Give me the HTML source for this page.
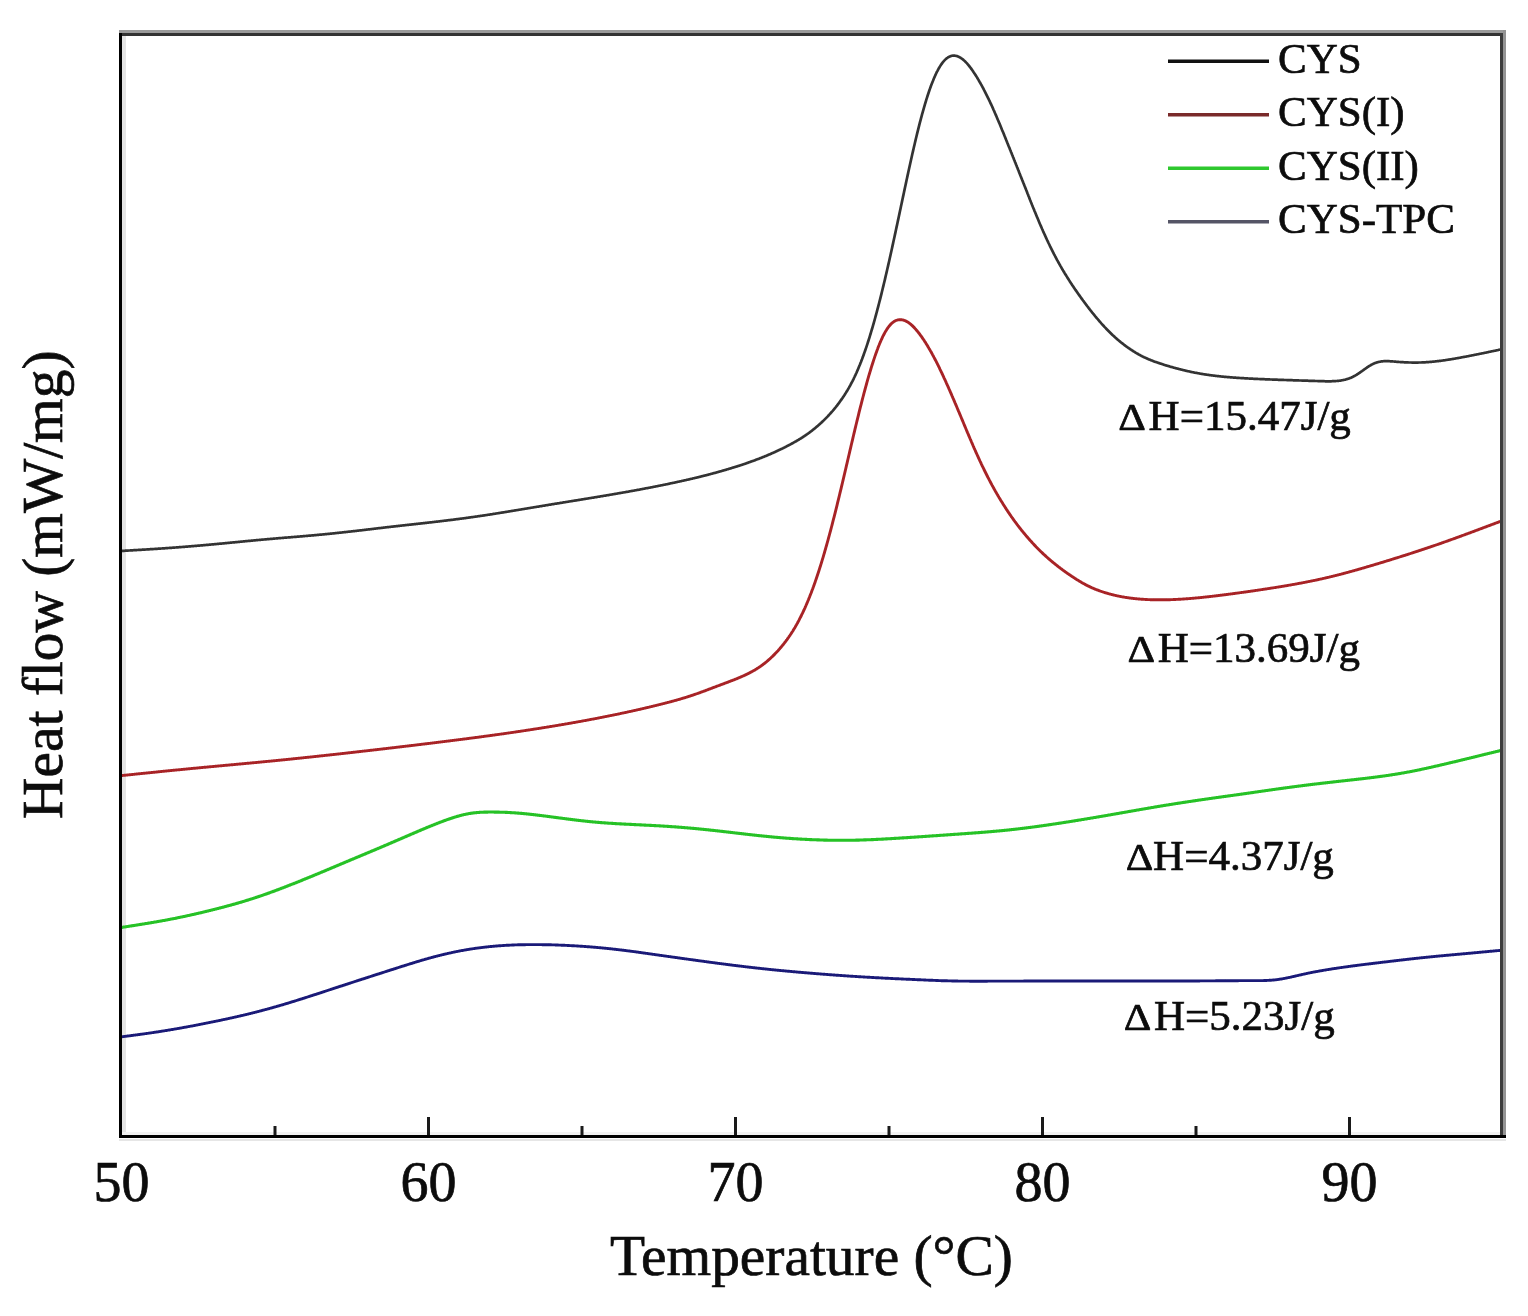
<!DOCTYPE html>
<html><head><meta charset="utf-8"><title>DSC curves</title>
<style>
html,body{margin:0;padding:0;background:#fff;}
body{width:1528px;height:1316px;overflow:hidden;}
svg{display:block;}
text{font-family:"Liberation Serif","Times New Roman",serif;fill:#0c0c0c;stroke:#0c0c0c;stroke-width:0.7px;}
</style></head><body>
<svg width="1528" height="1316" viewBox="0 0 1528 1316">
<rect width="1528" height="1316" fill="#fff"/>
<rect x="122" y="36" width="4" height="1099" fill="#e4e4e4"/>
<rect x="122" y="1132" width="1378" height="3" fill="#f2f2f2"/>
<!-- curves -->
<g fill="none" stroke-linejoin="round" stroke-linecap="butt">
<path d="M121.5 551.0L122.0 550.9 122.5 550.9 123.0 550.9 123.5 550.8 124.0 550.8 124.5 550.8 125.0 550.7 125.5 550.7 126.0 550.7 126.5 550.7 127.0 550.6 127.5 550.6 128.0 550.6 128.5 550.5 129.0 550.5 129.5 550.5 130.0 550.5 130.5 550.4 131.0 550.4 131.5 550.4 132.0 550.3 132.5 550.3 133.0 550.3 133.5 550.2 134.0 550.2 134.5 550.2 135.0 550.2 135.5 550.1 136.0 550.1 136.5 550.1 137.0 550.0 137.5 550.0 138.0 550.0 138.5 549.9 139.0 549.9 139.5 549.9 140.0 549.9 140.5 549.8 141.0 549.8 141.5 549.8 142.0 549.7 142.5 549.7 143.0 549.7 143.5 549.6 144.0 549.6 144.5 549.6 145.0 549.6 145.5 549.5 146.0 549.5 146.5 549.5 147.0 549.4 147.5 549.4 148.0 549.4 148.5 549.3 149.0 549.3 149.5 549.3 150.0 549.2 150.5 549.2 151.0 549.2 151.5 549.1 152.0 549.1 152.5 549.1 153.0 549.1 153.5 549.0 154.0 549.0 154.5 549.0 155.0 548.9 155.5 548.9 156.0 548.9 156.5 548.8 157.0 548.8 157.5 548.8 158.0 548.7 158.5 548.7 159.0 548.7 159.5 548.6 160.0 548.6 160.5 548.6 161.0 548.5 161.5 548.5 162.0 548.5 162.5 548.4 163.0 548.4 163.5 548.4 164.0 548.3 164.5 548.3 165.0 548.3 165.5 548.2 166.0 548.2 166.5 548.2 167.0 548.1 167.5 548.1 168.0 548.0 168.5 548.0 169.0 548.0 169.5 547.9 170.0 547.9 170.5 547.9 171.0 547.8 171.5 547.8 172.0 547.8 172.5 547.7 173.0 547.7 173.5 547.7 174.0 547.6 174.5 547.6 175.0 547.5 175.5 547.5 176.0 547.5 176.5 547.4 177.0 547.4 177.5 547.4 178.0 547.3 178.5 547.3 179.0 547.2 179.5 547.2 180.0 547.2 180.5 547.1 181.0 547.1 181.5 547.0 182.0 547.0 182.5 547.0 183.0 546.9 183.5 546.9 184.0 546.9 184.5 546.8 185.0 546.8 185.5 546.7 186.0 546.7 186.5 546.7 187.0 546.6 187.5 546.6 188.0 546.5 188.5 546.5 189.0 546.4 189.5 546.4 190.0 546.4 190.5 546.3 191.0 546.3 191.5 546.2 192.0 546.2 192.5 546.2 193.0 546.1 193.5 546.1 194.0 546.0 194.5 546.0 195.0 545.9 195.5 545.9 196.0 545.9 196.5 545.8 197.0 545.8 197.5 545.7 198.0 545.7 198.5 545.7 199.0 545.6 199.5 545.6 200.0 545.5 200.5 545.5 201.0 545.4 201.5 545.4 202.0 545.3 202.5 545.3 203.0 545.3 203.5 545.2 204.0 545.2 204.5 545.1 205.0 545.1 205.5 545.0 206.0 545.0 206.5 544.9 207.0 544.9 207.5 544.9 208.0 544.8 208.5 544.8 209.0 544.7 209.5 544.7 210.0 544.6 210.5 544.6 211.0 544.5 211.5 544.5 212.0 544.4 212.5 544.4 213.0 544.4 213.5 544.3 214.0 544.3 214.5 544.2 215.0 544.2 215.5 544.1 216.0 544.1 216.5 544.0 217.0 544.0 217.5 543.9 218.0 543.9 218.5 543.8 219.0 543.8 219.5 543.7 220.0 543.7 220.5 543.6 221.0 543.6 221.5 543.6 222.0 543.5 222.5 543.5 223.0 543.4 223.5 543.4 224.0 543.3 224.5 543.3 225.0 543.2 225.5 543.2 226.0 543.1 226.5 543.1 227.0 543.0 227.5 543.0 228.0 542.9 228.5 542.9 229.0 542.8 229.5 542.8 230.0 542.7 230.5 542.7 231.0 542.6 231.5 542.6 232.0 542.5 232.5 542.5 233.0 542.4 233.5 542.4 234.0 542.3 234.5 542.3 235.0 542.3 235.5 542.2 236.0 542.2 236.5 542.1 237.0 542.1 237.5 542.0 238.0 542.0 238.5 541.9 239.0 541.9 239.5 541.8 240.0 541.8 240.5 541.7 241.0 541.7 241.5 541.6 242.0 541.6 242.5 541.5 243.0 541.5 243.5 541.4 244.0 541.4 244.5 541.3 245.0 541.3 245.5 541.2 246.0 541.2 246.5 541.1 247.0 541.1 247.5 541.0 248.0 541.0 248.5 540.9 249.0 540.9 249.5 540.8 250.0 540.8 250.5 540.8 251.0 540.7 251.5 540.7 252.0 540.6 252.5 540.6 253.0 540.5 253.5 540.5 254.0 540.4 254.5 540.4 255.0 540.3 255.5 540.3 256.0 540.2 256.5 540.2 257.0 540.1 257.5 540.1 258.0 540.0 258.5 540.0 259.0 540.0 259.5 539.9 260.0 539.9 260.5 539.8 261.0 539.8 261.5 539.7 262.0 539.7 262.5 539.6 263.0 539.6 263.5 539.5 264.0 539.5 264.5 539.5 265.0 539.4 265.5 539.4 266.0 539.3 266.5 539.3 267.0 539.2 267.5 539.2 268.0 539.1 268.5 539.1 269.0 539.1 269.5 539.0 270.0 539.0 270.5 538.9 271.0 538.9 271.5 538.8 272.0 538.8 272.5 538.8 273.0 538.7 273.5 538.7 274.0 538.6 274.5 538.6 275.0 538.5 275.5 538.5 276.0 538.5 276.5 538.4 277.0 538.4 277.5 538.3 278.0 538.3 278.5 538.2 279.0 538.2 279.5 538.2 280.0 538.1 280.5 538.1 281.0 538.0 281.5 538.0 282.0 538.0 282.5 537.9 283.0 537.9 283.5 537.8 284.0 537.8 284.5 537.7 285.0 537.7 285.5 537.7 286.0 537.6 286.5 537.6 287.0 537.5 287.5 537.5 288.0 537.5 288.5 537.4 289.0 537.4 289.5 537.3 290.0 537.3 290.5 537.3 291.0 537.2 291.5 537.2 292.0 537.1 292.5 537.1 293.0 537.0 293.5 537.0 294.0 537.0 294.5 536.9 295.0 536.9 295.5 536.8 296.0 536.8 296.5 536.8 297.0 536.7 297.5 536.7 298.0 536.6 298.5 536.6 299.0 536.6 299.5 536.5 300.0 536.5 300.5 536.4 301.0 536.4 301.5 536.3 302.0 536.3 302.5 536.3 303.0 536.2 303.5 536.2 304.0 536.1 304.5 536.1 305.0 536.0 305.5 536.0 306.0 536.0 306.5 535.9 307.0 535.9 307.5 535.8 308.0 535.8 308.5 535.7 309.0 535.7 309.5 535.7 310.0 535.6 310.5 535.6 311.0 535.5 311.5 535.5 312.0 535.4 312.5 535.4 313.0 535.3 313.5 535.3 314.0 535.3 314.5 535.2 315.0 535.2 315.5 535.1 316.0 535.1 316.5 535.0 317.0 535.0 317.5 534.9 318.0 534.9 318.5 534.8 319.0 534.8 319.5 534.7 320.0 534.7 320.5 534.7 321.0 534.6 321.5 534.6 322.0 534.5 322.5 534.5 323.0 534.4 323.5 534.4 324.0 534.3 324.5 534.3 325.0 534.2 325.5 534.2 326.0 534.1 326.5 534.1 327.0 534.0 327.5 534.0 328.0 533.9 328.5 533.9 329.0 533.8 329.5 533.8 330.0 533.7 330.5 533.7 331.0 533.6 331.5 533.6 332.0 533.5 332.5 533.5 333.0 533.4 333.5 533.4 334.0 533.3 334.5 533.3 335.0 533.2 335.5 533.2 336.0 533.1 336.5 533.0 337.0 533.0 337.5 532.9 338.0 532.9 338.5 532.8 339.0 532.8 339.5 532.7 340.0 532.7 340.5 532.6 341.0 532.6 341.5 532.5 342.0 532.5 342.5 532.4 343.0 532.4 343.5 532.3 344.0 532.2 344.5 532.2 345.0 532.1 345.5 532.1 346.0 532.0 346.5 532.0 347.0 531.9 347.5 531.9 348.0 531.8 348.5 531.7 349.0 531.7 349.5 531.6 350.0 531.6 350.5 531.5 351.0 531.5 351.5 531.4 352.0 531.4 352.5 531.3 353.0 531.2 353.5 531.2 354.0 531.1 354.5 531.1 355.0 531.0 355.5 531.0 356.0 530.9 356.5 530.8 357.0 530.8 357.5 530.7 358.0 530.7 358.5 530.6 359.0 530.5 359.5 530.5 360.0 530.4 360.5 530.4 361.0 530.3 361.5 530.3 362.0 530.2 362.5 530.1 363.0 530.1 363.5 530.0 364.0 530.0 364.5 529.9 365.0 529.8 365.5 529.8 366.0 529.7 366.5 529.7 367.0 529.6 367.5 529.5 368.0 529.5 368.5 529.4 369.0 529.4 369.5 529.3 370.0 529.3 370.5 529.2 371.0 529.1 371.5 529.1 372.0 529.0 372.5 529.0 373.0 528.9 373.5 528.8 374.0 528.8 374.5 528.7 375.0 528.7 375.5 528.6 376.0 528.5 376.5 528.5 377.0 528.4 377.5 528.4 378.0 528.3 378.5 528.2 379.0 528.2 379.5 528.1 380.0 528.1 380.5 528.0 381.0 528.0 381.5 527.9 382.0 527.8 382.5 527.8 383.0 527.7 383.5 527.7 384.0 527.6 384.5 527.5 385.0 527.5 385.5 527.4 386.0 527.4 386.5 527.3 387.0 527.2 387.5 527.2 388.0 527.1 388.5 527.1 389.0 527.0 389.5 527.0 390.0 526.9 390.5 526.8 391.0 526.8 391.5 526.7 392.0 526.7 392.5 526.6 393.0 526.6 393.5 526.5 394.0 526.4 394.5 526.4 395.0 526.3 395.5 526.3 396.0 526.2 396.5 526.2 397.0 526.1 397.5 526.1 398.0 526.0 398.5 525.9 399.0 525.9 399.5 525.8 400.0 525.8 400.5 525.7 401.0 525.7 401.5 525.6 402.0 525.5 402.5 525.5 403.0 525.4 403.5 525.4 404.0 525.3 404.5 525.3 405.0 525.2 405.5 525.2 406.0 525.1 406.5 525.0 407.0 525.0 407.5 524.9 408.0 524.9 408.5 524.8 409.0 524.8 409.5 524.7 410.0 524.7 410.5 524.6 411.0 524.6 411.5 524.5 412.0 524.4 412.5 524.4 413.0 524.3 413.5 524.3 414.0 524.2 414.5 524.2 415.0 524.1 415.5 524.1 416.0 524.0 416.5 523.9 417.0 523.9 417.5 523.8 418.0 523.8 418.5 523.7 419.0 523.7 419.5 523.6 420.0 523.6 420.5 523.5 421.0 523.4 421.5 523.4 422.0 523.3 422.5 523.3 423.0 523.2 423.5 523.2 424.0 523.1 424.5 523.1 425.0 523.0 425.5 522.9 426.0 522.9 426.5 522.8 427.0 522.8 427.5 522.7 428.0 522.7 428.5 522.6 429.0 522.5 429.5 522.5 430.0 522.4 430.5 522.4 431.0 522.3 431.5 522.3 432.0 522.2 432.5 522.1 433.0 522.1 433.5 522.0 434.0 522.0 434.5 521.9 435.0 521.9 435.5 521.8 436.0 521.7 436.5 521.7 437.0 521.6 437.5 521.6 438.0 521.5 438.5 521.5 439.0 521.4 439.5 521.3 440.0 521.3 440.5 521.2 441.0 521.2 441.5 521.1 442.0 521.0 442.5 521.0 443.0 520.9 443.5 520.9 444.0 520.8 444.5 520.7 445.0 520.7 445.5 520.6 446.0 520.6 446.5 520.5 447.0 520.4 447.5 520.4 448.0 520.3 448.5 520.2 449.0 520.2 449.5 520.1 450.0 520.1 450.5 520.0 451.0 519.9 451.5 519.9 452.0 519.8 452.5 519.8 453.0 519.7 453.5 519.6 454.0 519.6 454.5 519.5 455.0 519.4 455.5 519.4 456.0 519.3 456.5 519.2 457.0 519.2 457.5 519.1 458.0 519.1 458.5 519.0 459.0 518.9 459.5 518.9 460.0 518.8 460.5 518.7 461.0 518.7 461.5 518.6 462.0 518.5 462.5 518.5 463.0 518.4 463.5 518.3 464.0 518.3 464.5 518.2 465.0 518.1 465.5 518.1 466.0 518.0 466.5 517.9 467.0 517.9 467.5 517.8 468.0 517.7 468.5 517.7 469.0 517.6 469.5 517.5 470.0 517.4 470.5 517.4 471.0 517.3 471.5 517.2 472.0 517.2 472.5 517.1 473.0 517.0 473.5 517.0 474.0 516.9 474.5 516.8 475.0 516.7 475.5 516.7 476.0 516.6 476.5 516.5 477.0 516.5 477.5 516.4 478.0 516.3 478.5 516.2 479.0 516.2 479.5 516.1 480.0 516.0 480.5 515.9 481.0 515.9 481.5 515.8 482.0 515.7 482.5 515.6 483.0 515.6 483.5 515.5 484.0 515.4 484.5 515.3 485.0 515.3 485.5 515.2 486.0 515.1 486.5 515.0 487.0 515.0 487.5 514.9 488.0 514.8 488.5 514.7 489.0 514.6 489.5 514.6 490.0 514.5 490.5 514.4 491.0 514.3 491.5 514.3 492.0 514.2 492.5 514.1 493.0 514.0 493.5 513.9 494.0 513.9 494.5 513.8 495.0 513.7 495.5 513.6 496.0 513.5 496.5 513.5 497.0 513.4 497.5 513.3 498.0 513.2 498.5 513.1 499.0 513.1 499.5 513.0 500.0 512.9 500.5 512.8 501.0 512.7 501.5 512.7 502.0 512.6 502.5 512.5 503.0 512.4 503.5 512.3 504.0 512.3 504.5 512.2 505.0 512.1 505.5 512.0 506.0 511.9 506.5 511.9 507.0 511.8 507.5 511.7 508.0 511.6 508.5 511.5 509.0 511.4 509.5 511.4 510.0 511.3 510.5 511.2 511.0 511.1 511.5 511.0 512.0 510.9 512.5 510.9 513.0 510.8 513.5 510.7 514.0 510.6 514.5 510.5 515.0 510.4 515.5 510.4 516.0 510.3 516.5 510.2 517.0 510.1 517.5 510.0 518.0 510.0 518.5 509.9 519.0 509.8 519.5 509.7 520.0 509.6 520.5 509.5 521.0 509.5 521.5 509.4 522.0 509.3 522.5 509.2 523.0 509.1 523.5 509.0 524.0 509.0 524.5 508.9 525.0 508.8 525.5 508.7 526.0 508.6 526.5 508.5 527.0 508.5 527.5 508.4 528.0 508.3 528.5 508.2 529.0 508.1 529.5 508.0 530.0 508.0 530.5 507.9 531.0 507.8 531.5 507.7 532.0 507.6 532.5 507.5 533.0 507.5 533.5 507.4 534.0 507.3 534.5 507.2 535.0 507.1 535.5 507.0 536.0 507.0 536.5 506.9 537.0 506.8 537.5 506.7 538.0 506.6 538.5 506.6 539.0 506.5 539.5 506.4 540.0 506.3 540.5 506.2 541.0 506.1 541.5 506.1 542.0 506.0 542.5 505.9 543.0 505.8 543.5 505.7 544.0 505.6 544.5 505.6 545.0 505.5 545.5 505.4 546.0 505.3 546.5 505.2 547.0 505.1 547.5 505.1 548.0 505.0 548.5 504.9 549.0 504.8 549.5 504.7 550.0 504.7 550.5 504.6 551.0 504.5 551.5 504.4 552.0 504.3 552.5 504.2 553.0 504.2 553.5 504.1 554.0 504.0 554.5 503.9 555.0 503.8 555.5 503.7 556.0 503.7 556.5 503.6 557.0 503.5 557.5 503.4 558.0 503.3 558.5 503.3 559.0 503.2 559.5 503.1 560.0 503.0 560.5 502.9 561.0 502.8 561.5 502.8 562.0 502.7 562.5 502.6 563.0 502.5 563.5 502.4 564.0 502.4 564.5 502.3 565.0 502.2 565.5 502.1 566.0 502.0 566.5 502.0 567.0 501.9 567.5 501.8 568.0 501.7 568.5 501.6 569.0 501.5 569.5 501.5 570.0 501.4 570.5 501.3 571.0 501.2 571.5 501.1 572.0 501.1 572.5 501.0 573.0 500.9 573.5 500.8 574.0 500.7 574.5 500.7 575.0 500.6 575.5 500.5 576.0 500.4 576.5 500.3 577.0 500.3 577.5 500.2 578.0 500.1 578.5 500.0 579.0 499.9 579.5 499.8 580.0 499.8 580.5 499.7 581.0 499.6 581.5 499.5 582.0 499.4 582.5 499.4 583.0 499.3 583.5 499.2 584.0 499.1 584.5 499.0 585.0 498.9 585.5 498.9 586.0 498.8 586.5 498.7 587.0 498.6 587.5 498.5 588.0 498.5 588.5 498.4 589.0 498.3 589.5 498.2 590.0 498.1 590.5 498.0 591.0 498.0 591.5 497.9 592.0 497.8 592.5 497.7 593.0 497.6 593.5 497.6 594.0 497.5 594.5 497.4 595.0 497.3 595.5 497.2 596.0 497.1 596.5 497.1 597.0 497.0 597.5 496.9 598.0 496.8 598.5 496.7 599.0 496.6 599.5 496.6 600.0 496.5 600.5 496.4 601.0 496.3 601.5 496.2 602.0 496.1 602.5 496.1 603.0 496.0 603.5 495.9 604.0 495.8 604.5 495.7 605.0 495.6 605.5 495.6 606.0 495.5 606.5 495.4 607.0 495.3 607.5 495.2 608.0 495.1 608.5 495.1 609.0 495.0 609.5 494.9 610.0 494.8 610.5 494.7 611.0 494.6 611.5 494.5 612.0 494.5 612.5 494.4 613.0 494.3 613.5 494.2 614.0 494.1 614.5 494.0 615.0 493.9 615.5 493.9 616.0 493.8 616.5 493.7 617.0 493.6 617.5 493.5 618.0 493.4 618.5 493.3 619.0 493.2 619.5 493.2 620.0 493.1 620.5 493.0 621.0 492.9 621.5 492.8 622.0 492.7 622.5 492.6 623.0 492.5 623.5 492.5 624.0 492.4 624.5 492.3 625.0 492.2 625.5 492.1 626.0 492.0 626.5 491.9 627.0 491.8 627.5 491.8 628.0 491.7 628.5 491.6 629.0 491.5 629.5 491.4 630.0 491.3 630.5 491.2 631.0 491.1 631.5 491.0 632.0 490.9 632.5 490.9 633.0 490.8 633.5 490.7 634.0 490.6 634.5 490.5 635.0 490.4 635.5 490.3 636.0 490.2 636.5 490.1 637.0 490.0 637.5 489.9 638.0 489.8 638.5 489.8 639.0 489.7 639.5 489.6 640.0 489.5 640.5 489.4 641.0 489.3 641.5 489.2 642.0 489.1 642.5 489.0 643.0 488.9 643.5 488.8 644.0 488.7 644.5 488.6 645.0 488.5 645.5 488.4 646.0 488.3 646.5 488.2 647.0 488.1 647.5 488.1 648.0 488.0 648.5 487.9 649.0 487.8 649.5 487.7 650.0 487.6 650.5 487.5 651.0 487.4 651.5 487.3 652.0 487.2 652.5 487.1 653.0 487.0 653.5 486.9 654.0 486.8 654.5 486.7 655.0 486.6 655.5 486.5 656.0 486.4 656.5 486.3 657.0 486.2 657.5 486.1 658.0 486.0 658.5 485.9 659.0 485.8 659.5 485.7 660.0 485.6 660.5 485.5 661.0 485.4 661.5 485.3 662.0 485.2 662.5 485.1 663.0 485.0 663.5 484.9 664.0 484.8 664.5 484.7 665.0 484.6 665.5 484.5 666.0 484.4 666.5 484.3 667.0 484.2 667.5 484.1 668.0 484.0 668.5 483.9 669.0 483.7 669.5 483.6 670.0 483.5 670.5 483.4 671.0 483.3 671.5 483.2 672.0 483.1 672.5 483.0 673.0 482.9 673.5 482.8 674.0 482.7 674.5 482.6 675.0 482.5 675.5 482.4 676.0 482.3 676.5 482.2 677.0 482.0 677.5 481.9 678.0 481.8 678.5 481.7 679.0 481.6 679.5 481.5 680.0 481.4 680.5 481.3 681.0 481.2 681.5 481.1 682.0 480.9 682.5 480.8 683.0 480.7 683.5 480.6 684.0 480.5 684.5 480.4 685.0 480.3 685.5 480.2 686.0 480.1 686.5 479.9 687.0 479.8 687.5 479.7 688.0 479.6 688.5 479.5 689.0 479.4 689.5 479.2 690.0 479.1 690.5 479.0 691.0 478.9 691.5 478.8 692.0 478.7 692.5 478.6 693.0 478.4 693.5 478.3 694.0 478.2 694.5 478.1 695.0 478.0 695.5 477.8 696.0 477.7 696.5 477.6 697.0 477.5 697.5 477.4 698.0 477.2 698.5 477.1 699.0 477.0 699.5 476.9 700.0 476.7 700.5 476.6 701.0 476.5 701.5 476.4 702.0 476.3 702.5 476.1 703.0 476.0 703.5 475.9 704.0 475.8 704.5 475.6 705.0 475.5 705.5 475.4 706.0 475.2 706.5 475.1 707.0 475.0 707.5 474.9 708.0 474.7 708.5 474.6 709.0 474.5 709.5 474.3 710.0 474.2 710.5 474.1 711.0 473.9 711.5 473.8 712.0 473.7 712.5 473.5 713.0 473.4 713.5 473.3 714.0 473.1 714.5 473.0 715.0 472.9 715.5 472.7 716.0 472.6 716.5 472.5 717.0 472.3 717.5 472.2 718.0 472.0 718.5 471.9 719.0 471.8 719.5 471.6 720.0 471.5 720.5 471.3 721.0 471.2 721.5 471.1 722.0 470.9 722.5 470.8 723.0 470.6 723.5 470.5 724.0 470.3 724.5 470.2 725.0 470.0 725.5 469.9 726.0 469.7 726.5 469.6 727.0 469.4 727.5 469.3 728.0 469.2 728.5 469.0 729.0 468.8 729.5 468.7 730.0 468.5 730.5 468.4 731.0 468.2 731.5 468.1 732.0 467.9 732.5 467.8 733.0 467.6 733.5 467.5 734.0 467.3 734.5 467.2 735.0 467.0 735.5 466.8 736.0 466.7 736.5 466.5 737.0 466.4 737.5 466.2 738.0 466.0 738.5 465.9 739.0 465.7 739.5 465.6 740.0 465.4 740.5 465.2 741.0 465.1 741.5 464.9 742.0 464.7 742.5 464.6 743.0 464.4 743.5 464.2 744.0 464.1 744.5 463.9 745.0 463.7 745.5 463.6 746.0 463.4 746.5 463.2 747.0 463.0 747.5 462.9 748.0 462.7 748.5 462.5 749.0 462.3 749.5 462.2 750.0 462.0 750.5 461.8 751.0 461.6 751.5 461.5 752.0 461.3 752.5 461.1 753.0 460.9 753.5 460.7 754.0 460.6 754.5 460.4 755.0 460.2 755.5 460.0 756.0 459.8 756.5 459.6 757.0 459.4 757.5 459.3 758.0 459.1 758.5 458.9 759.0 458.7 759.5 458.5 760.0 458.3 760.5 458.1 761.0 457.9 761.5 457.7 762.0 457.5 762.5 457.3 763.0 457.1 763.5 456.9 764.0 456.7 764.5 456.5 765.0 456.3 765.5 456.1 766.0 455.9 766.5 455.7 767.0 455.5 767.5 455.3 768.0 455.0 768.5 454.8 769.0 454.6 769.5 454.4 770.0 454.2 770.5 454.0 771.0 453.8 771.5 453.5 772.0 453.3 772.5 453.1 773.0 452.9 773.5 452.6 774.0 452.4 774.5 452.2 775.0 452.0 775.5 451.7 776.0 451.5 776.5 451.3 777.0 451.0 777.5 450.8 778.0 450.6 778.5 450.3 779.0 450.1 779.5 449.9 780.0 449.6 780.5 449.4 781.0 449.1 781.5 448.9 782.0 448.7 782.5 448.4 783.0 448.2 783.5 447.9 784.0 447.7 784.5 447.4 785.0 447.2 785.5 446.9 786.0 446.7 786.5 446.4 787.0 446.1 787.5 445.9 788.0 445.6 788.5 445.4 789.0 445.1 789.5 444.9 790.0 444.6 790.5 444.3 791.0 444.1 791.5 443.8 792.0 443.5 792.5 443.2 793.0 443.0 793.5 442.7 794.0 442.4 794.5 442.1 795.0 441.8 795.5 441.6 796.0 441.3 796.5 441.0 797.0 440.7 797.5 440.4 798.0 440.1 798.5 439.8 799.0 439.5 799.5 439.2 800.0 438.9 800.5 438.6 801.0 438.3 801.5 438.0 802.0 437.6 802.5 437.3 803.0 437.0 803.5 436.7 804.0 436.3 804.5 436.0 805.0 435.7 805.5 435.3 806.0 435.0 806.5 434.6 807.0 434.3 807.5 433.9 808.0 433.6 808.5 433.2 809.0 432.9 809.5 432.5 810.0 432.1 810.5 431.7 811.0 431.4 811.5 431.0 812.0 430.6 812.5 430.2 813.0 429.8 813.5 429.4 814.0 429.0 814.5 428.6 815.0 428.2 815.5 427.8 816.0 427.4 816.5 426.9 817.0 426.5 817.5 426.1 818.0 425.6 818.5 425.2 819.0 424.8 819.5 424.3 820.0 423.9 820.5 423.4 821.0 423.0 821.5 422.5 822.0 422.0 822.5 421.5 823.0 421.1 823.5 420.6 824.0 420.1 824.5 419.6 825.0 419.1 825.5 418.6 826.0 418.1 826.5 417.6 827.0 417.1 827.5 416.6 828.0 416.0 828.5 415.5 829.0 415.0 829.5 414.4 830.0 413.9 830.5 413.3 831.0 412.8 831.5 412.2 832.0 411.6 832.5 411.1 833.0 410.5 833.5 409.9 834.0 409.3 834.5 408.7 835.0 408.1 835.5 407.5 836.0 406.8 836.5 406.2 837.0 405.6 837.5 404.9 838.0 404.2 838.5 403.6 839.0 402.9 839.5 402.2 840.0 401.5 840.5 400.8 841.0 400.1 841.5 399.4 842.0 398.7 842.5 398.0 843.0 397.2 843.5 396.5 844.0 395.7 844.5 395.0 845.0 394.2 845.5 393.4 846.0 392.6 846.5 391.8 847.0 391.0 847.5 390.2 848.0 389.3 848.5 388.4 849.0 387.6 849.5 386.7 850.0 385.8 850.5 384.9 851.0 383.9 851.5 383.0 852.0 382.0 852.5 381.1 853.0 380.1 853.5 379.1 854.0 378.0 854.5 377.0 855.0 375.9 855.5 374.9 856.0 373.8 856.5 372.7 857.0 371.5 857.5 370.4 858.0 369.2 858.5 368.0 859.0 366.8 859.5 365.6 860.0 364.4 860.5 363.1 861.0 361.9 861.5 360.6 862.0 359.3 862.5 357.9 863.0 356.6 863.5 355.2 864.0 353.8 864.5 352.4 865.0 351.0 865.5 349.5 866.0 348.1 866.5 346.6 867.0 345.1 867.5 343.6 868.0 342.0 868.5 340.5 869.0 338.9 869.5 337.3 870.0 335.7 870.5 334.0 871.0 332.4 871.5 330.7 872.0 329.0 872.5 327.3 873.0 325.6 873.5 323.8 874.0 322.1 874.5 320.3 875.0 318.5 875.5 316.7 876.0 314.8 876.5 313.0 877.0 311.1 877.5 309.2 878.0 307.3 878.5 305.4 879.0 303.5 879.5 301.5 880.0 299.6 880.5 297.6 881.0 295.6 881.5 293.6 882.0 291.5 882.5 289.5 883.0 287.4 883.5 285.4 884.0 283.3 884.5 281.2 885.0 279.1 885.5 276.9 886.0 274.8 886.5 272.6 887.0 270.5 887.5 268.3 888.0 266.1 888.5 263.9 889.0 261.7 889.5 259.5 890.0 257.2 890.5 255.0 891.0 252.7 891.5 250.5 892.0 248.2 892.5 245.9 893.0 243.6 893.5 241.3 894.0 239.0 894.5 236.7 895.0 234.4 895.5 232.1 896.0 229.8 896.5 227.4 897.0 225.1 897.5 222.8 898.0 220.4 898.5 218.1 899.0 215.7 899.5 213.4 900.0 211.0 900.5 208.7 901.0 206.3 901.5 204.0 902.0 201.6 902.5 199.3 903.0 196.9 903.5 194.6 904.0 192.2 904.5 189.9 905.0 187.5 905.5 185.2 906.0 182.9 906.5 180.5 907.0 178.2 907.5 175.9 908.0 173.6 908.5 171.3 909.0 169.0 909.5 166.7 910.0 164.5 910.5 162.2 911.0 160.0 911.5 157.8 912.0 155.5 912.5 153.3 913.0 151.1 913.5 149.0 914.0 146.8 914.5 144.7 915.0 142.5 915.5 140.4 916.0 138.3 916.5 136.2 917.0 134.2 917.5 132.1 918.0 130.1 918.5 128.1 919.0 126.1 919.5 124.2 920.0 122.2 920.5 120.3 921.0 118.4 921.5 116.6 922.0 114.7 922.5 112.9 923.0 111.1 923.5 109.3 924.0 107.6 924.5 105.8 925.0 104.1 925.5 102.5 926.0 100.8 926.5 99.2 927.0 97.6 927.5 96.0 928.0 94.5 928.5 93.0 929.0 91.5 929.5 90.0 930.0 88.6 930.5 87.2 931.0 85.8 931.5 84.5 932.0 83.2 932.5 81.9 933.0 80.7 933.5 79.4 934.0 78.2 934.5 77.1 935.0 76.0 935.5 74.9 936.0 73.8 936.5 72.7 937.0 71.7 937.5 70.8 938.0 69.8 938.5 68.9 939.0 68.0 939.5 67.2 940.0 66.4 940.5 65.6 941.0 64.8 941.5 64.1 942.0 63.4 942.5 62.7 943.0 62.1 943.5 61.5 944.0 60.9 944.5 60.4 945.0 59.9 945.5 59.4 946.0 58.9 946.5 58.5 947.0 58.1 947.5 57.8 948.0 57.4 948.5 57.1 949.0 56.9 949.5 56.6 950.0 56.4 950.5 56.2 951.0 56.0 951.5 55.9 952.0 55.8 952.5 55.7 953.0 55.7 953.5 55.6 954.0 55.6 954.5 55.7 955.0 55.7 955.5 55.8 956.0 55.9 956.5 56.0 957.0 56.1 957.5 56.3 958.0 56.5 958.5 56.7 959.0 56.9 959.5 57.2 960.0 57.4 960.5 57.7 961.0 58.1 961.5 58.4 962.0 58.8 962.5 59.1 963.0 59.5 963.5 60.0 964.0 60.4 964.5 60.9 965.0 61.4 965.5 61.8 966.0 62.4 966.5 62.9 967.0 63.4 967.5 64.0 968.0 64.6 968.5 65.2 969.0 65.8 969.5 66.4 970.0 67.1 970.5 67.7 971.0 68.4 971.5 69.1 972.0 69.8 972.5 70.5 973.0 71.2 973.5 72.0 974.0 72.7 974.5 73.5 975.0 74.2 975.5 75.0 976.0 75.8 976.5 76.6 977.0 77.4 977.5 78.3 978.0 79.1 978.5 79.9 979.0 80.8 979.5 81.7 980.0 82.5 980.5 83.4 981.0 84.3 981.5 85.2 982.0 86.1 982.5 87.0 983.0 88.0 983.5 88.9 984.0 89.9 984.5 90.8 985.0 91.8 985.5 92.8 986.0 93.8 986.5 94.8 987.0 95.8 987.5 96.8 988.0 97.8 988.5 98.8 989.0 99.9 989.5 100.9 990.0 102.0 990.5 103.1 991.0 104.2 991.5 105.2 992.0 106.3 992.5 107.4 993.0 108.5 993.5 109.7 994.0 110.8 994.5 111.9 995.0 113.1 995.5 114.2 996.0 115.4 996.5 116.5 997.0 117.7 997.5 118.9 998.0 120.1 998.5 121.2 999.0 122.4 999.5 123.6 1000.0 124.8 1000.5 126.0 1001.0 127.2 1001.5 128.4 1002.0 129.7 1002.5 130.9 1003.0 132.1 1003.5 133.3 1004.0 134.5 1004.5 135.8 1005.0 137.0 1005.5 138.2 1006.0 139.5 1006.5 140.7 1007.0 141.9 1007.5 143.2 1008.0 144.4 1008.5 145.7 1009.0 146.9 1009.5 148.1 1010.0 149.4 1010.5 150.6 1011.0 151.9 1011.5 153.1 1012.0 154.4 1012.5 155.6 1013.0 156.9 1013.5 158.1 1014.0 159.4 1014.5 160.6 1015.0 161.9 1015.5 163.1 1016.0 164.4 1016.5 165.6 1017.0 166.9 1017.5 168.1 1018.0 169.4 1018.5 170.6 1019.0 171.9 1019.5 173.2 1020.0 174.4 1020.5 175.7 1021.0 176.9 1021.5 178.2 1022.0 179.5 1022.5 180.7 1023.0 182.0 1023.5 183.3 1024.0 184.5 1024.5 185.8 1025.0 187.0 1025.5 188.3 1026.0 189.6 1026.5 190.8 1027.0 192.1 1027.5 193.4 1028.0 194.6 1028.5 195.9 1029.0 197.1 1029.5 198.4 1030.0 199.7 1030.5 200.9 1031.0 202.2 1031.5 203.4 1032.0 204.7 1032.5 205.9 1033.0 207.2 1033.5 208.4 1034.0 209.6 1034.5 210.9 1035.0 212.1 1035.5 213.3 1036.0 214.5 1036.5 215.7 1037.0 216.9 1037.5 218.1 1038.0 219.3 1038.5 220.5 1039.0 221.7 1039.5 222.9 1040.0 224.1 1040.5 225.2 1041.0 226.4 1041.5 227.5 1042.0 228.7 1042.5 229.8 1043.0 231.0 1043.5 232.1 1044.0 233.2 1044.5 234.3 1045.0 235.4 1045.5 236.5 1046.0 237.6 1046.5 238.7 1047.0 239.8 1047.5 240.8 1048.0 241.9 1048.5 243.0 1049.0 244.0 1049.5 245.0 1050.0 246.1 1050.5 247.1 1051.0 248.1 1051.5 249.1 1052.0 250.1 1052.5 251.1 1053.0 252.1 1053.5 253.1 1054.0 254.1 1054.5 255.0 1055.0 256.0 1055.5 257.0 1056.0 257.9 1056.5 258.8 1057.0 259.8 1057.5 260.7 1058.0 261.6 1058.5 262.5 1059.0 263.4 1059.5 264.3 1060.0 265.2 1060.5 266.1 1061.0 266.9 1061.5 267.8 1062.0 268.7 1062.5 269.5 1063.0 270.4 1063.5 271.2 1064.0 272.0 1064.5 272.9 1065.0 273.7 1065.5 274.5 1066.0 275.3 1066.5 276.1 1067.0 276.9 1067.5 277.7 1068.0 278.5 1068.5 279.3 1069.0 280.1 1069.5 280.9 1070.0 281.7 1070.5 282.4 1071.0 283.2 1071.5 283.9 1072.0 284.7 1072.5 285.5 1073.0 286.2 1073.5 286.9 1074.0 287.7 1074.5 288.4 1075.0 289.2 1075.5 289.9 1076.0 290.6 1076.5 291.3 1077.0 292.1 1077.5 292.8 1078.0 293.5 1078.5 294.2 1079.0 294.9 1079.5 295.6 1080.0 296.3 1080.5 297.0 1081.0 297.7 1081.5 298.4 1082.0 299.1 1082.5 299.8 1083.0 300.5 1083.5 301.1 1084.0 301.8 1084.5 302.5 1085.0 303.2 1085.5 303.8 1086.0 304.5 1086.5 305.2 1087.0 305.8 1087.5 306.5 1088.0 307.1 1088.5 307.8 1089.0 308.4 1089.5 309.1 1090.0 309.7 1090.5 310.4 1091.0 311.0 1091.5 311.6 1092.0 312.3 1092.5 312.9 1093.0 313.5 1093.5 314.1 1094.0 314.7 1094.5 315.3 1095.0 316.0 1095.5 316.6 1096.0 317.2 1096.5 317.8 1097.0 318.4 1097.5 318.9 1098.0 319.5 1098.5 320.1 1099.0 320.7 1099.5 321.3 1100.0 321.9 1100.5 322.4 1101.0 323.0 1101.5 323.6 1102.0 324.1 1102.5 324.7 1103.0 325.2 1103.5 325.8 1104.0 326.3 1104.5 326.9 1105.0 327.4 1105.5 327.9 1106.0 328.5 1106.5 329.0 1107.0 329.5 1107.5 330.0 1108.0 330.5 1108.5 331.0 1109.0 331.5 1109.5 332.0 1110.0 332.5 1110.5 333.0 1111.0 333.5 1111.5 334.0 1112.0 334.5 1112.5 335.0 1113.0 335.4 1113.5 335.9 1114.0 336.3 1114.5 336.8 1115.0 337.3 1115.5 337.7 1116.0 338.1 1116.5 338.6 1117.0 339.0 1117.5 339.5 1118.0 339.9 1118.5 340.3 1119.0 340.7 1119.5 341.1 1120.0 341.5 1120.5 342.0 1121.0 342.4 1121.5 342.8 1122.0 343.2 1122.5 343.5 1123.0 343.9 1123.5 344.3 1124.0 344.7 1124.5 345.1 1125.0 345.5 1125.5 345.8 1126.0 346.2 1126.5 346.6 1127.0 346.9 1127.5 347.3 1128.0 347.6 1128.5 348.0 1129.0 348.3 1129.5 348.7 1130.0 349.0 1130.5 349.4 1131.0 349.7 1131.5 350.0 1132.0 350.3 1132.5 350.7 1133.0 351.0 1133.5 351.3 1134.0 351.6 1134.5 351.9 1135.0 352.2 1135.5 352.6 1136.0 352.9 1136.5 353.2 1137.0 353.4 1137.5 353.7 1138.0 354.0 1138.5 354.3 1139.0 354.6 1139.5 354.9 1140.0 355.1 1140.5 355.4 1141.0 355.7 1141.5 355.9 1142.0 356.2 1142.5 356.4 1143.0 356.7 1143.5 356.9 1144.0 357.2 1144.5 357.4 1145.0 357.6 1145.5 357.9 1146.0 358.1 1146.5 358.3 1147.0 358.5 1147.5 358.8 1148.0 359.0 1148.5 359.2 1149.0 359.4 1149.5 359.6 1150.0 359.8 1150.5 360.0 1151.0 360.2 1151.5 360.4 1152.0 360.6 1152.5 360.8 1153.0 361.0 1153.5 361.2 1154.0 361.4 1154.5 361.6 1155.0 361.7 1155.5 361.9 1156.0 362.1 1156.5 362.3 1157.0 362.4 1157.5 362.6 1158.0 362.8 1158.5 363.0 1159.0 363.1 1159.5 363.3 1160.0 363.5 1160.5 363.6 1161.0 363.8 1161.5 363.9 1162.0 364.1 1162.5 364.3 1163.0 364.4 1163.5 364.6 1164.0 364.7 1164.5 364.9 1165.0 365.1 1165.5 365.2 1166.0 365.4 1166.5 365.5 1167.0 365.7 1167.5 365.8 1168.0 366.0 1168.5 366.1 1169.0 366.3 1169.5 366.4 1170.0 366.6 1170.5 366.7 1171.0 366.9 1171.5 367.0 1172.0 367.1 1172.5 367.3 1173.0 367.4 1173.5 367.6 1174.0 367.7 1174.5 367.8 1175.0 368.0 1175.5 368.1 1176.0 368.2 1176.5 368.4 1177.0 368.5 1177.5 368.6 1178.0 368.8 1178.5 368.9 1179.0 369.0 1179.5 369.2 1180.0 369.3 1180.5 369.4 1181.0 369.5 1181.5 369.7 1182.0 369.8 1182.5 369.9 1183.0 370.0 1183.5 370.2 1184.0 370.3 1184.5 370.4 1185.0 370.5 1185.5 370.6 1186.0 370.7 1186.5 370.9 1187.0 371.0 1187.5 371.1 1188.0 371.2 1188.5 371.3 1189.0 371.4 1189.5 371.5 1190.0 371.6 1190.5 371.7 1191.0 371.9 1191.5 372.0 1192.0 372.1 1192.5 372.2 1193.0 372.3 1193.5 372.4 1194.0 372.5 1194.5 372.6 1195.0 372.7 1195.5 372.8 1196.0 372.9 1196.5 372.9 1197.0 373.0 1197.5 373.1 1198.0 373.2 1198.5 373.3 1199.0 373.4 1199.5 373.5 1200.0 373.6 1200.5 373.7 1201.0 373.8 1201.5 373.8 1202.0 373.9 1202.5 374.0 1203.0 374.1 1203.5 374.2 1204.0 374.3 1204.5 374.3 1205.0 374.4 1205.5 374.5 1206.0 374.6 1206.5 374.6 1207.0 374.7 1207.5 374.8 1208.0 374.9 1208.5 374.9 1209.0 375.0 1209.5 375.1 1210.0 375.1 1210.5 375.2 1211.0 375.3 1211.5 375.3 1212.0 375.4 1212.5 375.5 1213.0 375.5 1213.5 375.6 1214.0 375.7 1214.5 375.7 1215.0 375.8 1215.5 375.8 1216.0 375.9 1216.5 376.0 1217.0 376.0 1217.5 376.1 1218.0 376.1 1218.5 376.2 1219.0 376.2 1219.5 376.3 1220.0 376.4 1220.5 376.4 1221.0 376.5 1221.5 376.5 1222.0 376.6 1222.5 376.6 1223.0 376.7 1223.5 376.7 1224.0 376.8 1224.5 376.8 1225.0 376.9 1225.5 376.9 1226.0 376.9 1226.5 377.0 1227.0 377.0 1227.5 377.1 1228.0 377.1 1228.5 377.2 1229.0 377.2 1229.5 377.2 1230.0 377.3 1230.5 377.3 1231.0 377.4 1231.5 377.4 1232.0 377.4 1232.5 377.5 1233.0 377.5 1233.5 377.6 1234.0 377.6 1234.5 377.6 1235.0 377.7 1235.5 377.7 1236.0 377.7 1236.5 377.8 1237.0 377.8 1237.5 377.8 1238.0 377.9 1238.5 377.9 1239.0 377.9 1239.5 378.0 1240.0 378.0 1240.5 378.0 1241.0 378.1 1241.5 378.1 1242.0 378.1 1242.5 378.2 1243.0 378.2 1243.5 378.2 1244.0 378.2 1244.5 378.3 1245.0 378.3 1245.5 378.3 1246.0 378.4 1246.5 378.4 1247.0 378.4 1247.5 378.4 1248.0 378.5 1248.5 378.5 1249.0 378.5 1249.5 378.6 1250.0 378.6 1250.5 378.6 1251.0 378.6 1251.5 378.7 1252.0 378.7 1252.5 378.7 1253.0 378.7 1253.5 378.8 1254.0 378.8 1254.5 378.8 1255.0 378.8 1255.5 378.9 1256.0 378.9 1256.5 378.9 1257.0 378.9 1257.5 378.9 1258.0 379.0 1258.5 379.0 1259.0 379.0 1259.5 379.0 1260.0 379.1 1260.5 379.1 1261.0 379.1 1261.5 379.1 1262.0 379.1 1262.5 379.2 1263.0 379.2 1263.5 379.2 1264.0 379.2 1264.5 379.2 1265.0 379.3 1265.5 379.3 1266.0 379.3 1266.5 379.3 1267.0 379.3 1267.5 379.4 1268.0 379.4 1268.5 379.4 1269.0 379.4 1269.5 379.4 1270.0 379.5 1270.5 379.5 1271.0 379.5 1271.5 379.5 1272.0 379.5 1272.5 379.6 1273.0 379.6 1273.5 379.6 1274.0 379.6 1274.5 379.6 1275.0 379.6 1275.5 379.7 1276.0 379.7 1276.5 379.7 1277.0 379.7 1277.5 379.7 1278.0 379.8 1278.5 379.8 1279.0 379.8 1279.5 379.8 1280.0 379.8 1280.5 379.8 1281.0 379.9 1281.5 379.9 1282.0 379.9 1282.5 379.9 1283.0 379.9 1283.5 379.9 1284.0 380.0 1284.5 380.0 1285.0 380.0 1285.5 380.0 1286.0 380.0 1286.5 380.0 1287.0 380.1 1287.5 380.1 1288.0 380.1 1288.5 380.1 1289.0 380.1 1289.5 380.1 1290.0 380.2 1290.5 380.2 1291.0 380.2 1291.5 380.2 1292.0 380.2 1292.5 380.2 1293.0 380.3 1293.5 380.3 1294.0 380.3 1294.5 380.3 1295.0 380.3 1295.5 380.3 1296.0 380.4 1296.5 380.4 1297.0 380.4 1297.5 380.4 1298.0 380.4 1298.5 380.4 1299.0 380.5 1299.5 380.5 1300.0 380.5 1300.5 380.5 1301.0 380.5 1301.5 380.5 1302.0 380.6 1302.5 380.6 1303.0 380.6 1303.5 380.6 1304.0 380.6 1304.5 380.6 1305.0 380.6 1305.5 380.7 1306.0 380.7 1306.5 380.7 1307.0 380.7 1307.5 380.7 1308.0 380.7 1308.5 380.8 1309.0 380.8 1309.5 380.8 1310.0 380.8 1310.5 380.8 1311.0 380.8 1311.5 380.9 1312.0 380.9 1312.5 380.9 1313.0 380.9 1313.5 380.9 1314.0 380.9 1314.5 380.9 1315.0 381.0 1315.5 381.0 1316.0 381.0 1316.5 381.0 1317.0 381.0 1317.5 381.0 1318.0 381.1 1318.5 381.1 1319.0 381.1 1319.5 381.1 1320.0 381.1 1320.5 381.1 1321.0 381.1 1321.5 381.2 1322.0 381.2 1322.5 381.2 1323.0 381.2 1323.5 381.2 1324.0 381.2 1324.5 381.2 1325.0 381.3 1325.5 381.3 1326.0 381.3 1326.5 381.3 1327.0 381.3 1327.5 381.3 1328.0 381.3 1328.5 381.3 1329.0 381.3 1329.5 381.3 1330.0 381.3 1330.5 381.3 1331.0 381.3 1331.5 381.3 1332.0 381.2 1332.5 381.2 1333.0 381.2 1333.5 381.2 1334.0 381.2 1334.5 381.1 1335.0 381.1 1335.5 381.1 1336.0 381.0 1336.5 381.0 1337.0 381.0 1337.5 380.9 1338.0 380.9 1338.5 380.8 1339.0 380.8 1339.5 380.7 1340.0 380.6 1340.5 380.6 1341.0 380.5 1341.5 380.4 1342.0 380.3 1342.5 380.2 1343.0 380.1 1343.5 380.0 1344.0 379.9 1344.5 379.8 1345.0 379.7 1345.5 379.6 1346.0 379.4 1346.5 379.3 1347.0 379.1 1347.5 379.0 1348.0 378.8 1348.5 378.7 1349.0 378.5 1349.5 378.3 1350.0 378.1 1350.5 377.9 1351.0 377.7 1351.5 377.5 1352.0 377.2 1352.5 377.0 1353.0 376.7 1353.5 376.5 1354.0 376.2 1354.5 375.9 1355.0 375.7 1355.5 375.4 1356.0 375.1 1356.5 374.8 1357.0 374.5 1357.5 374.2 1358.0 373.8 1358.5 373.5 1359.0 373.2 1359.5 372.8 1360.0 372.5 1360.5 372.2 1361.0 371.8 1361.5 371.4 1362.0 371.1 1362.5 370.7 1363.0 370.4 1363.5 370.0 1364.0 369.7 1364.5 369.3 1365.0 368.9 1365.5 368.6 1366.0 368.2 1366.5 367.9 1367.0 367.5 1367.5 367.2 1368.0 366.8 1368.5 366.5 1369.0 366.2 1369.5 365.9 1370.0 365.6 1370.5 365.3 1371.0 365.0 1371.5 364.7 1372.0 364.4 1372.5 364.2 1373.0 363.9 1373.5 363.7 1374.0 363.5 1374.5 363.3 1375.0 363.1 1375.5 362.9 1376.0 362.7 1376.5 362.5 1377.0 362.4 1377.5 362.2 1378.0 362.1 1378.5 362.0 1379.0 361.9 1379.5 361.8 1380.0 361.7 1380.5 361.6 1381.0 361.5 1381.5 361.4 1382.0 361.4 1382.5 361.3 1383.0 361.3 1383.5 361.2 1384.0 361.2 1384.5 361.2 1385.0 361.2 1385.5 361.2 1386.0 361.1 1386.5 361.1 1387.0 361.2 1387.5 361.2 1388.0 361.2 1388.5 361.2 1389.0 361.2 1389.5 361.2 1390.0 361.3 1390.5 361.3 1391.0 361.3 1391.5 361.4 1392.0 361.4 1392.5 361.4 1393.0 361.5 1393.5 361.5 1394.0 361.5 1394.5 361.6 1395.0 361.6 1395.5 361.7 1396.0 361.7 1396.5 361.8 1397.0 361.8 1397.5 361.8 1398.0 361.9 1398.5 361.9 1399.0 362.0 1399.5 362.0 1400.0 362.0 1400.5 362.1 1401.0 362.1 1401.5 362.1 1402.0 362.2 1402.5 362.2 1403.0 362.2 1403.5 362.2 1404.0 362.3 1404.5 362.3 1405.0 362.3 1405.5 362.3 1406.0 362.4 1406.5 362.4 1407.0 362.4 1407.5 362.4 1408.0 362.4 1408.5 362.5 1409.0 362.5 1409.5 362.5 1410.0 362.5 1410.5 362.5 1411.0 362.5 1411.5 362.5 1412.0 362.6 1412.5 362.6 1413.0 362.6 1413.5 362.6 1414.0 362.6 1414.5 362.6 1415.0 362.6 1415.5 362.6 1416.0 362.6 1416.5 362.6 1417.0 362.6 1417.5 362.6 1418.0 362.6 1418.5 362.5 1419.0 362.5 1419.5 362.5 1420.0 362.5 1420.5 362.5 1421.0 362.5 1421.5 362.5 1422.0 362.4 1422.5 362.4 1423.0 362.4 1423.5 362.4 1424.0 362.4 1424.5 362.3 1425.0 362.3 1425.5 362.3 1426.0 362.2 1426.5 362.2 1427.0 362.2 1427.5 362.1 1428.0 362.1 1428.5 362.1 1429.0 362.0 1429.5 362.0 1430.0 361.9 1430.5 361.9 1431.0 361.9 1431.5 361.8 1432.0 361.8 1432.5 361.7 1433.0 361.7 1433.5 361.6 1434.0 361.6 1434.5 361.5 1435.0 361.5 1435.5 361.4 1436.0 361.4 1436.5 361.3 1437.0 361.2 1437.5 361.2 1438.0 361.1 1438.5 361.1 1439.0 361.0 1439.5 360.9 1440.0 360.9 1440.5 360.8 1441.0 360.8 1441.5 360.7 1442.0 360.6 1442.5 360.5 1443.0 360.5 1443.5 360.4 1444.0 360.3 1444.5 360.3 1445.0 360.2 1445.5 360.1 1446.0 360.0 1446.5 360.0 1447.0 359.9 1447.5 359.8 1448.0 359.7 1448.5 359.7 1449.0 359.6 1449.5 359.5 1450.0 359.4 1450.5 359.3 1451.0 359.3 1451.5 359.2 1452.0 359.1 1452.5 359.0 1453.0 358.9 1453.5 358.8 1454.0 358.8 1454.5 358.7 1455.0 358.6 1455.5 358.5 1456.0 358.4 1456.5 358.3 1457.0 358.2 1457.5 358.1 1458.0 358.1 1458.5 358.0 1459.0 357.9 1459.5 357.8 1460.0 357.7 1460.5 357.6 1461.0 357.5 1461.5 357.4 1462.0 357.3 1462.5 357.2 1463.0 357.1 1463.5 357.0 1464.0 356.9 1464.5 356.9 1465.0 356.8 1465.5 356.7 1466.0 356.6 1466.5 356.5 1467.0 356.4 1467.5 356.3 1468.0 356.2 1468.5 356.1 1469.0 356.0 1469.5 355.9 1470.0 355.8 1470.5 355.7 1471.0 355.6 1471.5 355.5 1472.0 355.4 1472.5 355.3 1473.0 355.2 1473.5 355.1 1474.0 355.0 1474.5 354.9 1475.0 354.8 1475.5 354.7 1476.0 354.6 1476.5 354.5 1477.0 354.4 1477.5 354.3 1478.0 354.2 1478.5 354.1 1479.0 354.0 1479.5 353.9 1480.0 353.8 1480.5 353.7 1481.0 353.6 1481.5 353.5 1482.0 353.4 1482.5 353.3 1483.0 353.2 1483.5 353.1 1484.0 353.0 1484.5 352.9 1485.0 352.8 1485.5 352.7 1486.0 352.6 1486.5 352.5 1487.0 352.4 1487.5 352.3 1488.0 352.2 1488.5 352.0 1489.0 351.9 1489.5 351.8 1490.0 351.7 1490.5 351.6 1491.0 351.5 1491.5 351.4 1492.0 351.3 1492.5 351.2 1493.0 351.1 1493.5 351.0 1494.0 350.9 1494.5 350.8 1495.0 350.7 1495.5 350.6 1496.0 350.5 1496.5 350.4 1497.0 350.3 1497.5 350.2 1498.0 350.1 1498.5 349.9 1499.0 349.8 1499.5 349.7 1500.0 349.6 1500.5 349.5 1501.0 349.4" stroke="#333" stroke-width="2.7"/>
<path d="M121.5 775.6L122.0 775.5 122.5 775.5 123.0 775.4 123.5 775.4 124.0 775.3 124.5 775.3 125.0 775.2 125.5 775.2 126.0 775.1 126.5 775.1 127.0 775.0 127.5 775.0 128.0 774.9 128.5 774.9 129.0 774.8 129.5 774.8 130.0 774.7 130.5 774.7 131.0 774.6 131.5 774.6 132.0 774.5 132.5 774.5 133.0 774.4 133.5 774.4 134.0 774.3 134.5 774.2 135.0 774.2 135.5 774.1 136.0 774.1 136.5 774.0 137.0 774.0 137.5 773.9 138.0 773.9 138.5 773.8 139.0 773.8 139.5 773.7 140.0 773.7 140.5 773.6 141.0 773.6 141.5 773.5 142.0 773.5 142.5 773.4 143.0 773.4 143.5 773.3 144.0 773.3 144.5 773.2 145.0 773.2 145.5 773.1 146.0 773.1 146.5 773.0 147.0 773.0 147.5 772.9 148.0 772.9 148.5 772.8 149.0 772.8 149.5 772.7 150.0 772.7 150.5 772.6 151.0 772.6 151.5 772.5 152.0 772.5 152.5 772.4 153.0 772.4 153.5 772.3 154.0 772.3 154.5 772.2 155.0 772.2 155.5 772.1 156.0 772.1 156.5 772.0 157.0 772.0 157.5 771.9 158.0 771.8 158.5 771.8 159.0 771.7 159.5 771.7 160.0 771.6 160.5 771.6 161.0 771.5 161.5 771.5 162.0 771.4 162.5 771.4 163.0 771.3 163.5 771.3 164.0 771.2 164.5 771.2 165.0 771.1 165.5 771.1 166.0 771.0 166.5 771.0 167.0 770.9 167.5 770.9 168.0 770.8 168.5 770.8 169.0 770.7 169.5 770.7 170.0 770.6 170.5 770.6 171.0 770.5 171.5 770.5 172.0 770.4 172.5 770.4 173.0 770.3 173.5 770.3 174.0 770.2 174.5 770.2 175.0 770.1 175.5 770.1 176.0 770.0 176.5 770.0 177.0 769.9 177.5 769.9 178.0 769.9 178.5 769.8 179.0 769.8 179.5 769.7 180.0 769.7 180.5 769.6 181.0 769.6 181.5 769.5 182.0 769.5 182.5 769.4 183.0 769.4 183.5 769.3 184.0 769.3 184.5 769.2 185.0 769.2 185.5 769.1 186.0 769.1 186.5 769.0 187.0 769.0 187.5 768.9 188.0 768.9 188.5 768.8 189.0 768.8 189.5 768.7 190.0 768.7 190.5 768.6 191.0 768.6 191.5 768.5 192.0 768.5 192.5 768.4 193.0 768.4 193.5 768.3 194.0 768.3 194.5 768.2 195.0 768.2 195.5 768.2 196.0 768.1 196.5 768.1 197.0 768.0 197.5 768.0 198.0 767.9 198.5 767.9 199.0 767.8 199.5 767.8 200.0 767.7 200.5 767.7 201.0 767.6 201.5 767.6 202.0 767.5 202.5 767.5 203.0 767.4 203.5 767.4 204.0 767.3 204.5 767.3 205.0 767.3 205.5 767.2 206.0 767.2 206.5 767.1 207.0 767.1 207.5 767.0 208.0 767.0 208.5 766.9 209.0 766.9 209.5 766.8 210.0 766.8 210.5 766.7 211.0 766.7 211.5 766.6 212.0 766.6 212.5 766.6 213.0 766.5 213.5 766.5 214.0 766.4 214.5 766.4 215.0 766.3 215.5 766.3 216.0 766.2 216.5 766.2 217.0 766.1 217.5 766.1 218.0 766.0 218.5 766.0 219.0 765.9 219.5 765.9 220.0 765.9 220.5 765.8 221.0 765.8 221.5 765.7 222.0 765.7 222.5 765.6 223.0 765.6 223.5 765.5 224.0 765.5 224.5 765.4 225.0 765.4 225.5 765.3 226.0 765.3 226.5 765.3 227.0 765.2 227.5 765.2 228.0 765.1 228.5 765.1 229.0 765.0 229.5 765.0 230.0 764.9 230.5 764.9 231.0 764.8 231.5 764.8 232.0 764.7 232.5 764.7 233.0 764.7 233.5 764.6 234.0 764.6 234.5 764.5 235.0 764.5 235.5 764.4 236.0 764.4 236.5 764.3 237.0 764.3 237.5 764.2 238.0 764.2 238.5 764.1 239.0 764.1 239.5 764.0 240.0 764.0 240.5 764.0 241.0 763.9 241.5 763.9 242.0 763.8 242.5 763.8 243.0 763.7 243.5 763.7 244.0 763.6 244.5 763.6 245.0 763.5 245.5 763.5 246.0 763.4 246.5 763.4 247.0 763.3 247.5 763.3 248.0 763.3 248.5 763.2 249.0 763.2 249.5 763.1 250.0 763.1 250.5 763.0 251.0 763.0 251.5 762.9 252.0 762.9 252.5 762.8 253.0 762.8 253.5 762.7 254.0 762.7 254.5 762.6 255.0 762.6 255.5 762.6 256.0 762.5 256.5 762.5 257.0 762.4 257.5 762.4 258.0 762.3 258.5 762.3 259.0 762.2 259.5 762.2 260.0 762.1 260.5 762.1 261.0 762.0 261.5 762.0 262.0 761.9 262.5 761.9 263.0 761.8 263.5 761.8 264.0 761.7 264.5 761.7 265.0 761.6 265.5 761.6 266.0 761.5 266.5 761.5 267.0 761.4 267.5 761.4 268.0 761.4 268.5 761.3 269.0 761.3 269.5 761.2 270.0 761.2 270.5 761.1 271.0 761.1 271.5 761.0 272.0 761.0 272.5 760.9 273.0 760.9 273.5 760.8 274.0 760.8 274.5 760.7 275.0 760.7 275.5 760.6 276.0 760.6 276.5 760.5 277.0 760.5 277.5 760.4 278.0 760.4 278.5 760.3 279.0 760.3 279.5 760.2 280.0 760.2 280.5 760.1 281.0 760.1 281.5 760.0 282.0 760.0 282.5 759.9 283.0 759.9 283.5 759.8 284.0 759.8 284.5 759.7 285.0 759.7 285.5 759.6 286.0 759.6 286.5 759.5 287.0 759.5 287.5 759.4 288.0 759.4 288.5 759.3 289.0 759.3 289.5 759.2 290.0 759.2 290.5 759.1 291.0 759.1 291.5 759.0 292.0 759.0 292.5 758.9 293.0 758.8 293.5 758.8 294.0 758.7 294.5 758.7 295.0 758.6 295.5 758.6 296.0 758.5 296.5 758.5 297.0 758.4 297.5 758.4 298.0 758.3 298.5 758.3 299.0 758.2 299.5 758.2 300.0 758.1 300.5 758.1 301.0 758.0 301.5 758.0 302.0 757.9 302.5 757.9 303.0 757.8 303.5 757.8 304.0 757.7 304.5 757.6 305.0 757.6 305.5 757.5 306.0 757.5 306.5 757.4 307.0 757.4 307.5 757.3 308.0 757.3 308.5 757.2 309.0 757.2 309.5 757.1 310.0 757.1 310.5 757.0 311.0 757.0 311.5 756.9 312.0 756.9 312.5 756.8 313.0 756.7 313.5 756.7 314.0 756.6 314.5 756.6 315.0 756.5 315.5 756.5 316.0 756.4 316.5 756.4 317.0 756.3 317.5 756.3 318.0 756.2 318.5 756.2 319.0 756.1 319.5 756.0 320.0 756.0 320.5 755.9 321.0 755.9 321.5 755.8 322.0 755.8 322.5 755.7 323.0 755.7 323.5 755.6 324.0 755.6 324.5 755.5 325.0 755.4 325.5 755.4 326.0 755.3 326.5 755.3 327.0 755.2 327.5 755.2 328.0 755.1 328.5 755.1 329.0 755.0 329.5 755.0 330.0 754.9 330.5 754.8 331.0 754.8 331.5 754.7 332.0 754.7 332.5 754.6 333.0 754.6 333.5 754.5 334.0 754.5 334.5 754.4 335.0 754.4 335.5 754.3 336.0 754.2 336.5 754.2 337.0 754.1 337.5 754.1 338.0 754.0 338.5 754.0 339.0 753.9 339.5 753.9 340.0 753.8 340.5 753.7 341.0 753.7 341.5 753.6 342.0 753.6 342.5 753.5 343.0 753.5 343.5 753.4 344.0 753.4 344.5 753.3 345.0 753.2 345.5 753.2 346.0 753.1 346.5 753.1 347.0 753.0 347.5 753.0 348.0 752.9 348.5 752.8 349.0 752.8 349.5 752.7 350.0 752.7 350.5 752.6 351.0 752.6 351.5 752.5 352.0 752.5 352.5 752.4 353.0 752.3 353.5 752.3 354.0 752.2 354.5 752.2 355.0 752.1 355.5 752.1 356.0 752.0 356.5 751.9 357.0 751.9 357.5 751.8 358.0 751.8 358.5 751.7 359.0 751.7 359.5 751.6 360.0 751.5 360.5 751.5 361.0 751.4 361.5 751.4 362.0 751.3 362.5 751.3 363.0 751.2 363.5 751.1 364.0 751.1 364.5 751.0 365.0 751.0 365.5 750.9 366.0 750.9 366.5 750.8 367.0 750.7 367.5 750.7 368.0 750.6 368.5 750.6 369.0 750.5 369.5 750.5 370.0 750.4 370.5 750.3 371.0 750.3 371.5 750.2 372.0 750.2 372.5 750.1 373.0 750.1 373.5 750.0 374.0 749.9 374.5 749.9 375.0 749.8 375.5 749.8 376.0 749.7 376.5 749.7 377.0 749.6 377.5 749.5 378.0 749.5 378.5 749.4 379.0 749.4 379.5 749.3 380.0 749.2 380.5 749.2 381.0 749.1 381.5 749.1 382.0 749.0 382.5 749.0 383.0 748.9 383.5 748.8 384.0 748.8 384.5 748.7 385.0 748.7 385.5 748.6 386.0 748.6 386.5 748.5 387.0 748.4 387.5 748.4 388.0 748.3 388.5 748.3 389.0 748.2 389.5 748.1 390.0 748.1 390.5 748.0 391.0 748.0 391.5 747.9 392.0 747.8 392.5 747.8 393.0 747.7 393.5 747.7 394.0 747.6 394.5 747.6 395.0 747.5 395.5 747.4 396.0 747.4 396.5 747.3 397.0 747.3 397.5 747.2 398.0 747.1 398.5 747.1 399.0 747.0 399.5 747.0 400.0 746.9 400.5 746.8 401.0 746.8 401.5 746.7 402.0 746.7 402.5 746.6 403.0 746.5 403.5 746.5 404.0 746.4 404.5 746.4 405.0 746.3 405.5 746.3 406.0 746.2 406.5 746.1 407.0 746.1 407.5 746.0 408.0 746.0 408.5 745.9 409.0 745.8 409.5 745.8 410.0 745.7 410.5 745.7 411.0 745.6 411.5 745.5 412.0 745.5 412.5 745.4 413.0 745.4 413.5 745.3 414.0 745.2 414.5 745.2 415.0 745.1 415.5 745.1 416.0 745.0 416.5 744.9 417.0 744.9 417.5 744.8 418.0 744.8 418.5 744.7 419.0 744.6 419.5 744.6 420.0 744.5 420.5 744.5 421.0 744.4 421.5 744.3 422.0 744.3 422.5 744.2 423.0 744.1 423.5 744.1 424.0 744.0 424.5 744.0 425.0 743.9 425.5 743.8 426.0 743.8 426.5 743.7 427.0 743.7 427.5 743.6 428.0 743.5 428.5 743.5 429.0 743.4 429.5 743.4 430.0 743.3 430.5 743.2 431.0 743.2 431.5 743.1 432.0 743.1 432.5 743.0 433.0 742.9 433.5 742.9 434.0 742.8 434.5 742.7 435.0 742.7 435.5 742.6 436.0 742.6 436.5 742.5 437.0 742.4 437.5 742.4 438.0 742.3 438.5 742.3 439.0 742.2 439.5 742.1 440.0 742.1 440.5 742.0 441.0 741.9 441.5 741.9 442.0 741.8 442.5 741.8 443.0 741.7 443.5 741.6 444.0 741.6 444.5 741.5 445.0 741.4 445.5 741.4 446.0 741.3 446.5 741.3 447.0 741.2 447.5 741.1 448.0 741.1 448.5 741.0 449.0 741.0 449.5 740.9 450.0 740.8 450.5 740.8 451.0 740.7 451.5 740.6 452.0 740.6 452.5 740.5 453.0 740.4 453.5 740.4 454.0 740.3 454.5 740.3 455.0 740.2 455.5 740.1 456.0 740.1 456.5 740.0 457.0 739.9 457.5 739.9 458.0 739.8 458.5 739.8 459.0 739.7 459.5 739.6 460.0 739.6 460.5 739.5 461.0 739.4 461.5 739.4 462.0 739.3 462.5 739.2 463.0 739.2 463.5 739.1 464.0 739.0 464.5 739.0 465.0 738.9 465.5 738.9 466.0 738.8 466.5 738.7 467.0 738.7 467.5 738.6 468.0 738.5 468.5 738.5 469.0 738.4 469.5 738.3 470.0 738.3 470.5 738.2 471.0 738.1 471.5 738.1 472.0 738.0 472.5 737.9 473.0 737.9 473.5 737.8 474.0 737.7 474.5 737.7 475.0 737.6 475.5 737.5 476.0 737.5 476.5 737.4 477.0 737.4 477.5 737.3 478.0 737.2 478.5 737.2 479.0 737.1 479.5 737.0 480.0 737.0 480.5 736.9 481.0 736.8 481.5 736.8 482.0 736.7 482.5 736.6 483.0 736.6 483.5 736.5 484.0 736.4 484.5 736.3 485.0 736.3 485.5 736.2 486.0 736.1 486.5 736.1 487.0 736.0 487.5 735.9 488.0 735.9 488.5 735.8 489.0 735.7 489.5 735.7 490.0 735.6 490.5 735.5 491.0 735.5 491.5 735.4 492.0 735.3 492.5 735.3 493.0 735.2 493.5 735.1 494.0 735.1 494.5 735.0 495.0 734.9 495.5 734.8 496.0 734.8 496.5 734.7 497.0 734.6 497.5 734.6 498.0 734.5 498.5 734.4 499.0 734.4 499.5 734.3 500.0 734.2 500.5 734.1 501.0 734.1 501.5 734.0 502.0 733.9 502.5 733.9 503.0 733.8 503.5 733.7 504.0 733.7 504.5 733.6 505.0 733.5 505.5 733.4 506.0 733.4 506.5 733.3 507.0 733.2 507.5 733.1 508.0 733.1 508.5 733.0 509.0 732.9 509.5 732.9 510.0 732.8 510.5 732.7 511.0 732.6 511.5 732.6 512.0 732.5 512.5 732.4 513.0 732.4 513.5 732.3 514.0 732.2 514.5 732.1 515.0 732.1 515.5 732.0 516.0 731.9 516.5 731.8 517.0 731.8 517.5 731.7 518.0 731.6 518.5 731.5 519.0 731.5 519.5 731.4 520.0 731.3 520.5 731.2 521.0 731.2 521.5 731.1 522.0 731.0 522.5 730.9 523.0 730.9 523.5 730.8 524.0 730.7 524.5 730.6 525.0 730.6 525.5 730.5 526.0 730.4 526.5 730.3 527.0 730.3 527.5 730.2 528.0 730.1 528.5 730.0 529.0 730.0 529.5 729.9 530.0 729.8 530.5 729.7 531.0 729.6 531.5 729.6 532.0 729.5 532.5 729.4 533.0 729.3 533.5 729.3 534.0 729.2 534.5 729.1 535.0 729.0 535.5 728.9 536.0 728.9 536.5 728.8 537.0 728.7 537.5 728.6 538.0 728.6 538.5 728.5 539.0 728.4 539.5 728.3 540.0 728.2 540.5 728.2 541.0 728.1 541.5 728.0 542.0 727.9 542.5 727.8 543.0 727.8 543.5 727.7 544.0 727.6 544.5 727.5 545.0 727.4 545.5 727.4 546.0 727.3 546.5 727.2 547.0 727.1 547.5 727.0 548.0 727.0 548.5 726.9 549.0 726.8 549.5 726.7 550.0 726.6 550.5 726.5 551.0 726.5 551.5 726.4 552.0 726.3 552.5 726.2 553.0 726.1 553.5 726.1 554.0 726.0 554.5 725.9 555.0 725.8 555.5 725.7 556.0 725.6 556.5 725.6 557.0 725.5 557.5 725.4 558.0 725.3 558.5 725.2 559.0 725.1 559.5 725.0 560.0 725.0 560.5 724.9 561.0 724.8 561.5 724.7 562.0 724.6 562.5 724.5 563.0 724.5 563.5 724.4 564.0 724.3 564.5 724.2 565.0 724.1 565.5 724.0 566.0 723.9 566.5 723.9 567.0 723.8 567.5 723.7 568.0 723.6 568.5 723.5 569.0 723.4 569.5 723.3 570.0 723.2 570.5 723.2 571.0 723.1 571.5 723.0 572.0 722.9 572.5 722.8 573.0 722.7 573.5 722.6 574.0 722.5 574.5 722.5 575.0 722.4 575.5 722.3 576.0 722.2 576.5 722.1 577.0 722.0 577.5 721.9 578.0 721.8 578.5 721.7 579.0 721.6 579.5 721.6 580.0 721.5 580.5 721.4 581.0 721.3 581.5 721.2 582.0 721.1 582.5 721.0 583.0 720.9 583.5 720.8 584.0 720.7 584.5 720.6 585.0 720.6 585.5 720.5 586.0 720.4 586.5 720.3 587.0 720.2 587.5 720.1 588.0 720.0 588.5 719.9 589.0 719.8 589.5 719.7 590.0 719.6 590.5 719.5 591.0 719.4 591.5 719.3 592.0 719.2 592.5 719.1 593.0 719.1 593.5 719.0 594.0 718.9 594.5 718.8 595.0 718.7 595.5 718.6 596.0 718.5 596.5 718.4 597.0 718.3 597.5 718.2 598.0 718.1 598.5 718.0 599.0 717.9 599.5 717.8 600.0 717.7 600.5 717.6 601.0 717.5 601.5 717.4 602.0 717.3 602.5 717.2 603.0 717.1 603.5 717.0 604.0 716.9 604.5 716.8 605.0 716.7 605.5 716.6 606.0 716.5 606.5 716.4 607.0 716.3 607.5 716.2 608.0 716.1 608.5 716.0 609.0 715.9 609.5 715.8 610.0 715.7 610.5 715.6 611.0 715.5 611.5 715.4 612.0 715.3 612.5 715.2 613.0 715.1 613.5 715.0 614.0 714.9 614.5 714.8 615.0 714.7 615.5 714.6 616.0 714.5 616.5 714.4 617.0 714.3 617.5 714.2 618.0 714.1 618.5 714.0 619.0 713.9 619.5 713.8 620.0 713.7 620.5 713.5 621.0 713.4 621.5 713.3 622.0 713.2 622.5 713.1 623.0 713.0 623.5 712.9 624.0 712.8 624.5 712.7 625.0 712.6 625.5 712.5 626.0 712.4 626.5 712.3 627.0 712.2 627.5 712.0 628.0 711.9 628.5 711.8 629.0 711.7 629.5 711.6 630.0 711.5 630.5 711.4 631.0 711.3 631.5 711.2 632.0 711.1 632.5 710.9 633.0 710.8 633.5 710.7 634.0 710.6 634.5 710.5 635.0 710.4 635.5 710.3 636.0 710.2 636.5 710.1 637.0 709.9 637.5 709.8 638.0 709.7 638.5 709.6 639.0 709.5 639.5 709.4 640.0 709.3 640.5 709.1 641.0 709.0 641.5 708.9 642.0 708.8 642.5 708.7 643.0 708.6 643.5 708.4 644.0 708.3 644.5 708.2 645.0 708.1 645.5 708.0 646.0 707.9 646.5 707.7 647.0 707.6 647.5 707.5 648.0 707.4 648.5 707.3 649.0 707.2 649.5 707.0 650.0 706.9 650.5 706.8 651.0 706.7 651.5 706.6 652.0 706.4 652.5 706.3 653.0 706.2 653.5 706.1 654.0 705.9 654.5 705.8 655.0 705.7 655.5 705.6 656.0 705.5 656.5 705.3 657.0 705.2 657.5 705.1 658.0 705.0 658.5 704.8 659.0 704.7 659.5 704.6 660.0 704.5 660.5 704.3 661.0 704.2 661.5 704.1 662.0 704.0 662.5 703.8 663.0 703.7 663.5 703.6 664.0 703.5 664.5 703.3 665.0 703.2 665.5 703.1 666.0 702.9 666.5 702.8 667.0 702.7 667.5 702.5 668.0 702.4 668.5 702.3 669.0 702.2 669.5 702.0 670.0 701.9 670.5 701.8 671.0 701.6 671.5 701.5 672.0 701.4 672.5 701.2 673.0 701.1 673.5 701.0 674.0 700.8 674.5 700.7 675.0 700.5 675.5 700.4 676.0 700.3 676.5 700.1 677.0 700.0 677.5 699.8 678.0 699.7 678.5 699.6 679.0 699.4 679.5 699.3 680.0 699.1 680.5 699.0 681.0 698.8 681.5 698.7 682.0 698.5 682.5 698.4 683.0 698.2 683.5 698.1 684.0 697.9 684.5 697.8 685.0 697.6 685.5 697.5 686.0 697.3 686.5 697.2 687.0 697.0 687.5 696.9 688.0 696.7 688.5 696.5 689.0 696.4 689.5 696.2 690.0 696.1 690.5 695.9 691.0 695.7 691.5 695.6 692.0 695.4 692.5 695.2 693.0 695.1 693.5 694.9 694.0 694.7 694.5 694.5 695.0 694.4 695.5 694.2 696.0 694.0 696.5 693.8 697.0 693.7 697.5 693.5 698.0 693.3 698.5 693.1 699.0 693.0 699.5 692.8 700.0 692.6 700.5 692.4 701.0 692.2 701.5 692.0 702.0 691.9 702.5 691.7 703.0 691.5 703.5 691.3 704.0 691.1 704.5 690.9 705.0 690.8 705.5 690.6 706.0 690.4 706.5 690.2 707.0 690.0 707.5 689.8 708.0 689.6 708.5 689.4 709.0 689.2 709.5 689.1 710.0 688.9 710.5 688.7 711.0 688.5 711.5 688.3 712.0 688.1 712.5 687.9 713.0 687.7 713.5 687.5 714.0 687.4 714.5 687.2 715.0 687.0 715.5 686.8 716.0 686.6 716.5 686.4 717.0 686.2 717.5 686.0 718.0 685.8 718.5 685.7 719.0 685.5 719.5 685.3 720.0 685.1 720.5 684.9 721.0 684.7 721.5 684.5 722.0 684.3 722.5 684.1 723.0 684.0 723.5 683.8 724.0 683.6 724.5 683.4 725.0 683.2 725.5 683.0 726.0 682.8 726.5 682.6 727.0 682.5 727.5 682.3 728.0 682.1 728.5 681.9 729.0 681.7 729.5 681.5 730.0 681.3 730.5 681.1 731.0 680.9 731.5 680.7 732.0 680.6 732.5 680.4 733.0 680.2 733.5 680.0 734.0 679.8 734.5 679.6 735.0 679.4 735.5 679.2 736.0 679.0 736.5 678.8 737.0 678.6 737.5 678.4 738.0 678.2 738.5 678.0 739.0 677.7 739.5 677.5 740.0 677.3 740.5 677.1 741.0 676.9 741.5 676.7 742.0 676.5 742.5 676.2 743.0 676.0 743.5 675.8 744.0 675.6 744.5 675.3 745.0 675.1 745.5 674.9 746.0 674.6 746.5 674.4 747.0 674.2 747.5 673.9 748.0 673.7 748.5 673.4 749.0 673.2 749.5 672.9 750.0 672.6 750.5 672.4 751.0 672.1 751.5 671.8 752.0 671.6 752.5 671.3 753.0 671.0 753.5 670.7 754.0 670.5 754.5 670.2 755.0 669.9 755.5 669.6 756.0 669.3 756.5 669.0 757.0 668.6 757.5 668.3 758.0 668.0 758.5 667.7 759.0 667.3 759.5 667.0 760.0 666.7 760.5 666.3 761.0 666.0 761.5 665.6 762.0 665.3 762.5 664.9 763.0 664.5 763.5 664.1 764.0 663.8 764.5 663.4 765.0 663.0 765.5 662.6 766.0 662.2 766.5 661.8 767.0 661.3 767.5 660.9 768.0 660.5 768.5 660.0 769.0 659.6 769.5 659.2 770.0 658.7 770.5 658.2 771.0 657.8 771.5 657.3 772.0 656.8 772.5 656.4 773.0 655.9 773.5 655.4 774.0 654.9 774.5 654.4 775.0 653.9 775.5 653.3 776.0 652.8 776.5 652.3 777.0 651.7 777.5 651.2 778.0 650.7 778.5 650.1 779.0 649.5 779.5 649.0 780.0 648.4 780.5 647.8 781.0 647.2 781.5 646.6 782.0 646.0 782.5 645.4 783.0 644.8 783.5 644.2 784.0 643.5 784.5 642.9 785.0 642.2 785.5 641.6 786.0 640.9 786.5 640.2 787.0 639.6 787.5 638.9 788.0 638.2 788.5 637.5 789.0 636.7 789.5 636.0 790.0 635.3 790.5 634.5 791.0 633.8 791.5 633.0 792.0 632.2 792.5 631.5 793.0 630.7 793.5 629.8 794.0 629.0 794.5 628.2 795.0 627.4 795.5 626.5 796.0 625.6 796.5 624.8 797.0 623.9 797.5 623.0 798.0 622.0 798.5 621.1 799.0 620.2 799.5 619.2 800.0 618.2 800.5 617.2 801.0 616.3 801.5 615.2 802.0 614.2 802.5 613.2 803.0 612.1 803.5 611.0 804.0 610.0 804.5 608.9 805.0 607.8 805.5 606.6 806.0 605.5 806.5 604.3 807.0 603.2 807.5 602.0 808.0 600.8 808.5 599.6 809.0 598.3 809.5 597.1 810.0 595.8 810.5 594.5 811.0 593.3 811.5 591.9 812.0 590.6 812.5 589.3 813.0 587.9 813.5 586.6 814.0 585.2 814.5 583.8 815.0 582.4 815.5 580.9 816.0 579.5 816.5 578.0 817.0 576.5 817.5 575.0 818.0 573.5 818.5 572.0 819.0 570.5 819.5 568.9 820.0 567.3 820.5 565.7 821.0 564.1 821.5 562.5 822.0 560.9 822.5 559.2 823.0 557.6 823.5 555.9 824.0 554.2 824.5 552.5 825.0 550.7 825.5 549.0 826.0 547.2 826.5 545.5 827.0 543.7 827.5 541.9 828.0 540.1 828.5 538.2 829.0 536.4 829.5 534.5 830.0 532.7 830.5 530.8 831.0 528.9 831.5 527.0 832.0 525.1 832.5 523.1 833.0 521.2 833.5 519.2 834.0 517.3 834.5 515.3 835.0 513.3 835.5 511.3 836.0 509.3 836.5 507.3 837.0 505.3 837.5 503.2 838.0 501.2 838.5 499.2 839.0 497.1 839.5 495.0 840.0 492.9 840.5 490.9 841.0 488.8 841.5 486.7 842.0 484.6 842.5 482.5 843.0 480.4 843.5 478.2 844.0 476.1 844.5 474.0 845.0 471.9 845.5 469.7 846.0 467.6 846.5 465.4 847.0 463.3 847.5 461.2 848.0 459.0 848.5 456.9 849.0 454.7 849.5 452.6 850.0 450.4 850.5 448.3 851.0 446.2 851.5 444.0 852.0 441.9 852.5 439.8 853.0 437.6 853.5 435.5 854.0 433.4 854.5 431.3 855.0 429.2 855.5 427.1 856.0 425.0 856.5 423.0 857.0 420.9 857.5 418.8 858.0 416.8 858.5 414.8 859.0 412.7 859.5 410.7 860.0 408.7 860.5 406.7 861.0 404.8 861.5 402.8 862.0 400.9 862.5 398.9 863.0 397.0 863.5 395.1 864.0 393.2 864.5 391.3 865.0 389.5 865.5 387.6 866.0 385.8 866.5 384.0 867.0 382.2 867.5 380.4 868.0 378.7 868.5 376.9 869.0 375.2 869.5 373.5 870.0 371.8 870.5 370.2 871.0 368.5 871.5 366.9 872.0 365.3 872.5 363.7 873.0 362.2 873.5 360.6 874.0 359.1 874.5 357.6 875.0 356.1 875.5 354.7 876.0 353.3 876.5 351.9 877.0 350.5 877.5 349.2 878.0 347.8 878.5 346.5 879.0 345.3 879.5 344.0 880.0 342.8 880.5 341.7 881.0 340.5 881.5 339.4 882.0 338.3 882.5 337.2 883.0 336.2 883.5 335.2 884.0 334.3 884.5 333.3 885.0 332.4 885.5 331.5 886.0 330.7 886.5 329.9 887.0 329.1 887.5 328.4 888.0 327.7 888.5 327.0 889.0 326.3 889.5 325.7 890.0 325.1 890.5 324.6 891.0 324.0 891.5 323.5 892.0 323.1 892.5 322.7 893.0 322.3 893.5 321.9 894.0 321.6 894.5 321.3 895.0 321.0 895.5 320.7 896.0 320.5 896.5 320.3 897.0 320.2 897.5 320.0 898.0 319.9 898.5 319.8 899.0 319.7 899.5 319.7 900.0 319.7 900.5 319.7 901.0 319.7 901.5 319.7 902.0 319.8 902.5 319.9 903.0 320.0 903.5 320.1 904.0 320.3 904.5 320.5 905.0 320.7 905.5 320.9 906.0 321.1 906.5 321.4 907.0 321.7 907.5 321.9 908.0 322.3 908.5 322.6 909.0 322.9 909.5 323.3 910.0 323.7 910.5 324.1 911.0 324.5 911.5 325.0 912.0 325.4 912.5 325.9 913.0 326.4 913.5 326.9 914.0 327.4 914.5 327.9 915.0 328.5 915.5 329.0 916.0 329.6 916.5 330.2 917.0 330.8 917.5 331.4 918.0 332.0 918.5 332.6 919.0 333.3 919.5 333.9 920.0 334.6 920.5 335.3 921.0 336.0 921.5 336.6 922.0 337.4 922.5 338.1 923.0 338.8 923.5 339.5 924.0 340.3 924.5 341.1 925.0 341.8 925.5 342.6 926.0 343.4 926.5 344.2 927.0 345.0 927.5 345.8 928.0 346.7 928.5 347.5 929.0 348.4 929.5 349.2 930.0 350.1 930.5 351.0 931.0 351.8 931.5 352.7 932.0 353.6 932.5 354.6 933.0 355.5 933.5 356.4 934.0 357.4 934.5 358.3 935.0 359.3 935.5 360.2 936.0 361.2 936.5 362.2 937.0 363.2 937.5 364.2 938.0 365.2 938.5 366.2 939.0 367.2 939.5 368.2 940.0 369.3 940.5 370.3 941.0 371.3 941.5 372.4 942.0 373.5 942.5 374.5 943.0 375.6 943.5 376.7 944.0 377.8 944.5 378.8 945.0 379.9 945.5 381.0 946.0 382.1 946.5 383.3 947.0 384.4 947.5 385.5 948.0 386.6 948.5 387.7 949.0 388.9 949.5 390.0 950.0 391.2 950.5 392.3 951.0 393.4 951.5 394.6 952.0 395.8 952.5 396.9 953.0 398.1 953.5 399.2 954.0 400.4 954.5 401.6 955.0 402.8 955.5 403.9 956.0 405.1 956.5 406.3 957.0 407.5 957.5 408.7 958.0 409.9 958.5 411.1 959.0 412.2 959.5 413.4 960.0 414.6 960.5 415.8 961.0 417.0 961.5 418.2 962.0 419.4 962.5 420.6 963.0 421.8 963.5 423.0 964.0 424.2 964.5 425.4 965.0 426.6 965.5 427.8 966.0 429.0 966.5 430.2 967.0 431.4 967.5 432.6 968.0 433.7 968.5 434.9 969.0 436.1 969.5 437.3 970.0 438.5 970.5 439.6 971.0 440.8 971.5 442.0 972.0 443.1 972.5 444.3 973.0 445.5 973.5 446.6 974.0 447.8 974.5 448.9 975.0 450.0 975.5 451.2 976.0 452.3 976.5 453.4 977.0 454.5 977.5 455.6 978.0 456.7 978.5 457.8 979.0 458.9 979.5 460.0 980.0 461.1 980.5 462.1 981.0 463.2 981.5 464.3 982.0 465.3 982.5 466.4 983.0 467.4 983.5 468.4 984.0 469.5 984.5 470.5 985.0 471.5 985.5 472.5 986.0 473.5 986.5 474.5 987.0 475.5 987.5 476.5 988.0 477.5 988.5 478.4 989.0 479.4 989.5 480.4 990.0 481.3 990.5 482.3 991.0 483.2 991.5 484.1 992.0 485.1 992.5 486.0 993.0 486.9 993.5 487.8 994.0 488.7 994.5 489.6 995.0 490.5 995.5 491.4 996.0 492.2 996.5 493.1 997.0 494.0 997.5 494.8 998.0 495.7 998.5 496.5 999.0 497.4 999.5 498.2 1000.0 499.1 1000.5 499.9 1001.0 500.7 1001.5 501.5 1002.0 502.3 1002.5 503.1 1003.0 503.9 1003.5 504.7 1004.0 505.5 1004.5 506.3 1005.0 507.1 1005.5 507.9 1006.0 508.6 1006.5 509.4 1007.0 510.2 1007.5 510.9 1008.0 511.7 1008.5 512.4 1009.0 513.2 1009.5 513.9 1010.0 514.6 1010.5 515.3 1011.0 516.1 1011.5 516.8 1012.0 517.5 1012.5 518.2 1013.0 518.9 1013.5 519.6 1014.0 520.3 1014.5 521.0 1015.0 521.7 1015.5 522.3 1016.0 523.0 1016.5 523.7 1017.0 524.4 1017.5 525.0 1018.0 525.7 1018.5 526.3 1019.0 527.0 1019.5 527.6 1020.0 528.3 1020.5 528.9 1021.0 529.5 1021.5 530.2 1022.0 530.8 1022.5 531.4 1023.0 532.0 1023.5 532.6 1024.0 533.2 1024.5 533.8 1025.0 534.4 1025.5 535.0 1026.0 535.6 1026.5 536.2 1027.0 536.8 1027.5 537.4 1028.0 537.9 1028.5 538.5 1029.0 539.1 1029.5 539.6 1030.0 540.2 1030.5 540.8 1031.0 541.3 1031.5 541.9 1032.0 542.4 1032.5 543.0 1033.0 543.5 1033.5 544.0 1034.0 544.6 1034.5 545.1 1035.0 545.6 1035.5 546.1 1036.0 546.7 1036.5 547.2 1037.0 547.7 1037.5 548.2 1038.0 548.7 1038.5 549.2 1039.0 549.7 1039.5 550.2 1040.0 550.7 1040.5 551.2 1041.0 551.7 1041.5 552.2 1042.0 552.6 1042.5 553.1 1043.0 553.6 1043.5 554.1 1044.0 554.5 1044.5 555.0 1045.0 555.4 1045.5 555.9 1046.0 556.4 1046.5 556.8 1047.0 557.3 1047.5 557.7 1048.0 558.1 1048.5 558.6 1049.0 559.0 1049.5 559.5 1050.0 559.9 1050.5 560.3 1051.0 560.7 1051.5 561.2 1052.0 561.6 1052.5 562.0 1053.0 562.4 1053.5 562.8 1054.0 563.2 1054.5 563.6 1055.0 564.0 1055.5 564.4 1056.0 564.8 1056.5 565.2 1057.0 565.6 1057.5 566.0 1058.0 566.4 1058.5 566.8 1059.0 567.2 1059.5 567.5 1060.0 567.9 1060.5 568.3 1061.0 568.7 1061.5 569.0 1062.0 569.4 1062.5 569.8 1063.0 570.2 1063.5 570.5 1064.0 570.9 1064.5 571.2 1065.0 571.6 1065.5 572.0 1066.0 572.3 1066.5 572.7 1067.0 573.0 1067.5 573.4 1068.0 573.7 1068.5 574.1 1069.0 574.4 1069.5 574.8 1070.0 575.1 1070.5 575.4 1071.0 575.8 1071.5 576.1 1072.0 576.5 1072.5 576.8 1073.0 577.1 1073.5 577.4 1074.0 577.8 1074.5 578.1 1075.0 578.4 1075.5 578.7 1076.0 579.0 1076.5 579.4 1077.0 579.7 1077.5 580.0 1078.0 580.3 1078.5 580.6 1079.0 580.9 1079.5 581.2 1080.0 581.5 1080.5 581.8 1081.0 582.1 1081.5 582.4 1082.0 582.7 1082.5 583.0 1083.0 583.3 1083.5 583.5 1084.0 583.8 1084.5 584.1 1085.0 584.4 1085.5 584.6 1086.0 584.9 1086.5 585.2 1087.0 585.4 1087.5 585.7 1088.0 585.9 1088.5 586.2 1089.0 586.4 1089.5 586.6 1090.0 586.9 1090.5 587.1 1091.0 587.3 1091.5 587.6 1092.0 587.8 1092.5 588.0 1093.0 588.2 1093.5 588.5 1094.0 588.7 1094.5 588.9 1095.0 589.1 1095.5 589.3 1096.0 589.5 1096.5 589.7 1097.0 589.9 1097.5 590.1 1098.0 590.2 1098.5 590.4 1099.0 590.6 1099.5 590.8 1100.0 591.0 1100.5 591.2 1101.0 591.3 1101.5 591.5 1102.0 591.7 1102.5 591.8 1103.0 592.0 1103.5 592.2 1104.0 592.3 1104.5 592.5 1105.0 592.6 1105.5 592.8 1106.0 592.9 1106.5 593.1 1107.0 593.2 1107.5 593.4 1108.0 593.5 1108.5 593.7 1109.0 593.8 1109.5 593.9 1110.0 594.1 1110.5 594.2 1111.0 594.3 1111.5 594.5 1112.0 594.6 1112.5 594.7 1113.0 594.9 1113.5 595.0 1114.0 595.1 1114.5 595.2 1115.0 595.3 1115.5 595.4 1116.0 595.6 1116.5 595.7 1117.0 595.8 1117.5 595.9 1118.0 596.0 1118.5 596.1 1119.0 596.2 1119.5 596.3 1120.0 596.4 1120.5 596.5 1121.0 596.6 1121.5 596.7 1122.0 596.8 1122.5 596.9 1123.0 597.0 1123.5 597.0 1124.0 597.1 1124.5 597.2 1125.0 597.3 1125.5 597.4 1126.0 597.5 1126.5 597.5 1127.0 597.6 1127.5 597.7 1128.0 597.8 1128.5 597.8 1129.0 597.9 1129.5 598.0 1130.0 598.0 1130.5 598.1 1131.0 598.2 1131.5 598.2 1132.0 598.3 1132.5 598.3 1133.0 598.4 1133.5 598.5 1134.0 598.5 1134.5 598.6 1135.0 598.6 1135.5 598.7 1136.0 598.7 1136.5 598.8 1137.0 598.8 1137.5 598.9 1138.0 598.9 1138.5 599.0 1139.0 599.0 1139.5 599.0 1140.0 599.1 1140.5 599.1 1141.0 599.2 1141.5 599.2 1142.0 599.2 1142.5 599.3 1143.0 599.3 1143.5 599.3 1144.0 599.4 1144.5 599.4 1145.0 599.4 1145.5 599.5 1146.0 599.5 1146.5 599.5 1147.0 599.5 1147.5 599.6 1148.0 599.6 1148.5 599.6 1149.0 599.6 1149.5 599.6 1150.0 599.7 1150.5 599.7 1151.0 599.7 1151.5 599.7 1152.0 599.7 1152.5 599.7 1153.0 599.8 1153.5 599.8 1154.0 599.8 1154.5 599.8 1155.0 599.8 1155.5 599.8 1156.0 599.8 1156.5 599.8 1157.0 599.8 1157.5 599.8 1158.0 599.8 1158.5 599.8 1159.0 599.8 1159.5 599.8 1160.0 599.8 1160.5 599.8 1161.0 599.8 1161.5 599.8 1162.0 599.8 1162.5 599.8 1163.0 599.8 1163.5 599.8 1164.0 599.8 1164.5 599.8 1165.0 599.8 1165.5 599.8 1166.0 599.8 1166.5 599.8 1167.0 599.8 1167.5 599.7 1168.0 599.7 1168.5 599.7 1169.0 599.7 1169.5 599.7 1170.0 599.7 1170.5 599.7 1171.0 599.6 1171.5 599.6 1172.0 599.6 1172.5 599.6 1173.0 599.6 1173.5 599.5 1174.0 599.5 1174.5 599.5 1175.0 599.5 1175.5 599.5 1176.0 599.4 1176.5 599.4 1177.0 599.4 1177.5 599.4 1178.0 599.3 1178.5 599.3 1179.0 599.3 1179.5 599.3 1180.0 599.2 1180.5 599.2 1181.0 599.2 1181.5 599.1 1182.0 599.1 1182.5 599.1 1183.0 599.0 1183.5 599.0 1184.0 599.0 1184.5 598.9 1185.0 598.9 1185.5 598.9 1186.0 598.8 1186.5 598.8 1187.0 598.8 1187.5 598.7 1188.0 598.7 1188.5 598.6 1189.0 598.6 1189.5 598.6 1190.0 598.5 1190.5 598.5 1191.0 598.4 1191.5 598.4 1192.0 598.4 1192.5 598.3 1193.0 598.3 1193.5 598.2 1194.0 598.2 1194.5 598.1 1195.0 598.1 1195.5 598.0 1196.0 598.0 1196.5 597.9 1197.0 597.9 1197.5 597.9 1198.0 597.8 1198.5 597.8 1199.0 597.7 1199.5 597.7 1200.0 597.6 1200.5 597.6 1201.0 597.5 1201.5 597.5 1202.0 597.4 1202.5 597.4 1203.0 597.3 1203.5 597.3 1204.0 597.2 1204.5 597.1 1205.0 597.1 1205.5 597.0 1206.0 597.0 1206.5 596.9 1207.0 596.9 1207.5 596.8 1208.0 596.8 1208.5 596.7 1209.0 596.7 1209.5 596.6 1210.0 596.5 1210.5 596.5 1211.0 596.4 1211.5 596.4 1212.0 596.3 1212.5 596.2 1213.0 596.2 1213.5 596.1 1214.0 596.1 1214.5 596.0 1215.0 596.0 1215.5 595.9 1216.0 595.8 1216.5 595.8 1217.0 595.7 1217.5 595.7 1218.0 595.6 1218.5 595.5 1219.0 595.5 1219.5 595.4 1220.0 595.3 1220.5 595.3 1221.0 595.2 1221.5 595.2 1222.0 595.1 1222.5 595.0 1223.0 595.0 1223.5 594.9 1224.0 594.8 1224.5 594.8 1225.0 594.7 1225.5 594.7 1226.0 594.6 1226.5 594.5 1227.0 594.5 1227.5 594.4 1228.0 594.3 1228.5 594.3 1229.0 594.2 1229.5 594.1 1230.0 594.1 1230.5 594.0 1231.0 593.9 1231.5 593.9 1232.0 593.8 1232.5 593.7 1233.0 593.7 1233.5 593.6 1234.0 593.5 1234.5 593.5 1235.0 593.4 1235.5 593.3 1236.0 593.3 1236.5 593.2 1237.0 593.1 1237.5 593.1 1238.0 593.0 1238.5 592.9 1239.0 592.9 1239.5 592.8 1240.0 592.7 1240.5 592.6 1241.0 592.6 1241.5 592.5 1242.0 592.4 1242.5 592.4 1243.0 592.3 1243.5 592.2 1244.0 592.2 1244.5 592.1 1245.0 592.0 1245.5 592.0 1246.0 591.9 1246.5 591.8 1247.0 591.7 1247.5 591.7 1248.0 591.6 1248.5 591.5 1249.0 591.5 1249.5 591.4 1250.0 591.3 1250.5 591.2 1251.0 591.2 1251.5 591.1 1252.0 591.0 1252.5 591.0 1253.0 590.9 1253.5 590.8 1254.0 590.7 1254.5 590.7 1255.0 590.6 1255.5 590.5 1256.0 590.4 1256.5 590.4 1257.0 590.3 1257.5 590.2 1258.0 590.2 1258.5 590.1 1259.0 590.0 1259.5 589.9 1260.0 589.9 1260.5 589.8 1261.0 589.7 1261.5 589.6 1262.0 589.6 1262.5 589.5 1263.0 589.4 1263.5 589.3 1264.0 589.3 1264.5 589.2 1265.0 589.1 1265.5 589.0 1266.0 589.0 1266.5 588.9 1267.0 588.8 1267.5 588.7 1268.0 588.6 1268.5 588.6 1269.0 588.5 1269.5 588.4 1270.0 588.3 1270.5 588.3 1271.0 588.2 1271.5 588.1 1272.0 588.0 1272.5 587.9 1273.0 587.9 1273.5 587.8 1274.0 587.7 1274.5 587.6 1275.0 587.6 1275.5 587.5 1276.0 587.4 1276.5 587.3 1277.0 587.2 1277.5 587.1 1278.0 587.1 1278.5 587.0 1279.0 586.9 1279.5 586.8 1280.0 586.7 1280.5 586.7 1281.0 586.6 1281.5 586.5 1282.0 586.4 1282.5 586.3 1283.0 586.2 1283.5 586.2 1284.0 586.1 1284.5 586.0 1285.0 585.9 1285.5 585.8 1286.0 585.7 1286.5 585.7 1287.0 585.6 1287.5 585.5 1288.0 585.4 1288.5 585.3 1289.0 585.2 1289.5 585.1 1290.0 585.1 1290.5 585.0 1291.0 584.9 1291.5 584.8 1292.0 584.7 1292.5 584.6 1293.0 584.5 1293.5 584.4 1294.0 584.4 1294.5 584.3 1295.0 584.2 1295.5 584.1 1296.0 584.0 1296.5 583.9 1297.0 583.8 1297.5 583.7 1298.0 583.6 1298.5 583.5 1299.0 583.4 1299.5 583.3 1300.0 583.3 1300.5 583.2 1301.0 583.1 1301.5 583.0 1302.0 582.9 1302.5 582.8 1303.0 582.7 1303.5 582.6 1304.0 582.5 1304.5 582.4 1305.0 582.3 1305.5 582.2 1306.0 582.1 1306.5 582.0 1307.0 581.9 1307.5 581.8 1308.0 581.7 1308.5 581.6 1309.0 581.5 1309.5 581.4 1310.0 581.3 1310.5 581.2 1311.0 581.1 1311.5 581.0 1312.0 580.9 1312.5 580.8 1313.0 580.7 1313.5 580.6 1314.0 580.5 1314.5 580.4 1315.0 580.3 1315.5 580.2 1316.0 580.1 1316.5 580.0 1317.0 579.9 1317.5 579.8 1318.0 579.6 1318.5 579.5 1319.0 579.4 1319.5 579.3 1320.0 579.2 1320.5 579.1 1321.0 579.0 1321.5 578.9 1322.0 578.8 1322.5 578.7 1323.0 578.5 1323.5 578.4 1324.0 578.3 1324.5 578.2 1325.0 578.1 1325.5 578.0 1326.0 577.9 1326.5 577.7 1327.0 577.6 1327.5 577.5 1328.0 577.4 1328.5 577.3 1329.0 577.2 1329.5 577.0 1330.0 576.9 1330.5 576.8 1331.0 576.7 1331.5 576.6 1332.0 576.4 1332.5 576.3 1333.0 576.2 1333.5 576.1 1334.0 575.9 1334.5 575.8 1335.0 575.7 1335.5 575.6 1336.0 575.4 1336.5 575.3 1337.0 575.2 1337.5 575.1 1338.0 574.9 1338.5 574.8 1339.0 574.7 1339.5 574.6 1340.0 574.4 1340.5 574.3 1341.0 574.2 1341.5 574.0 1342.0 573.9 1342.5 573.8 1343.0 573.6 1343.5 573.5 1344.0 573.4 1344.5 573.2 1345.0 573.1 1345.5 573.0 1346.0 572.8 1346.5 572.7 1347.0 572.6 1347.5 572.4 1348.0 572.3 1348.5 572.2 1349.0 572.0 1349.5 571.9 1350.0 571.7 1350.5 571.6 1351.0 571.5 1351.5 571.3 1352.0 571.2 1352.5 571.0 1353.0 570.9 1353.5 570.8 1354.0 570.6 1354.5 570.5 1355.0 570.3 1355.5 570.2 1356.0 570.1 1356.5 569.9 1357.0 569.8 1357.5 569.6 1358.0 569.5 1358.5 569.4 1359.0 569.2 1359.5 569.1 1360.0 568.9 1360.5 568.8 1361.0 568.6 1361.5 568.5 1362.0 568.3 1362.5 568.2 1363.0 568.1 1363.5 567.9 1364.0 567.8 1364.5 567.6 1365.0 567.5 1365.5 567.3 1366.0 567.2 1366.5 567.0 1367.0 566.9 1367.5 566.7 1368.0 566.6 1368.5 566.4 1369.0 566.3 1369.5 566.2 1370.0 566.0 1370.5 565.9 1371.0 565.7 1371.5 565.6 1372.0 565.4 1372.5 565.3 1373.0 565.1 1373.5 565.0 1374.0 564.8 1374.5 564.7 1375.0 564.5 1375.5 564.4 1376.0 564.2 1376.5 564.1 1377.0 563.9 1377.5 563.8 1378.0 563.6 1378.5 563.5 1379.0 563.3 1379.5 563.2 1380.0 563.0 1380.5 562.9 1381.0 562.7 1381.5 562.6 1382.0 562.4 1382.5 562.3 1383.0 562.1 1383.5 562.0 1384.0 561.8 1384.5 561.6 1385.0 561.5 1385.5 561.3 1386.0 561.2 1386.5 561.0 1387.0 560.9 1387.5 560.7 1388.0 560.6 1388.5 560.4 1389.0 560.3 1389.5 560.1 1390.0 560.0 1390.5 559.8 1391.0 559.6 1391.5 559.5 1392.0 559.3 1392.5 559.2 1393.0 559.0 1393.5 558.9 1394.0 558.7 1394.5 558.6 1395.0 558.4 1395.5 558.2 1396.0 558.1 1396.5 557.9 1397.0 557.8 1397.5 557.6 1398.0 557.5 1398.5 557.3 1399.0 557.2 1399.5 557.0 1400.0 556.8 1400.5 556.7 1401.0 556.5 1401.5 556.4 1402.0 556.2 1402.5 556.1 1403.0 555.9 1403.5 555.7 1404.0 555.6 1404.5 555.4 1405.0 555.3 1405.5 555.1 1406.0 554.9 1406.5 554.8 1407.0 554.6 1407.5 554.5 1408.0 554.3 1408.5 554.1 1409.0 554.0 1409.5 553.8 1410.0 553.7 1410.5 553.5 1411.0 553.3 1411.5 553.2 1412.0 553.0 1412.5 552.9 1413.0 552.7 1413.5 552.5 1414.0 552.4 1414.5 552.2 1415.0 552.0 1415.5 551.9 1416.0 551.7 1416.5 551.6 1417.0 551.4 1417.5 551.2 1418.0 551.1 1418.5 550.9 1419.0 550.7 1419.5 550.6 1420.0 550.4 1420.5 550.2 1421.0 550.1 1421.5 549.9 1422.0 549.7 1422.5 549.6 1423.0 549.4 1423.5 549.2 1424.0 549.1 1424.5 548.9 1425.0 548.7 1425.5 548.6 1426.0 548.4 1426.5 548.2 1427.0 548.1 1427.5 547.9 1428.0 547.7 1428.5 547.6 1429.0 547.4 1429.5 547.2 1430.0 547.1 1430.5 546.9 1431.0 546.7 1431.5 546.5 1432.0 546.4 1432.5 546.2 1433.0 546.0 1433.5 545.9 1434.0 545.7 1434.5 545.5 1435.0 545.3 1435.5 545.2 1436.0 545.0 1436.5 544.8 1437.0 544.7 1437.5 544.5 1438.0 544.3 1438.5 544.1 1439.0 544.0 1439.5 543.8 1440.0 543.6 1440.5 543.4 1441.0 543.3 1441.5 543.1 1442.0 542.9 1442.5 542.7 1443.0 542.6 1443.5 542.4 1444.0 542.2 1444.5 542.0 1445.0 541.8 1445.5 541.7 1446.0 541.5 1446.5 541.3 1447.0 541.1 1447.5 541.0 1448.0 540.8 1448.5 540.6 1449.0 540.4 1449.5 540.2 1450.0 540.1 1450.5 539.9 1451.0 539.7 1451.5 539.5 1452.0 539.3 1452.5 539.2 1453.0 539.0 1453.5 538.8 1454.0 538.6 1454.5 538.4 1455.0 538.3 1455.5 538.1 1456.0 537.9 1456.5 537.7 1457.0 537.5 1457.5 537.4 1458.0 537.2 1458.5 537.0 1459.0 536.8 1459.5 536.6 1460.0 536.4 1460.5 536.3 1461.0 536.1 1461.5 535.9 1462.0 535.7 1462.5 535.5 1463.0 535.3 1463.5 535.2 1464.0 535.0 1464.5 534.8 1465.0 534.6 1465.5 534.4 1466.0 534.2 1466.5 534.1 1467.0 533.9 1467.5 533.7 1468.0 533.5 1468.5 533.3 1469.0 533.1 1469.5 532.9 1470.0 532.8 1470.5 532.6 1471.0 532.4 1471.5 532.2 1472.0 532.0 1472.5 531.8 1473.0 531.6 1473.5 531.5 1474.0 531.3 1474.5 531.1 1475.0 530.9 1475.5 530.7 1476.0 530.5 1476.5 530.3 1477.0 530.1 1477.5 530.0 1478.0 529.8 1478.5 529.6 1479.0 529.4 1479.5 529.2 1480.0 529.0 1480.5 528.8 1481.0 528.6 1481.5 528.5 1482.0 528.3 1482.5 528.1 1483.0 527.9 1483.5 527.7 1484.0 527.5 1484.5 527.3 1485.0 527.1 1485.5 527.0 1486.0 526.8 1486.5 526.6 1487.0 526.4 1487.5 526.2 1488.0 526.0 1488.5 525.8 1489.0 525.6 1489.5 525.5 1490.0 525.3 1490.5 525.1 1491.0 524.9 1491.5 524.7 1492.0 524.5 1492.5 524.3 1493.0 524.1 1493.5 524.0 1494.0 523.8 1494.5 523.6 1495.0 523.4 1495.5 523.2 1496.0 523.0 1496.5 522.8 1497.0 522.6 1497.5 522.5 1498.0 522.3 1498.5 522.1 1499.0 521.9 1499.5 521.7 1500.0 521.5 1500.5 521.3 1501.0 521.1" stroke="#a82326" stroke-width="2.9"/>
<path d="M121.5 927.4L122.0 927.4 122.5 927.3 123.0 927.2 123.5 927.1 124.0 927.0 124.5 927.0 125.0 926.9 125.5 926.8 126.0 926.7 126.5 926.7 127.0 926.6 127.5 926.5 128.0 926.4 128.5 926.3 129.0 926.3 129.5 926.2 130.0 926.1 130.5 926.0 131.0 925.9 131.5 925.9 132.0 925.8 132.5 925.7 133.0 925.6 133.5 925.6 134.0 925.5 134.5 925.4 135.0 925.3 135.5 925.2 136.0 925.2 136.5 925.1 137.0 925.0 137.5 924.9 138.0 924.8 138.5 924.8 139.0 924.7 139.5 924.6 140.0 924.5 140.5 924.4 141.0 924.4 141.5 924.3 142.0 924.2 142.5 924.1 143.0 924.0 143.5 924.0 144.0 923.9 144.5 923.8 145.0 923.7 145.5 923.6 146.0 923.5 146.5 923.5 147.0 923.4 147.5 923.3 148.0 923.2 148.5 923.1 149.0 923.1 149.5 923.0 150.0 922.9 150.5 922.8 151.0 922.7 151.5 922.6 152.0 922.6 152.5 922.5 153.0 922.4 153.5 922.3 154.0 922.2 154.5 922.1 155.0 922.0 155.5 922.0 156.0 921.9 156.5 921.8 157.0 921.7 157.5 921.6 158.0 921.5 158.5 921.4 159.0 921.3 159.5 921.3 160.0 921.2 160.5 921.1 161.0 921.0 161.5 920.9 162.0 920.8 162.5 920.7 163.0 920.6 163.5 920.5 164.0 920.5 164.5 920.4 165.0 920.3 165.5 920.2 166.0 920.1 166.5 920.0 167.0 919.9 167.5 919.8 168.0 919.7 168.5 919.6 169.0 919.5 169.5 919.4 170.0 919.3 170.5 919.2 171.0 919.1 171.5 919.0 172.0 918.9 172.5 918.8 173.0 918.7 173.5 918.7 174.0 918.6 174.5 918.5 175.0 918.4 175.5 918.3 176.0 918.2 176.5 918.0 177.0 917.9 177.5 917.8 178.0 917.7 178.5 917.6 179.0 917.5 179.5 917.4 180.0 917.3 180.5 917.2 181.0 917.1 181.5 917.0 182.0 916.9 182.5 916.8 183.0 916.7 183.5 916.6 184.0 916.5 184.5 916.4 185.0 916.3 185.5 916.2 186.0 916.1 186.5 915.9 187.0 915.8 187.5 915.7 188.0 915.6 188.5 915.5 189.0 915.4 189.5 915.3 190.0 915.2 190.5 915.1 191.0 914.9 191.5 914.8 192.0 914.7 192.5 914.6 193.0 914.5 193.5 914.4 194.0 914.3 194.5 914.2 195.0 914.0 195.5 913.9 196.0 913.8 196.5 913.7 197.0 913.6 197.5 913.5 198.0 913.4 198.5 913.2 199.0 913.1 199.5 913.0 200.0 912.9 200.5 912.8 201.0 912.7 201.5 912.5 202.0 912.4 202.5 912.3 203.0 912.2 203.5 912.1 204.0 911.9 204.5 911.8 205.0 911.7 205.5 911.6 206.0 911.5 206.5 911.3 207.0 911.2 207.5 911.1 208.0 911.0 208.5 910.9 209.0 910.7 209.5 910.6 210.0 910.5 210.5 910.4 211.0 910.2 211.5 910.1 212.0 910.0 212.5 909.9 213.0 909.7 213.5 909.6 214.0 909.5 214.5 909.4 215.0 909.2 215.5 909.1 216.0 909.0 216.5 908.9 217.0 908.7 217.5 908.6 218.0 908.5 218.5 908.4 219.0 908.2 219.5 908.1 220.0 908.0 220.5 907.8 221.0 907.7 221.5 907.6 222.0 907.4 222.5 907.3 223.0 907.2 223.5 907.0 224.0 906.9 224.5 906.8 225.0 906.6 225.5 906.5 226.0 906.4 226.5 906.2 227.0 906.1 227.5 906.0 228.0 905.8 228.5 905.7 229.0 905.6 229.5 905.4 230.0 905.3 230.5 905.2 231.0 905.0 231.5 904.9 232.0 904.7 232.5 904.6 233.0 904.5 233.5 904.3 234.0 904.2 234.5 904.0 235.0 903.9 235.5 903.8 236.0 903.6 236.5 903.5 237.0 903.3 237.5 903.2 238.0 903.0 238.5 902.9 239.0 902.7 239.5 902.6 240.0 902.4 240.5 902.3 241.0 902.2 241.5 902.0 242.0 901.9 242.5 901.7 243.0 901.6 243.5 901.4 244.0 901.3 244.5 901.1 245.0 900.9 245.5 900.8 246.0 900.6 246.5 900.5 247.0 900.3 247.5 900.2 248.0 900.0 248.5 899.9 249.0 899.7 249.5 899.6 250.0 899.4 250.5 899.2 251.0 899.1 251.5 898.9 252.0 898.8 252.5 898.6 253.0 898.4 253.5 898.3 254.0 898.1 254.5 897.9 255.0 897.8 255.5 897.6 256.0 897.5 256.5 897.3 257.0 897.1 257.5 897.0 258.0 896.8 258.5 896.6 259.0 896.5 259.5 896.3 260.0 896.1 260.5 895.9 261.0 895.8 261.5 895.6 262.0 895.4 262.5 895.3 263.0 895.1 263.5 894.9 264.0 894.7 264.5 894.6 265.0 894.4 265.5 894.2 266.0 894.0 266.5 893.9 267.0 893.7 267.5 893.5 268.0 893.3 268.5 893.2 269.0 893.0 269.5 892.8 270.0 892.6 270.5 892.4 271.0 892.2 271.5 892.1 272.0 891.9 272.5 891.7 273.0 891.5 273.5 891.3 274.0 891.2 274.5 891.0 275.0 890.8 275.5 890.6 276.0 890.4 276.5 890.2 277.0 890.0 277.5 889.8 278.0 889.7 278.5 889.5 279.0 889.3 279.5 889.1 280.0 888.9 280.5 888.7 281.0 888.5 281.5 888.3 282.0 888.1 282.5 888.0 283.0 887.8 283.5 887.6 284.0 887.4 284.5 887.2 285.0 887.0 285.5 886.8 286.0 886.6 286.5 886.4 287.0 886.2 287.5 886.0 288.0 885.8 288.5 885.6 289.0 885.4 289.5 885.2 290.0 885.0 290.5 884.8 291.0 884.6 291.5 884.4 292.0 884.2 292.5 884.1 293.0 883.9 293.5 883.7 294.0 883.5 294.5 883.3 295.0 883.1 295.5 882.9 296.0 882.7 296.5 882.5 297.0 882.3 297.5 882.1 298.0 881.9 298.5 881.7 299.0 881.5 299.5 881.3 300.0 881.1 300.5 880.9 301.0 880.7 301.5 880.5 302.0 880.3 302.5 880.0 303.0 879.8 303.5 879.6 304.0 879.4 304.5 879.2 305.0 879.0 305.5 878.8 306.0 878.6 306.5 878.4 307.0 878.2 307.5 878.0 308.0 877.8 308.5 877.6 309.0 877.4 309.5 877.2 310.0 877.0 310.5 876.8 311.0 876.6 311.5 876.4 312.0 876.2 312.5 876.0 313.0 875.8 313.5 875.6 314.0 875.3 314.5 875.1 315.0 874.9 315.5 874.7 316.0 874.5 316.5 874.3 317.0 874.1 317.5 873.9 318.0 873.7 318.5 873.5 319.0 873.3 319.5 873.1 320.0 872.9 320.5 872.6 321.0 872.4 321.5 872.2 322.0 872.0 322.5 871.8 323.0 871.6 323.5 871.4 324.0 871.2 324.5 871.0 325.0 870.8 325.5 870.6 326.0 870.3 326.5 870.1 327.0 869.9 327.5 869.7 328.0 869.5 328.5 869.3 329.0 869.1 329.5 868.9 330.0 868.7 330.5 868.4 331.0 868.2 331.5 868.0 332.0 867.8 332.5 867.6 333.0 867.4 333.5 867.2 334.0 867.0 334.5 866.8 335.0 866.6 335.5 866.3 336.0 866.1 336.5 865.9 337.0 865.7 337.5 865.5 338.0 865.3 338.5 865.1 339.0 864.9 339.5 864.7 340.0 864.4 340.5 864.2 341.0 864.0 341.5 863.8 342.0 863.6 342.5 863.4 343.0 863.2 343.5 863.0 344.0 862.8 344.5 862.6 345.0 862.3 345.5 862.1 346.0 861.9 346.5 861.7 347.0 861.5 347.5 861.3 348.0 861.1 348.5 860.9 349.0 860.7 349.5 860.5 350.0 860.2 350.5 860.0 351.0 859.8 351.5 859.6 352.0 859.4 352.5 859.2 353.0 859.0 353.5 858.8 354.0 858.6 354.5 858.4 355.0 858.1 355.5 857.9 356.0 857.7 356.5 857.5 357.0 857.3 357.5 857.1 358.0 856.9 358.5 856.7 359.0 856.5 359.5 856.3 360.0 856.1 360.5 855.8 361.0 855.6 361.5 855.4 362.0 855.2 362.5 855.0 363.0 854.8 363.5 854.6 364.0 854.4 364.5 854.2 365.0 854.0 365.5 853.8 366.0 853.5 366.5 853.3 367.0 853.1 367.5 852.9 368.0 852.7 368.5 852.5 369.0 852.3 369.5 852.1 370.0 851.9 370.5 851.7 371.0 851.4 371.5 851.2 372.0 851.0 372.5 850.8 373.0 850.6 373.5 850.4 374.0 850.2 374.5 850.0 375.0 849.8 375.5 849.6 376.0 849.3 376.5 849.1 377.0 848.9 377.5 848.7 378.0 848.5 378.5 848.3 379.0 848.1 379.5 847.9 380.0 847.7 380.5 847.4 381.0 847.2 381.5 847.0 382.0 846.8 382.5 846.6 383.0 846.4 383.5 846.2 384.0 846.0 384.5 845.7 385.0 845.5 385.5 845.3 386.0 845.1 386.5 844.9 387.0 844.7 387.5 844.5 388.0 844.3 388.5 844.0 389.0 843.8 389.5 843.6 390.0 843.4 390.5 843.2 391.0 843.0 391.5 842.7 392.0 842.5 392.5 842.3 393.0 842.1 393.5 841.9 394.0 841.7 394.5 841.5 395.0 841.2 395.5 841.0 396.0 840.8 396.5 840.6 397.0 840.4 397.5 840.2 398.0 839.9 398.5 839.7 399.0 839.5 399.5 839.3 400.0 839.1 400.5 838.9 401.0 838.7 401.5 838.4 402.0 838.2 402.5 838.0 403.0 837.8 403.5 837.6 404.0 837.4 404.5 837.1 405.0 836.9 405.5 836.7 406.0 836.5 406.5 836.3 407.0 836.1 407.5 835.8 408.0 835.6 408.5 835.4 409.0 835.2 409.5 835.0 410.0 834.8 410.5 834.5 411.0 834.3 411.5 834.1 412.0 833.9 412.5 833.7 413.0 833.5 413.5 833.3 414.0 833.0 414.5 832.8 415.0 832.6 415.5 832.4 416.0 832.2 416.5 832.0 417.0 831.8 417.5 831.5 418.0 831.3 418.5 831.1 419.0 830.9 419.5 830.7 420.0 830.5 420.5 830.3 421.0 830.0 421.5 829.8 422.0 829.6 422.5 829.4 423.0 829.2 423.5 829.0 424.0 828.8 424.5 828.6 425.0 828.4 425.5 828.2 426.0 827.9 426.5 827.7 427.0 827.5 427.5 827.3 428.0 827.1 428.5 826.9 429.0 826.7 429.5 826.5 430.0 826.3 430.5 826.1 431.0 825.9 431.5 825.7 432.0 825.5 432.5 825.3 433.0 825.1 433.5 824.9 434.0 824.7 434.5 824.5 435.0 824.3 435.5 824.1 436.0 823.9 436.5 823.7 437.0 823.5 437.5 823.3 438.0 823.1 438.5 822.9 439.0 822.7 439.5 822.5 440.0 822.3 440.5 822.1 441.0 821.9 441.5 821.8 442.0 821.6 442.5 821.4 443.0 821.2 443.5 821.0 444.0 820.8 444.5 820.6 445.0 820.5 445.5 820.3 446.0 820.1 446.5 819.9 447.0 819.7 447.5 819.6 448.0 819.4 448.5 819.2 449.0 819.0 449.5 818.9 450.0 818.7 450.5 818.5 451.0 818.4 451.5 818.2 452.0 818.0 452.5 817.9 453.0 817.7 453.5 817.5 454.0 817.4 454.5 817.2 455.0 817.1 455.5 816.9 456.0 816.8 456.5 816.6 457.0 816.5 457.5 816.3 458.0 816.2 458.5 816.0 459.0 815.9 459.5 815.8 460.0 815.6 460.5 815.5 461.0 815.4 461.5 815.2 462.0 815.1 462.5 815.0 463.0 814.9 463.5 814.7 464.0 814.6 464.5 814.5 465.0 814.4 465.5 814.3 466.0 814.2 466.5 814.1 467.0 814.0 467.5 813.9 468.0 813.8 468.5 813.7 469.0 813.6 469.5 813.5 470.0 813.4 470.5 813.4 471.0 813.3 471.5 813.2 472.0 813.1 472.5 813.1 473.0 813.0 473.5 812.9 474.0 812.9 474.5 812.8 475.0 812.8 475.5 812.7 476.0 812.7 476.5 812.6 477.0 812.6 477.5 812.5 478.0 812.5 478.5 812.5 479.0 812.4 479.5 812.4 480.0 812.3 480.5 812.3 481.0 812.3 481.5 812.3 482.0 812.2 482.5 812.2 483.0 812.2 483.5 812.2 484.0 812.1 484.5 812.1 485.0 812.1 485.5 812.1 486.0 812.1 486.5 812.1 487.0 812.1 487.5 812.1 488.0 812.1 488.5 812.0 489.0 812.0 489.5 812.0 490.0 812.0 490.5 812.0 491.0 812.0 491.5 812.0 492.0 812.0 492.5 812.0 493.0 812.0 493.5 812.0 494.0 812.1 494.5 812.1 495.0 812.1 495.5 812.1 496.0 812.1 496.5 812.1 497.0 812.1 497.5 812.1 498.0 812.1 498.5 812.1 499.0 812.1 499.5 812.2 500.0 812.2 500.5 812.2 501.0 812.2 501.5 812.2 502.0 812.2 502.5 812.2 503.0 812.3 503.5 812.3 504.0 812.3 504.5 812.3 505.0 812.3 505.5 812.4 506.0 812.4 506.5 812.4 507.0 812.4 507.5 812.4 508.0 812.5 508.5 812.5 509.0 812.5 509.5 812.5 510.0 812.6 510.5 812.6 511.0 812.6 511.5 812.7 512.0 812.7 512.5 812.7 513.0 812.7 513.5 812.8 514.0 812.8 514.5 812.8 515.0 812.9 515.5 812.9 516.0 813.0 516.5 813.0 517.0 813.0 517.5 813.1 518.0 813.1 518.5 813.1 519.0 813.2 519.5 813.2 520.0 813.3 520.5 813.3 521.0 813.4 521.5 813.4 522.0 813.4 522.5 813.5 523.0 813.5 523.5 813.6 524.0 813.6 524.5 813.7 525.0 813.7 525.5 813.8 526.0 813.8 526.5 813.9 527.0 813.9 527.5 814.0 528.0 814.0 528.5 814.1 529.0 814.1 529.5 814.2 530.0 814.3 530.5 814.3 531.0 814.4 531.5 814.4 532.0 814.5 532.5 814.5 533.0 814.6 533.5 814.6 534.0 814.7 534.5 814.8 535.0 814.8 535.5 814.9 536.0 814.9 536.5 815.0 537.0 815.1 537.5 815.1 538.0 815.2 538.5 815.2 539.0 815.3 539.5 815.4 540.0 815.4 540.5 815.5 541.0 815.5 541.5 815.6 542.0 815.7 542.5 815.7 543.0 815.8 543.5 815.9 544.0 815.9 544.5 816.0 545.0 816.0 545.5 816.1 546.0 816.2 546.5 816.2 547.0 816.3 547.5 816.4 548.0 816.4 548.5 816.5 549.0 816.6 549.5 816.6 550.0 816.7 550.5 816.8 551.0 816.8 551.5 816.9 552.0 817.0 552.5 817.0 553.0 817.1 553.5 817.2 554.0 817.2 554.5 817.3 555.0 817.4 555.5 817.4 556.0 817.5 556.5 817.6 557.0 817.6 557.5 817.7 558.0 817.8 558.5 817.8 559.0 817.9 559.5 818.0 560.0 818.0 560.5 818.1 561.0 818.1 561.5 818.2 562.0 818.3 562.5 818.3 563.0 818.4 563.5 818.5 564.0 818.5 564.5 818.6 565.0 818.7 565.5 818.7 566.0 818.8 566.5 818.9 567.0 818.9 567.5 819.0 568.0 819.1 568.5 819.1 569.0 819.2 569.5 819.3 570.0 819.3 570.5 819.4 571.0 819.4 571.5 819.5 572.0 819.6 572.5 819.6 573.0 819.7 573.5 819.8 574.0 819.8 574.5 819.9 575.0 819.9 575.5 820.0 576.0 820.1 576.5 820.1 577.0 820.2 577.5 820.2 578.0 820.3 578.5 820.4 579.0 820.4 579.5 820.5 580.0 820.5 580.5 820.6 581.0 820.7 581.5 820.7 582.0 820.8 582.5 820.8 583.0 820.9 583.5 820.9 584.0 821.0 584.5 821.0 585.0 821.1 585.5 821.2 586.0 821.2 586.5 821.3 587.0 821.3 587.5 821.4 588.0 821.4 588.5 821.5 589.0 821.5 589.5 821.6 590.0 821.6 590.5 821.7 591.0 821.7 591.5 821.8 592.0 821.8 592.5 821.9 593.0 821.9 593.5 822.0 594.0 822.0 594.5 822.0 595.0 822.1 595.5 822.1 596.0 822.2 596.5 822.2 597.0 822.3 597.5 822.3 598.0 822.4 598.5 822.4 599.0 822.4 599.5 822.5 600.0 822.5 600.5 822.6 601.0 822.6 601.5 822.6 602.0 822.7 602.5 822.7 603.0 822.8 603.5 822.8 604.0 822.8 604.5 822.9 605.0 822.9 605.5 822.9 606.0 823.0 606.5 823.0 607.0 823.0 607.5 823.1 608.0 823.1 608.5 823.2 609.0 823.2 609.5 823.2 610.0 823.3 610.5 823.3 611.0 823.3 611.5 823.3 612.0 823.4 612.5 823.4 613.0 823.4 613.5 823.5 614.0 823.5 614.5 823.5 615.0 823.6 615.5 823.6 616.0 823.6 616.5 823.7 617.0 823.7 617.5 823.7 618.0 823.7 618.5 823.8 619.0 823.8 619.5 823.8 620.0 823.9 620.5 823.9 621.0 823.9 621.5 823.9 622.0 824.0 622.5 824.0 623.0 824.0 623.5 824.0 624.0 824.1 624.5 824.1 625.0 824.1 625.5 824.1 626.0 824.2 626.5 824.2 627.0 824.2 627.5 824.2 628.0 824.3 628.5 824.3 629.0 824.3 629.5 824.3 630.0 824.4 630.5 824.4 631.0 824.4 631.5 824.4 632.0 824.5 632.5 824.5 633.0 824.5 633.5 824.5 634.0 824.6 634.5 824.6 635.0 824.6 635.5 824.6 636.0 824.7 636.5 824.7 637.0 824.7 637.5 824.7 638.0 824.8 638.5 824.8 639.0 824.8 639.5 824.8 640.0 824.9 640.5 824.9 641.0 824.9 641.5 824.9 642.0 825.0 642.5 825.0 643.0 825.0 643.5 825.0 644.0 825.1 644.5 825.1 645.0 825.1 645.5 825.1 646.0 825.2 646.5 825.2 647.0 825.2 647.5 825.2 648.0 825.3 648.5 825.3 649.0 825.3 649.5 825.3 650.0 825.4 650.5 825.4 651.0 825.4 651.5 825.4 652.0 825.5 652.5 825.5 653.0 825.5 653.5 825.5 654.0 825.6 654.5 825.6 655.0 825.6 655.5 825.6 656.0 825.7 656.5 825.7 657.0 825.7 657.5 825.8 658.0 825.8 658.5 825.8 659.0 825.8 659.5 825.9 660.0 825.9 660.5 825.9 661.0 826.0 661.5 826.0 662.0 826.0 662.5 826.0 663.0 826.1 663.5 826.1 664.0 826.1 664.5 826.2 665.0 826.2 665.5 826.2 666.0 826.3 666.5 826.3 667.0 826.3 667.5 826.4 668.0 826.4 668.5 826.4 669.0 826.5 669.5 826.5 670.0 826.5 670.5 826.6 671.0 826.6 671.5 826.6 672.0 826.7 672.5 826.7 673.0 826.7 673.5 826.8 674.0 826.8 674.5 826.8 675.0 826.9 675.5 826.9 676.0 826.9 676.5 827.0 677.0 827.0 677.5 827.1 678.0 827.1 678.5 827.1 679.0 827.2 679.5 827.2 680.0 827.3 680.5 827.3 681.0 827.3 681.5 827.4 682.0 827.4 682.5 827.5 683.0 827.5 683.5 827.5 684.0 827.6 684.5 827.6 685.0 827.7 685.5 827.7 686.0 827.7 686.5 827.8 687.0 827.8 687.5 827.9 688.0 827.9 688.5 828.0 689.0 828.0 689.5 828.0 690.0 828.1 690.5 828.1 691.0 828.2 691.5 828.2 692.0 828.3 692.5 828.3 693.0 828.4 693.5 828.4 694.0 828.4 694.5 828.5 695.0 828.5 695.5 828.6 696.0 828.6 696.5 828.7 697.0 828.7 697.5 828.8 698.0 828.8 698.5 828.9 699.0 828.9 699.5 829.0 700.0 829.0 700.5 829.1 701.0 829.1 701.5 829.2 702.0 829.2 702.5 829.3 703.0 829.3 703.5 829.4 704.0 829.4 704.5 829.5 705.0 829.5 705.5 829.6 706.0 829.6 706.5 829.7 707.0 829.7 707.5 829.8 708.0 829.8 708.5 829.9 709.0 829.9 709.5 830.0 710.0 830.1 710.5 830.1 711.0 830.2 711.5 830.2 712.0 830.3 712.5 830.3 713.0 830.4 713.5 830.4 714.0 830.5 714.5 830.5 715.0 830.6 715.5 830.7 716.0 830.7 716.5 830.8 717.0 830.8 717.5 830.9 718.0 830.9 718.5 831.0 719.0 831.0 719.5 831.1 720.0 831.2 720.5 831.2 721.0 831.3 721.5 831.3 722.0 831.4 722.5 831.4 723.0 831.5 723.5 831.6 724.0 831.6 724.5 831.7 725.0 831.7 725.5 831.8 726.0 831.8 726.5 831.9 727.0 832.0 727.5 832.0 728.0 832.1 728.5 832.1 729.0 832.2 729.5 832.3 730.0 832.3 730.5 832.4 731.0 832.4 731.5 832.5 732.0 832.5 732.5 832.6 733.0 832.7 733.5 832.7 734.0 832.8 734.5 832.8 735.0 832.9 735.5 833.0 736.0 833.0 736.5 833.1 737.0 833.1 737.5 833.2 738.0 833.2 738.5 833.3 739.0 833.4 739.5 833.4 740.0 833.5 740.5 833.5 741.0 833.6 741.5 833.6 742.0 833.7 742.5 833.8 743.0 833.8 743.5 833.9 744.0 833.9 744.5 834.0 745.0 834.1 745.5 834.1 746.0 834.2 746.5 834.2 747.0 834.3 747.5 834.3 748.0 834.4 748.5 834.5 749.0 834.5 749.5 834.6 750.0 834.6 750.5 834.7 751.0 834.7 751.5 834.8 752.0 834.8 752.5 834.9 753.0 835.0 753.5 835.0 754.0 835.1 754.5 835.1 755.0 835.2 755.5 835.2 756.0 835.3 756.5 835.3 757.0 835.4 757.5 835.5 758.0 835.5 758.5 835.6 759.0 835.6 759.5 835.7 760.0 835.7 760.5 835.8 761.0 835.8 761.5 835.9 762.0 835.9 762.5 836.0 763.0 836.0 763.5 836.1 764.0 836.1 764.5 836.2 765.0 836.2 765.5 836.3 766.0 836.3 766.5 836.4 767.0 836.4 767.5 836.5 768.0 836.5 768.5 836.6 769.0 836.6 769.5 836.7 770.0 836.7 770.5 836.8 771.0 836.8 771.5 836.9 772.0 836.9 772.5 837.0 773.0 837.0 773.5 837.1 774.0 837.1 774.5 837.2 775.0 837.2 775.5 837.2 776.0 837.3 776.5 837.3 777.0 837.4 777.5 837.4 778.0 837.5 778.5 837.5 779.0 837.5 779.5 837.6 780.0 837.6 780.5 837.7 781.0 837.7 781.5 837.8 782.0 837.8 782.5 837.8 783.0 837.9 783.5 837.9 784.0 838.0 784.5 838.0 785.0 838.0 785.5 838.1 786.0 838.1 786.5 838.2 787.0 838.2 787.5 838.2 788.0 838.3 788.5 838.3 789.0 838.3 789.5 838.4 790.0 838.4 790.5 838.4 791.0 838.5 791.5 838.5 792.0 838.6 792.5 838.6 793.0 838.6 793.5 838.7 794.0 838.7 794.5 838.7 795.0 838.8 795.5 838.8 796.0 838.8 796.5 838.8 797.0 838.9 797.5 838.9 798.0 838.9 798.5 839.0 799.0 839.0 799.5 839.0 800.0 839.1 800.5 839.1 801.0 839.1 801.5 839.1 802.0 839.2 802.5 839.2 803.0 839.2 803.5 839.3 804.0 839.3 804.5 839.3 805.0 839.3 805.5 839.4 806.0 839.4 806.5 839.4 807.0 839.4 807.5 839.5 808.0 839.5 808.5 839.5 809.0 839.5 809.5 839.6 810.0 839.6 810.5 839.6 811.0 839.6 811.5 839.6 812.0 839.7 812.5 839.7 813.0 839.7 813.5 839.7 814.0 839.7 814.5 839.8 815.0 839.8 815.5 839.8 816.0 839.8 816.5 839.8 817.0 839.9 817.5 839.9 818.0 839.9 818.5 839.9 819.0 839.9 819.5 839.9 820.0 840.0 820.5 840.0 821.0 840.0 821.5 840.0 822.0 840.0 822.5 840.0 823.0 840.0 823.5 840.1 824.0 840.1 824.5 840.1 825.0 840.1 825.5 840.1 826.0 840.1 826.5 840.1 827.0 840.1 827.5 840.2 828.0 840.2 828.5 840.2 829.0 840.2 829.5 840.2 830.0 840.2 830.5 840.2 831.0 840.2 831.5 840.2 832.0 840.2 832.5 840.2 833.0 840.2 833.5 840.2 834.0 840.3 834.5 840.3 835.0 840.3 835.5 840.3 836.0 840.3 836.5 840.3 837.0 840.3 837.5 840.3 838.0 840.3 838.5 840.3 839.0 840.3 839.5 840.3 840.0 840.3 840.5 840.3 841.0 840.3 841.5 840.3 842.0 840.3 842.5 840.3 843.0 840.3 843.5 840.3 844.0 840.3 844.5 840.3 845.0 840.3 845.5 840.3 846.0 840.3 846.5 840.3 847.0 840.3 847.5 840.3 848.0 840.3 848.5 840.3 849.0 840.3 849.5 840.3 850.0 840.2 850.5 840.2 851.0 840.2 851.5 840.2 852.0 840.2 852.5 840.2 853.0 840.2 853.5 840.2 854.0 840.2 854.5 840.2 855.0 840.2 855.5 840.2 856.0 840.1 856.5 840.1 857.0 840.1 857.5 840.1 858.0 840.1 858.5 840.1 859.0 840.1 859.5 840.1 860.0 840.0 860.5 840.0 861.0 840.0 861.5 840.0 862.0 840.0 862.5 840.0 863.0 840.0 863.5 839.9 864.0 839.9 864.5 839.9 865.0 839.9 865.5 839.9 866.0 839.9 866.5 839.8 867.0 839.8 867.5 839.8 868.0 839.8 868.5 839.8 869.0 839.7 869.5 839.7 870.0 839.7 870.5 839.7 871.0 839.7 871.5 839.6 872.0 839.6 872.5 839.6 873.0 839.6 873.5 839.6 874.0 839.5 874.5 839.5 875.0 839.5 875.5 839.5 876.0 839.4 876.5 839.4 877.0 839.4 877.5 839.4 878.0 839.3 878.5 839.3 879.0 839.3 879.5 839.3 880.0 839.2 880.5 839.2 881.0 839.2 881.5 839.2 882.0 839.1 882.5 839.1 883.0 839.1 883.5 839.1 884.0 839.0 884.5 839.0 885.0 839.0 885.5 838.9 886.0 838.9 886.5 838.9 887.0 838.9 887.5 838.8 888.0 838.8 888.5 838.8 889.0 838.7 889.5 838.7 890.0 838.7 890.5 838.7 891.0 838.6 891.5 838.6 892.0 838.6 892.5 838.5 893.0 838.5 893.5 838.5 894.0 838.4 894.5 838.4 895.0 838.4 895.5 838.4 896.0 838.3 896.5 838.3 897.0 838.3 897.5 838.2 898.0 838.2 898.5 838.2 899.0 838.1 899.5 838.1 900.0 838.1 900.5 838.0 901.0 838.0 901.5 838.0 902.0 837.9 902.5 837.9 903.0 837.9 903.5 837.9 904.0 837.8 904.5 837.8 905.0 837.8 905.5 837.7 906.0 837.7 906.5 837.7 907.0 837.6 907.5 837.6 908.0 837.6 908.5 837.5 909.0 837.5 909.5 837.5 910.0 837.4 910.5 837.4 911.0 837.4 911.5 837.3 912.0 837.3 912.5 837.3 913.0 837.2 913.5 837.2 914.0 837.2 914.5 837.1 915.0 837.1 915.5 837.1 916.0 837.0 916.5 837.0 917.0 837.0 917.5 836.9 918.0 836.9 918.5 836.9 919.0 836.8 919.5 836.8 920.0 836.8 920.5 836.7 921.0 836.7 921.5 836.7 922.0 836.6 922.5 836.6 923.0 836.6 923.5 836.5 924.0 836.5 924.5 836.5 925.0 836.4 925.5 836.4 926.0 836.4 926.5 836.3 927.0 836.3 927.5 836.2 928.0 836.2 928.5 836.2 929.0 836.1 929.5 836.1 930.0 836.1 930.5 836.0 931.0 836.0 931.5 836.0 932.0 835.9 932.5 835.9 933.0 835.9 933.5 835.8 934.0 835.8 934.5 835.8 935.0 835.7 935.5 835.7 936.0 835.7 936.5 835.6 937.0 835.6 937.5 835.6 938.0 835.5 938.5 835.5 939.0 835.5 939.5 835.4 940.0 835.4 940.5 835.3 941.0 835.3 941.5 835.3 942.0 835.2 942.5 835.2 943.0 835.2 943.5 835.1 944.0 835.1 944.5 835.1 945.0 835.0 945.5 835.0 946.0 835.0 946.5 834.9 947.0 834.9 947.5 834.9 948.0 834.8 948.5 834.8 949.0 834.8 949.5 834.7 950.0 834.7 950.5 834.6 951.0 834.6 951.5 834.6 952.0 834.5 952.5 834.5 953.0 834.5 953.5 834.4 954.0 834.4 954.5 834.4 955.0 834.3 955.5 834.3 956.0 834.3 956.5 834.2 957.0 834.2 957.5 834.2 958.0 834.1 958.5 834.1 959.0 834.1 959.5 834.0 960.0 834.0 960.5 833.9 961.0 833.9 961.5 833.9 962.0 833.8 962.5 833.8 963.0 833.8 963.5 833.7 964.0 833.7 964.5 833.7 965.0 833.6 965.5 833.6 966.0 833.6 966.5 833.5 967.0 833.5 967.5 833.4 968.0 833.4 968.5 833.4 969.0 833.3 969.5 833.3 970.0 833.3 970.5 833.2 971.0 833.2 971.5 833.2 972.0 833.1 972.5 833.1 973.0 833.0 973.5 833.0 974.0 833.0 974.5 832.9 975.0 832.9 975.5 832.9 976.0 832.8 976.5 832.8 977.0 832.7 977.5 832.7 978.0 832.7 978.5 832.6 979.0 832.6 979.5 832.6 980.0 832.5 980.5 832.5 981.0 832.4 981.5 832.4 982.0 832.4 982.5 832.3 983.0 832.3 983.5 832.2 984.0 832.2 984.5 832.2 985.0 832.1 985.5 832.1 986.0 832.0 986.5 832.0 987.0 832.0 987.5 831.9 988.0 831.9 988.5 831.8 989.0 831.8 989.5 831.7 990.0 831.7 990.5 831.7 991.0 831.6 991.5 831.6 992.0 831.5 992.5 831.5 993.0 831.4 993.5 831.4 994.0 831.4 994.5 831.3 995.0 831.3 995.5 831.2 996.0 831.2 996.5 831.1 997.0 831.1 997.5 831.0 998.0 831.0 998.5 831.0 999.0 830.9 999.5 830.9 1000.0 830.8 1000.5 830.8 1001.0 830.7 1001.5 830.7 1002.0 830.6 1002.5 830.6 1003.0 830.5 1003.5 830.5 1004.0 830.4 1004.5 830.4 1005.0 830.3 1005.5 830.3 1006.0 830.2 1006.5 830.2 1007.0 830.1 1007.5 830.1 1008.0 830.0 1008.5 830.0 1009.0 829.9 1009.5 829.9 1010.0 829.8 1010.5 829.7 1011.0 829.7 1011.5 829.6 1012.0 829.6 1012.5 829.5 1013.0 829.5 1013.5 829.4 1014.0 829.4 1014.5 829.3 1015.0 829.2 1015.5 829.2 1016.0 829.1 1016.5 829.1 1017.0 829.0 1017.5 829.0 1018.0 828.9 1018.5 828.8 1019.0 828.8 1019.5 828.7 1020.0 828.7 1020.5 828.6 1021.0 828.5 1021.5 828.5 1022.0 828.4 1022.5 828.4 1023.0 828.3 1023.5 828.2 1024.0 828.2 1024.5 828.1 1025.0 828.1 1025.5 828.0 1026.0 827.9 1026.5 827.9 1027.0 827.8 1027.5 827.7 1028.0 827.7 1028.5 827.6 1029.0 827.5 1029.5 827.5 1030.0 827.4 1030.5 827.4 1031.0 827.3 1031.5 827.2 1032.0 827.2 1032.5 827.1 1033.0 827.0 1033.5 827.0 1034.0 826.9 1034.5 826.8 1035.0 826.8 1035.5 826.7 1036.0 826.6 1036.5 826.6 1037.0 826.5 1037.5 826.4 1038.0 826.4 1038.5 826.3 1039.0 826.2 1039.5 826.1 1040.0 826.1 1040.5 826.0 1041.0 825.9 1041.5 825.9 1042.0 825.8 1042.5 825.7 1043.0 825.7 1043.5 825.6 1044.0 825.5 1044.5 825.4 1045.0 825.4 1045.5 825.3 1046.0 825.2 1046.5 825.2 1047.0 825.1 1047.5 825.0 1048.0 824.9 1048.5 824.9 1049.0 824.8 1049.5 824.7 1050.0 824.6 1050.5 824.6 1051.0 824.5 1051.5 824.4 1052.0 824.3 1052.5 824.3 1053.0 824.2 1053.5 824.1 1054.0 824.0 1054.5 824.0 1055.0 823.9 1055.5 823.8 1056.0 823.7 1056.5 823.7 1057.0 823.6 1057.5 823.5 1058.0 823.4 1058.5 823.4 1059.0 823.3 1059.5 823.2 1060.0 823.1 1060.5 823.1 1061.0 823.0 1061.5 822.9 1062.0 822.8 1062.5 822.8 1063.0 822.7 1063.5 822.6 1064.0 822.5 1064.5 822.4 1065.0 822.4 1065.5 822.3 1066.0 822.2 1066.5 822.1 1067.0 822.0 1067.5 822.0 1068.0 821.9 1068.5 821.8 1069.0 821.7 1069.5 821.7 1070.0 821.6 1070.5 821.5 1071.0 821.4 1071.5 821.3 1072.0 821.3 1072.5 821.2 1073.0 821.1 1073.5 821.0 1074.0 820.9 1074.5 820.9 1075.0 820.8 1075.5 820.7 1076.0 820.6 1076.5 820.5 1077.0 820.4 1077.5 820.4 1078.0 820.3 1078.5 820.2 1079.0 820.1 1079.5 820.0 1080.0 820.0 1080.5 819.9 1081.0 819.8 1081.5 819.7 1082.0 819.6 1082.5 819.5 1083.0 819.5 1083.5 819.4 1084.0 819.3 1084.5 819.2 1085.0 819.1 1085.5 819.0 1086.0 819.0 1086.5 818.9 1087.0 818.8 1087.5 818.7 1088.0 818.6 1088.5 818.5 1089.0 818.5 1089.5 818.4 1090.0 818.3 1090.5 818.2 1091.0 818.1 1091.5 818.0 1092.0 818.0 1092.5 817.9 1093.0 817.8 1093.5 817.7 1094.0 817.6 1094.5 817.5 1095.0 817.5 1095.5 817.4 1096.0 817.3 1096.5 817.2 1097.0 817.1 1097.5 817.0 1098.0 816.9 1098.5 816.9 1099.0 816.8 1099.5 816.7 1100.0 816.6 1100.5 816.5 1101.0 816.4 1101.5 816.3 1102.0 816.3 1102.5 816.2 1103.0 816.1 1103.5 816.0 1104.0 815.9 1104.5 815.8 1105.0 815.7 1105.5 815.7 1106.0 815.6 1106.5 815.5 1107.0 815.4 1107.5 815.3 1108.0 815.2 1108.5 815.1 1109.0 815.0 1109.5 815.0 1110.0 814.9 1110.5 814.8 1111.0 814.7 1111.5 814.6 1112.0 814.5 1112.5 814.4 1113.0 814.3 1113.5 814.3 1114.0 814.2 1114.5 814.1 1115.0 814.0 1115.5 813.9 1116.0 813.8 1116.5 813.7 1117.0 813.6 1117.5 813.6 1118.0 813.5 1118.5 813.4 1119.0 813.3 1119.5 813.2 1120.0 813.1 1120.5 813.0 1121.0 812.9 1121.5 812.9 1122.0 812.8 1122.5 812.7 1123.0 812.6 1123.5 812.5 1124.0 812.4 1124.5 812.3 1125.0 812.2 1125.5 812.2 1126.0 812.1 1126.5 812.0 1127.0 811.9 1127.5 811.8 1128.0 811.7 1128.5 811.6 1129.0 811.5 1129.5 811.4 1130.0 811.4 1130.5 811.3 1131.0 811.2 1131.5 811.1 1132.0 811.0 1132.5 810.9 1133.0 810.8 1133.5 810.7 1134.0 810.7 1134.5 810.6 1135.0 810.5 1135.5 810.4 1136.0 810.3 1136.5 810.2 1137.0 810.1 1137.5 810.0 1138.0 810.0 1138.5 809.9 1139.0 809.8 1139.5 809.7 1140.0 809.6 1140.5 809.5 1141.0 809.4 1141.5 809.3 1142.0 809.3 1142.5 809.2 1143.0 809.1 1143.5 809.0 1144.0 808.9 1144.5 808.8 1145.0 808.7 1145.5 808.7 1146.0 808.6 1146.5 808.5 1147.0 808.4 1147.5 808.3 1148.0 808.2 1148.5 808.1 1149.0 808.1 1149.5 808.0 1150.0 807.9 1150.5 807.8 1151.0 807.7 1151.5 807.6 1152.0 807.5 1152.5 807.5 1153.0 807.4 1153.5 807.3 1154.0 807.2 1154.5 807.1 1155.0 807.0 1155.5 806.9 1156.0 806.9 1156.5 806.8 1157.0 806.7 1157.5 806.6 1158.0 806.5 1158.5 806.4 1159.0 806.4 1159.5 806.3 1160.0 806.2 1160.5 806.1 1161.0 806.0 1161.5 805.9 1162.0 805.9 1162.5 805.8 1163.0 805.7 1163.5 805.6 1164.0 805.5 1164.5 805.4 1165.0 805.4 1165.5 805.3 1166.0 805.2 1166.5 805.1 1167.0 805.0 1167.5 805.0 1168.0 804.9 1168.5 804.8 1169.0 804.7 1169.5 804.6 1170.0 804.6 1170.5 804.5 1171.0 804.4 1171.5 804.3 1172.0 804.2 1172.5 804.2 1173.0 804.1 1173.5 804.0 1174.0 803.9 1174.5 803.8 1175.0 803.8 1175.5 803.7 1176.0 803.6 1176.5 803.5 1177.0 803.4 1177.5 803.4 1178.0 803.3 1178.5 803.2 1179.0 803.1 1179.5 803.1 1180.0 803.0 1180.5 802.9 1181.0 802.8 1181.5 802.7 1182.0 802.7 1182.5 802.6 1183.0 802.5 1183.5 802.4 1184.0 802.4 1184.5 802.3 1185.0 802.2 1185.5 802.1 1186.0 802.1 1186.5 802.0 1187.0 801.9 1187.5 801.8 1188.0 801.8 1188.5 801.7 1189.0 801.6 1189.5 801.5 1190.0 801.5 1190.5 801.4 1191.0 801.3 1191.5 801.2 1192.0 801.2 1192.5 801.1 1193.0 801.0 1193.5 800.9 1194.0 800.9 1194.5 800.8 1195.0 800.7 1195.5 800.6 1196.0 800.6 1196.5 800.5 1197.0 800.4 1197.5 800.3 1198.0 800.3 1198.5 800.2 1199.0 800.1 1199.5 800.0 1200.0 800.0 1200.5 799.9 1201.0 799.8 1201.5 799.8 1202.0 799.7 1202.5 799.6 1203.0 799.5 1203.5 799.5 1204.0 799.4 1204.5 799.3 1205.0 799.2 1205.5 799.2 1206.0 799.1 1206.5 799.0 1207.0 799.0 1207.5 798.9 1208.0 798.8 1208.5 798.7 1209.0 798.7 1209.5 798.6 1210.0 798.5 1210.5 798.5 1211.0 798.4 1211.5 798.3 1212.0 798.2 1212.5 798.2 1213.0 798.1 1213.5 798.0 1214.0 798.0 1214.5 797.9 1215.0 797.8 1215.5 797.8 1216.0 797.7 1216.5 797.6 1217.0 797.5 1217.5 797.5 1218.0 797.4 1218.5 797.3 1219.0 797.3 1219.5 797.2 1220.0 797.1 1220.5 797.1 1221.0 797.0 1221.5 796.9 1222.0 796.8 1222.5 796.8 1223.0 796.7 1223.5 796.6 1224.0 796.6 1224.5 796.5 1225.0 796.4 1225.5 796.4 1226.0 796.3 1226.5 796.2 1227.0 796.2 1227.5 796.1 1228.0 796.0 1228.5 795.9 1229.0 795.9 1229.5 795.8 1230.0 795.7 1230.5 795.7 1231.0 795.6 1231.5 795.5 1232.0 795.5 1232.5 795.4 1233.0 795.3 1233.5 795.3 1234.0 795.2 1234.5 795.1 1235.0 795.0 1235.5 795.0 1236.0 794.9 1236.5 794.8 1237.0 794.8 1237.5 794.7 1238.0 794.6 1238.5 794.6 1239.0 794.5 1239.5 794.4 1240.0 794.3 1240.5 794.3 1241.0 794.2 1241.5 794.1 1242.0 794.1 1242.5 794.0 1243.0 793.9 1243.5 793.8 1244.0 793.8 1244.5 793.7 1245.0 793.6 1245.5 793.6 1246.0 793.5 1246.5 793.4 1247.0 793.3 1247.5 793.3 1248.0 793.2 1248.5 793.1 1249.0 793.1 1249.5 793.0 1250.0 792.9 1250.5 792.8 1251.0 792.8 1251.5 792.7 1252.0 792.6 1252.5 792.6 1253.0 792.5 1253.5 792.4 1254.0 792.3 1254.5 792.3 1255.0 792.2 1255.5 792.1 1256.0 792.0 1256.5 792.0 1257.0 791.9 1257.5 791.8 1258.0 791.8 1258.5 791.7 1259.0 791.6 1259.5 791.5 1260.0 791.5 1260.5 791.4 1261.0 791.3 1261.5 791.3 1262.0 791.2 1262.5 791.1 1263.0 791.0 1263.5 791.0 1264.0 790.9 1264.5 790.8 1265.0 790.8 1265.5 790.7 1266.0 790.6 1266.5 790.5 1267.0 790.5 1267.5 790.4 1268.0 790.3 1268.5 790.3 1269.0 790.2 1269.5 790.1 1270.0 790.0 1270.5 790.0 1271.0 789.9 1271.5 789.8 1272.0 789.8 1272.5 789.7 1273.0 789.6 1273.5 789.5 1274.0 789.5 1274.5 789.4 1275.0 789.3 1275.5 789.3 1276.0 789.2 1276.5 789.1 1277.0 789.0 1277.5 789.0 1278.0 788.9 1278.5 788.8 1279.0 788.8 1279.5 788.7 1280.0 788.6 1280.5 788.6 1281.0 788.5 1281.5 788.4 1282.0 788.4 1282.5 788.3 1283.0 788.2 1283.5 788.1 1284.0 788.1 1284.5 788.0 1285.0 787.9 1285.5 787.9 1286.0 787.8 1286.5 787.7 1287.0 787.7 1287.5 787.6 1288.0 787.5 1288.5 787.5 1289.0 787.4 1289.5 787.3 1290.0 787.3 1290.5 787.2 1291.0 787.1 1291.5 787.1 1292.0 787.0 1292.5 786.9 1293.0 786.9 1293.5 786.8 1294.0 786.7 1294.5 786.7 1295.0 786.6 1295.5 786.5 1296.0 786.5 1296.5 786.4 1297.0 786.3 1297.5 786.3 1298.0 786.2 1298.5 786.1 1299.0 786.1 1299.5 786.0 1300.0 786.0 1300.5 785.9 1301.0 785.8 1301.5 785.8 1302.0 785.7 1302.5 785.6 1303.0 785.6 1303.5 785.5 1304.0 785.4 1304.5 785.4 1305.0 785.3 1305.5 785.3 1306.0 785.2 1306.5 785.1 1307.0 785.1 1307.5 785.0 1308.0 784.9 1308.5 784.9 1309.0 784.8 1309.5 784.8 1310.0 784.7 1310.5 784.6 1311.0 784.6 1311.5 784.5 1312.0 784.4 1312.5 784.4 1313.0 784.3 1313.5 784.3 1314.0 784.2 1314.5 784.1 1315.0 784.1 1315.5 784.0 1316.0 784.0 1316.5 783.9 1317.0 783.8 1317.5 783.8 1318.0 783.7 1318.5 783.7 1319.0 783.6 1319.5 783.6 1320.0 783.5 1320.5 783.4 1321.0 783.4 1321.5 783.3 1322.0 783.3 1322.5 783.2 1323.0 783.1 1323.5 783.1 1324.0 783.0 1324.5 783.0 1325.0 782.9 1325.5 782.9 1326.0 782.8 1326.5 782.7 1327.0 782.7 1327.5 782.6 1328.0 782.6 1328.5 782.5 1329.0 782.5 1329.5 782.4 1330.0 782.3 1330.5 782.3 1331.0 782.2 1331.5 782.2 1332.0 782.1 1332.5 782.1 1333.0 782.0 1333.5 781.9 1334.0 781.9 1334.5 781.8 1335.0 781.8 1335.5 781.7 1336.0 781.7 1336.5 781.6 1337.0 781.5 1337.5 781.5 1338.0 781.4 1338.5 781.4 1339.0 781.3 1339.5 781.3 1340.0 781.2 1340.5 781.2 1341.0 781.1 1341.5 781.0 1342.0 781.0 1342.5 780.9 1343.0 780.9 1343.5 780.8 1344.0 780.8 1344.5 780.7 1345.0 780.7 1345.5 780.6 1346.0 780.5 1346.5 780.5 1347.0 780.4 1347.5 780.4 1348.0 780.3 1348.5 780.3 1349.0 780.2 1349.5 780.2 1350.0 780.1 1350.5 780.0 1351.0 780.0 1351.5 779.9 1352.0 779.9 1352.5 779.8 1353.0 779.8 1353.5 779.7 1354.0 779.7 1354.5 779.6 1355.0 779.5 1355.5 779.5 1356.0 779.4 1356.5 779.4 1357.0 779.3 1357.5 779.3 1358.0 779.2 1358.5 779.1 1359.0 779.1 1359.5 779.0 1360.0 779.0 1360.5 778.9 1361.0 778.9 1361.5 778.8 1362.0 778.7 1362.5 778.7 1363.0 778.6 1363.5 778.6 1364.0 778.5 1364.5 778.5 1365.0 778.4 1365.5 778.3 1366.0 778.3 1366.5 778.2 1367.0 778.2 1367.5 778.1 1368.0 778.0 1368.5 778.0 1369.0 777.9 1369.5 777.9 1370.0 777.8 1370.5 777.7 1371.0 777.7 1371.5 777.6 1372.0 777.5 1372.5 777.5 1373.0 777.4 1373.5 777.4 1374.0 777.3 1374.5 777.2 1375.0 777.2 1375.5 777.1 1376.0 777.0 1376.5 777.0 1377.0 776.9 1377.5 776.8 1378.0 776.8 1378.5 776.7 1379.0 776.6 1379.5 776.6 1380.0 776.5 1380.5 776.4 1381.0 776.4 1381.5 776.3 1382.0 776.2 1382.5 776.2 1383.0 776.1 1383.5 776.0 1384.0 776.0 1384.5 775.9 1385.0 775.8 1385.5 775.7 1386.0 775.7 1386.5 775.6 1387.0 775.5 1387.5 775.5 1388.0 775.4 1388.5 775.3 1389.0 775.2 1389.5 775.2 1390.0 775.1 1390.5 775.0 1391.0 774.9 1391.5 774.9 1392.0 774.8 1392.5 774.7 1393.0 774.6 1393.5 774.5 1394.0 774.5 1394.5 774.4 1395.0 774.3 1395.5 774.2 1396.0 774.1 1396.5 774.1 1397.0 774.0 1397.5 773.9 1398.0 773.8 1398.5 773.7 1399.0 773.6 1399.5 773.6 1400.0 773.5 1400.5 773.4 1401.0 773.3 1401.5 773.2 1402.0 773.1 1402.5 773.0 1403.0 773.0 1403.5 772.9 1404.0 772.8 1404.5 772.7 1405.0 772.6 1405.5 772.5 1406.0 772.4 1406.5 772.3 1407.0 772.2 1407.5 772.1 1408.0 772.0 1408.5 772.0 1409.0 771.9 1409.5 771.8 1410.0 771.7 1410.5 771.6 1411.0 771.5 1411.5 771.4 1412.0 771.3 1412.5 771.2 1413.0 771.1 1413.5 771.0 1414.0 770.9 1414.5 770.8 1415.0 770.7 1415.5 770.6 1416.0 770.5 1416.5 770.4 1417.0 770.3 1417.5 770.2 1418.0 770.1 1418.5 770.0 1419.0 769.9 1419.5 769.8 1420.0 769.7 1420.5 769.5 1421.0 769.4 1421.5 769.3 1422.0 769.2 1422.5 769.1 1423.0 769.0 1423.5 768.9 1424.0 768.8 1424.5 768.7 1425.0 768.6 1425.5 768.5 1426.0 768.4 1426.5 768.3 1427.0 768.1 1427.5 768.0 1428.0 767.9 1428.5 767.8 1429.0 767.7 1429.5 767.6 1430.0 767.5 1430.5 767.4 1431.0 767.3 1431.5 767.1 1432.0 767.0 1432.5 766.9 1433.0 766.8 1433.5 766.7 1434.0 766.6 1434.5 766.5 1435.0 766.3 1435.5 766.2 1436.0 766.1 1436.5 766.0 1437.0 765.9 1437.5 765.8 1438.0 765.7 1438.5 765.5 1439.0 765.4 1439.5 765.3 1440.0 765.2 1440.5 765.1 1441.0 765.0 1441.5 764.8 1442.0 764.7 1442.5 764.6 1443.0 764.5 1443.5 764.4 1444.0 764.3 1444.5 764.1 1445.0 764.0 1445.5 763.9 1446.0 763.8 1446.5 763.7 1447.0 763.6 1447.5 763.4 1448.0 763.3 1448.5 763.2 1449.0 763.1 1449.5 763.0 1450.0 762.8 1450.5 762.7 1451.0 762.6 1451.5 762.5 1452.0 762.4 1452.5 762.2 1453.0 762.1 1453.5 762.0 1454.0 761.9 1454.5 761.8 1455.0 761.7 1455.5 761.5 1456.0 761.4 1456.5 761.3 1457.0 761.2 1457.5 761.0 1458.0 760.9 1458.5 760.8 1459.0 760.7 1459.5 760.6 1460.0 760.4 1460.5 760.3 1461.0 760.2 1461.5 760.1 1462.0 760.0 1462.5 759.8 1463.0 759.7 1463.5 759.6 1464.0 759.5 1464.5 759.4 1465.0 759.2 1465.5 759.1 1466.0 759.0 1466.5 758.9 1467.0 758.7 1467.5 758.6 1468.0 758.5 1468.5 758.4 1469.0 758.3 1469.5 758.1 1470.0 758.0 1470.5 757.9 1471.0 757.8 1471.5 757.6 1472.0 757.5 1472.5 757.4 1473.0 757.3 1473.5 757.2 1474.0 757.0 1474.5 756.9 1475.0 756.8 1475.5 756.7 1476.0 756.5 1476.5 756.4 1477.0 756.3 1477.5 756.2 1478.0 756.1 1478.5 755.9 1479.0 755.8 1479.5 755.7 1480.0 755.6 1480.5 755.4 1481.0 755.3 1481.5 755.2 1482.0 755.1 1482.5 755.0 1483.0 754.8 1483.5 754.7 1484.0 754.6 1484.5 754.5 1485.0 754.3 1485.5 754.2 1486.0 754.1 1486.5 754.0 1487.0 753.9 1487.5 753.7 1488.0 753.6 1488.5 753.5 1489.0 753.4 1489.5 753.2 1490.0 753.1 1490.5 753.0 1491.0 752.9 1491.5 752.8 1492.0 752.6 1492.5 752.5 1493.0 752.4 1493.5 752.3 1494.0 752.1 1494.5 752.0 1495.0 751.9 1495.5 751.8 1496.0 751.6 1496.5 751.5 1497.0 751.4 1497.5 751.3 1498.0 751.2 1498.5 751.0 1499.0 750.9 1499.5 750.8 1500.0 750.7 1500.5 750.5 1501.0 750.4" stroke="#26c226" stroke-width="3.1"/>
<path d="M121.5 1036.8L122.0 1036.8 122.5 1036.7 123.0 1036.6 123.5 1036.6 124.0 1036.5 124.5 1036.4 125.0 1036.4 125.5 1036.3 126.0 1036.2 126.5 1036.2 127.0 1036.1 127.5 1036.0 128.0 1036.0 128.5 1035.9 129.0 1035.9 129.5 1035.8 130.0 1035.7 130.5 1035.7 131.0 1035.6 131.5 1035.5 132.0 1035.5 132.5 1035.4 133.0 1035.3 133.5 1035.3 134.0 1035.2 134.5 1035.1 135.0 1035.1 135.5 1035.0 136.0 1034.9 136.5 1034.9 137.0 1034.8 137.5 1034.7 138.0 1034.7 138.5 1034.6 139.0 1034.5 139.5 1034.5 140.0 1034.4 140.5 1034.3 141.0 1034.3 141.5 1034.2 142.0 1034.1 142.5 1034.1 143.0 1034.0 143.5 1033.9 144.0 1033.9 144.5 1033.8 145.0 1033.7 145.5 1033.6 146.0 1033.6 146.5 1033.5 147.0 1033.4 147.5 1033.4 148.0 1033.3 148.5 1033.2 149.0 1033.1 149.5 1033.1 150.0 1033.0 150.5 1032.9 151.0 1032.9 151.5 1032.8 152.0 1032.7 152.5 1032.6 153.0 1032.6 153.5 1032.5 154.0 1032.4 154.5 1032.3 155.0 1032.3 155.5 1032.2 156.0 1032.1 156.5 1032.0 157.0 1032.0 157.5 1031.9 158.0 1031.8 158.5 1031.7 159.0 1031.7 159.5 1031.6 160.0 1031.5 160.5 1031.4 161.0 1031.3 161.5 1031.3 162.0 1031.2 162.5 1031.1 163.0 1031.0 163.5 1030.9 164.0 1030.9 164.5 1030.8 165.0 1030.7 165.5 1030.6 166.0 1030.5 166.5 1030.5 167.0 1030.4 167.5 1030.3 168.0 1030.2 168.5 1030.1 169.0 1030.0 169.5 1030.0 170.0 1029.9 170.5 1029.8 171.0 1029.7 171.5 1029.6 172.0 1029.5 172.5 1029.5 173.0 1029.4 173.5 1029.3 174.0 1029.2 174.5 1029.1 175.0 1029.0 175.5 1028.9 176.0 1028.9 176.5 1028.8 177.0 1028.7 177.5 1028.6 178.0 1028.5 178.5 1028.4 179.0 1028.3 179.5 1028.2 180.0 1028.2 180.5 1028.1 181.0 1028.0 181.5 1027.9 182.0 1027.8 182.5 1027.7 183.0 1027.6 183.5 1027.5 184.0 1027.4 184.5 1027.3 185.0 1027.3 185.5 1027.2 186.0 1027.1 186.5 1027.0 187.0 1026.9 187.5 1026.8 188.0 1026.7 188.5 1026.6 189.0 1026.5 189.5 1026.4 190.0 1026.3 190.5 1026.2 191.0 1026.1 191.5 1026.1 192.0 1026.0 192.5 1025.9 193.0 1025.8 193.5 1025.7 194.0 1025.6 194.5 1025.5 195.0 1025.4 195.5 1025.3 196.0 1025.2 196.5 1025.1 197.0 1025.0 197.5 1024.9 198.0 1024.8 198.5 1024.7 199.0 1024.6 199.5 1024.5 200.0 1024.4 200.5 1024.3 201.0 1024.2 201.5 1024.1 202.0 1024.0 202.5 1023.9 203.0 1023.8 203.5 1023.7 204.0 1023.6 204.5 1023.5 205.0 1023.4 205.5 1023.3 206.0 1023.2 206.5 1023.1 207.0 1023.0 207.5 1022.9 208.0 1022.8 208.5 1022.7 209.0 1022.6 209.5 1022.5 210.0 1022.4 210.5 1022.3 211.0 1022.2 211.5 1022.1 212.0 1022.0 212.5 1021.9 213.0 1021.8 213.5 1021.7 214.0 1021.6 214.5 1021.5 215.0 1021.4 215.5 1021.3 216.0 1021.2 216.5 1021.1 217.0 1021.0 217.5 1020.9 218.0 1020.8 218.5 1020.7 219.0 1020.6 219.5 1020.5 220.0 1020.4 220.5 1020.3 221.0 1020.2 221.5 1020.1 222.0 1019.9 222.5 1019.8 223.0 1019.7 223.5 1019.6 224.0 1019.5 224.5 1019.4 225.0 1019.3 225.5 1019.2 226.0 1019.1 226.5 1019.0 227.0 1018.9 227.5 1018.8 228.0 1018.7 228.5 1018.6 229.0 1018.4 229.5 1018.3 230.0 1018.2 230.5 1018.1 231.0 1018.0 231.5 1017.9 232.0 1017.8 232.5 1017.7 233.0 1017.6 233.5 1017.4 234.0 1017.3 234.5 1017.2 235.0 1017.1 235.5 1017.0 236.0 1016.9 236.5 1016.8 237.0 1016.7 237.5 1016.5 238.0 1016.4 238.5 1016.3 239.0 1016.2 239.5 1016.1 240.0 1016.0 240.5 1015.9 241.0 1015.7 241.5 1015.6 242.0 1015.5 242.5 1015.4 243.0 1015.3 243.5 1015.2 244.0 1015.0 244.5 1014.9 245.0 1014.8 245.5 1014.7 246.0 1014.6 246.5 1014.4 247.0 1014.3 247.5 1014.2 248.0 1014.1 248.5 1014.0 249.0 1013.8 249.5 1013.7 250.0 1013.6 250.5 1013.5 251.0 1013.3 251.5 1013.2 252.0 1013.1 252.5 1013.0 253.0 1012.8 253.5 1012.7 254.0 1012.6 254.5 1012.5 255.0 1012.3 255.5 1012.2 256.0 1012.1 256.5 1012.0 257.0 1011.8 257.5 1011.7 258.0 1011.6 258.5 1011.4 259.0 1011.3 259.5 1011.2 260.0 1011.0 260.5 1010.9 261.0 1010.8 261.5 1010.6 262.0 1010.5 262.5 1010.4 263.0 1010.2 263.5 1010.1 264.0 1010.0 264.5 1009.8 265.0 1009.7 265.5 1009.6 266.0 1009.4 266.5 1009.3 267.0 1009.2 267.5 1009.0 268.0 1008.9 268.5 1008.8 269.0 1008.6 269.5 1008.5 270.0 1008.3 270.5 1008.2 271.0 1008.1 271.5 1007.9 272.0 1007.8 272.5 1007.6 273.0 1007.5 273.5 1007.4 274.0 1007.2 274.5 1007.1 275.0 1006.9 275.5 1006.8 276.0 1006.7 276.5 1006.5 277.0 1006.4 277.5 1006.2 278.0 1006.1 278.5 1005.9 279.0 1005.8 279.5 1005.6 280.0 1005.5 280.5 1005.3 281.0 1005.2 281.5 1005.1 282.0 1004.9 282.5 1004.8 283.0 1004.6 283.5 1004.5 284.0 1004.3 284.5 1004.2 285.0 1004.0 285.5 1003.9 286.0 1003.7 286.5 1003.6 287.0 1003.4 287.5 1003.3 288.0 1003.1 288.5 1003.0 289.0 1002.8 289.5 1002.7 290.0 1002.5 290.5 1002.4 291.0 1002.2 291.5 1002.0 292.0 1001.9 292.5 1001.7 293.0 1001.6 293.5 1001.4 294.0 1001.3 294.5 1001.1 295.0 1001.0 295.5 1000.8 296.0 1000.7 296.5 1000.5 297.0 1000.3 297.5 1000.2 298.0 1000.0 298.5 999.9 299.0 999.7 299.5 999.6 300.0 999.4 300.5 999.2 301.0 999.1 301.5 998.9 302.0 998.8 302.5 998.6 303.0 998.4 303.5 998.3 304.0 998.1 304.5 998.0 305.0 997.8 305.5 997.6 306.0 997.5 306.5 997.3 307.0 997.2 307.5 997.0 308.0 996.8 308.5 996.7 309.0 996.5 309.5 996.4 310.0 996.2 310.5 996.0 311.0 995.9 311.5 995.7 312.0 995.6 312.5 995.4 313.0 995.2 313.5 995.1 314.0 994.9 314.5 994.7 315.0 994.6 315.5 994.4 316.0 994.3 316.5 994.1 317.0 993.9 317.5 993.8 318.0 993.6 318.5 993.4 319.0 993.3 319.5 993.1 320.0 993.0 320.5 992.8 321.0 992.6 321.5 992.5 322.0 992.3 322.5 992.1 323.0 992.0 323.5 991.8 324.0 991.6 324.5 991.5 325.0 991.3 325.5 991.2 326.0 991.0 326.5 990.8 327.0 990.7 327.5 990.5 328.0 990.3 328.5 990.2 329.0 990.0 329.5 989.8 330.0 989.7 330.5 989.5 331.0 989.4 331.5 989.2 332.0 989.0 332.5 988.9 333.0 988.7 333.5 988.5 334.0 988.4 334.5 988.2 335.0 988.0 335.5 987.9 336.0 987.7 336.5 987.6 337.0 987.4 337.5 987.2 338.0 987.1 338.5 986.9 339.0 986.7 339.5 986.6 340.0 986.4 340.5 986.2 341.0 986.1 341.5 985.9 342.0 985.8 342.5 985.6 343.0 985.4 343.5 985.3 344.0 985.1 344.5 984.9 345.0 984.8 345.5 984.6 346.0 984.4 346.5 984.3 347.0 984.1 347.5 984.0 348.0 983.8 348.5 983.6 349.0 983.5 349.5 983.3 350.0 983.1 350.5 983.0 351.0 982.8 351.5 982.7 352.0 982.5 352.5 982.3 353.0 982.2 353.5 982.0 354.0 981.8 354.5 981.7 355.0 981.5 355.5 981.3 356.0 981.2 356.5 981.0 357.0 980.9 357.5 980.7 358.0 980.5 358.5 980.4 359.0 980.2 359.5 980.1 360.0 979.9 360.5 979.7 361.0 979.6 361.5 979.4 362.0 979.2 362.5 979.1 363.0 978.9 363.5 978.8 364.0 978.6 364.5 978.4 365.0 978.3 365.5 978.1 366.0 977.9 366.5 977.8 367.0 977.6 367.5 977.5 368.0 977.3 368.5 977.1 369.0 977.0 369.5 976.8 370.0 976.7 370.5 976.5 371.0 976.3 371.5 976.2 372.0 976.0 372.5 975.9 373.0 975.7 373.5 975.5 374.0 975.4 374.5 975.2 375.0 975.0 375.5 974.9 376.0 974.7 376.5 974.6 377.0 974.4 377.5 974.2 378.0 974.1 378.5 973.9 379.0 973.8 379.5 973.6 380.0 973.4 380.5 973.3 381.0 973.1 381.5 973.0 382.0 972.8 382.5 972.6 383.0 972.5 383.5 972.3 384.0 972.2 384.5 972.0 385.0 971.8 385.5 971.7 386.0 971.5 386.5 971.4 387.0 971.2 387.5 971.0 388.0 970.9 388.5 970.7 389.0 970.6 389.5 970.4 390.0 970.2 390.5 970.1 391.0 969.9 391.5 969.7 392.0 969.6 392.5 969.4 393.0 969.3 393.5 969.1 394.0 968.9 394.5 968.8 395.0 968.6 395.5 968.5 396.0 968.3 396.5 968.1 397.0 968.0 397.5 967.8 398.0 967.7 398.5 967.5 399.0 967.3 399.5 967.2 400.0 967.0 400.5 966.9 401.0 966.7 401.5 966.5 402.0 966.4 402.5 966.2 403.0 966.1 403.5 965.9 404.0 965.8 404.5 965.6 405.0 965.4 405.5 965.3 406.0 965.1 406.5 965.0 407.0 964.8 407.5 964.7 408.0 964.5 408.5 964.3 409.0 964.2 409.5 964.0 410.0 963.9 410.5 963.7 411.0 963.6 411.5 963.4 412.0 963.3 412.5 963.1 413.0 962.9 413.5 962.8 414.0 962.6 414.5 962.5 415.0 962.3 415.5 962.2 416.0 962.0 416.5 961.9 417.0 961.7 417.5 961.6 418.0 961.4 418.5 961.3 419.0 961.1 419.5 961.0 420.0 960.8 420.5 960.7 421.0 960.5 421.5 960.4 422.0 960.2 422.5 960.1 423.0 959.9 423.5 959.8 424.0 959.7 424.5 959.5 425.0 959.4 425.5 959.2 426.0 959.1 426.5 958.9 427.0 958.8 427.5 958.7 428.0 958.5 428.5 958.4 429.0 958.2 429.5 958.1 430.0 958.0 430.5 957.8 431.0 957.7 431.5 957.5 432.0 957.4 432.5 957.3 433.0 957.1 433.5 957.0 434.0 956.9 434.5 956.7 435.0 956.6 435.5 956.5 436.0 956.3 436.5 956.2 437.0 956.1 437.5 956.0 438.0 955.8 438.5 955.7 439.0 955.6 439.5 955.5 440.0 955.3 440.5 955.2 441.0 955.1 441.5 955.0 442.0 954.8 442.5 954.7 443.0 954.6 443.5 954.5 444.0 954.4 444.5 954.2 445.0 954.1 445.5 954.0 446.0 953.9 446.5 953.8 447.0 953.7 447.5 953.5 448.0 953.4 448.5 953.3 449.0 953.2 449.5 953.1 450.0 953.0 450.5 952.9 451.0 952.8 451.5 952.7 452.0 952.5 452.5 952.4 453.0 952.3 453.5 952.2 454.0 952.1 454.5 952.0 455.0 951.9 455.5 951.8 456.0 951.7 456.5 951.6 457.0 951.5 457.5 951.4 458.0 951.3 458.5 951.2 459.0 951.1 459.5 951.0 460.0 950.9 460.5 950.8 461.0 950.7 461.5 950.6 462.0 950.5 462.5 950.5 463.0 950.4 463.5 950.3 464.0 950.2 464.5 950.1 465.0 950.0 465.5 949.9 466.0 949.8 466.5 949.8 467.0 949.7 467.5 949.6 468.0 949.5 468.5 949.4 469.0 949.3 469.5 949.3 470.0 949.2 470.5 949.1 471.0 949.0 471.5 948.9 472.0 948.9 472.5 948.8 473.0 948.7 473.5 948.6 474.0 948.6 474.5 948.5 475.0 948.4 475.5 948.3 476.0 948.3 476.5 948.2 477.0 948.1 477.5 948.1 478.0 948.0 478.5 947.9 479.0 947.9 479.5 947.8 480.0 947.7 480.5 947.7 481.0 947.6 481.5 947.6 482.0 947.5 482.5 947.4 483.0 947.4 483.5 947.3 484.0 947.2 484.5 947.2 485.0 947.1 485.5 947.1 486.0 947.0 486.5 947.0 487.0 946.9 487.5 946.9 488.0 946.8 488.5 946.8 489.0 946.7 489.5 946.6 490.0 946.6 490.5 946.5 491.0 946.5 491.5 946.5 492.0 946.4 492.5 946.4 493.0 946.3 493.5 946.3 494.0 946.2 494.5 946.2 495.0 946.1 495.5 946.1 496.0 946.0 496.5 946.0 497.0 946.0 497.5 945.9 498.0 945.9 498.5 945.8 499.0 945.8 499.5 945.8 500.0 945.7 500.5 945.7 501.0 945.7 501.5 945.6 502.0 945.6 502.5 945.6 503.0 945.5 503.5 945.5 504.0 945.5 504.5 945.4 505.0 945.4 505.5 945.4 506.0 945.3 506.5 945.3 507.0 945.3 507.5 945.3 508.0 945.2 508.5 945.2 509.0 945.2 509.5 945.2 510.0 945.1 510.5 945.1 511.0 945.1 511.5 945.1 512.0 945.0 512.5 945.0 513.0 945.0 513.5 945.0 514.0 945.0 514.5 944.9 515.0 944.9 515.5 944.9 516.0 944.9 516.5 944.9 517.0 944.9 517.5 944.8 518.0 944.8 518.5 944.8 519.0 944.8 519.5 944.8 520.0 944.8 520.5 944.8 521.0 944.7 521.5 944.7 522.0 944.7 522.5 944.7 523.0 944.7 523.5 944.7 524.0 944.7 524.5 944.7 525.0 944.7 525.5 944.7 526.0 944.6 526.5 944.6 527.0 944.6 527.5 944.6 528.0 944.6 528.5 944.6 529.0 944.6 529.5 944.6 530.0 944.6 530.5 944.6 531.0 944.6 531.5 944.6 532.0 944.6 532.5 944.6 533.0 944.6 533.5 944.6 534.0 944.6 534.5 944.6 535.0 944.6 535.5 944.6 536.0 944.6 536.5 944.6 537.0 944.6 537.5 944.6 538.0 944.6 538.5 944.6 539.0 944.6 539.5 944.6 540.0 944.6 540.5 944.6 541.0 944.6 541.5 944.6 542.0 944.7 542.5 944.7 543.0 944.7 543.5 944.7 544.0 944.7 544.5 944.7 545.0 944.7 545.5 944.7 546.0 944.7 546.5 944.7 547.0 944.7 547.5 944.7 548.0 944.8 548.5 944.8 549.0 944.8 549.5 944.8 550.0 944.8 550.5 944.8 551.0 944.8 551.5 944.8 552.0 944.9 552.5 944.9 553.0 944.9 553.5 944.9 554.0 944.9 554.5 944.9 555.0 944.9 555.5 945.0 556.0 945.0 556.5 945.0 557.0 945.0 557.5 945.0 558.0 945.0 558.5 945.1 559.0 945.1 559.5 945.1 560.0 945.1 560.5 945.1 561.0 945.2 561.5 945.2 562.0 945.2 562.5 945.2 563.0 945.2 563.5 945.3 564.0 945.3 564.5 945.3 565.0 945.3 565.5 945.4 566.0 945.4 566.5 945.4 567.0 945.4 567.5 945.5 568.0 945.5 568.5 945.5 569.0 945.5 569.5 945.6 570.0 945.6 570.5 945.6 571.0 945.6 571.5 945.7 572.0 945.7 572.5 945.7 573.0 945.7 573.5 945.8 574.0 945.8 574.5 945.8 575.0 945.9 575.5 945.9 576.0 945.9 576.5 945.9 577.0 946.0 577.5 946.0 578.0 946.0 578.5 946.1 579.0 946.1 579.5 946.1 580.0 946.2 580.5 946.2 581.0 946.2 581.5 946.3 582.0 946.3 582.5 946.3 583.0 946.4 583.5 946.4 584.0 946.4 584.5 946.5 585.0 946.5 585.5 946.5 586.0 946.6 586.5 946.6 587.0 946.7 587.5 946.7 588.0 946.7 588.5 946.8 589.0 946.8 589.5 946.8 590.0 946.9 590.5 946.9 591.0 947.0 591.5 947.0 592.0 947.0 592.5 947.1 593.0 947.1 593.5 947.2 594.0 947.2 594.5 947.3 595.0 947.3 595.5 947.3 596.0 947.4 596.5 947.4 597.0 947.5 597.5 947.5 598.0 947.6 598.5 947.6 599.0 947.6 599.5 947.7 600.0 947.7 600.5 947.8 601.0 947.8 601.5 947.9 602.0 947.9 602.5 948.0 603.0 948.0 603.5 948.1 604.0 948.1 604.5 948.2 605.0 948.2 605.5 948.3 606.0 948.3 606.5 948.4 607.0 948.4 607.5 948.5 608.0 948.5 608.5 948.6 609.0 948.6 609.5 948.7 610.0 948.7 610.5 948.8 611.0 948.8 611.5 948.9 612.0 948.9 612.5 949.0 613.0 949.1 613.5 949.1 614.0 949.2 614.5 949.2 615.0 949.3 615.5 949.3 616.0 949.4 616.5 949.5 617.0 949.5 617.5 949.6 618.0 949.6 618.5 949.7 619.0 949.7 619.5 949.8 620.0 949.9 620.5 949.9 621.0 950.0 621.5 950.0 622.0 950.1 622.5 950.2 623.0 950.2 623.5 950.3 624.0 950.3 624.5 950.4 625.0 950.5 625.5 950.5 626.0 950.6 626.5 950.7 627.0 950.7 627.5 950.8 628.0 950.9 628.5 950.9 629.0 951.0 629.5 951.0 630.0 951.1 630.5 951.2 631.0 951.2 631.5 951.3 632.0 951.4 632.5 951.4 633.0 951.5 633.5 951.6 634.0 951.6 634.5 951.7 635.0 951.8 635.5 951.8 636.0 951.9 636.5 952.0 637.0 952.0 637.5 952.1 638.0 952.2 638.5 952.3 639.0 952.3 639.5 952.4 640.0 952.5 640.5 952.5 641.0 952.6 641.5 952.7 642.0 952.7 642.5 952.8 643.0 952.9 643.5 953.0 644.0 953.0 644.5 953.1 645.0 953.2 645.5 953.2 646.0 953.3 646.5 953.4 647.0 953.4 647.5 953.5 648.0 953.6 648.5 953.7 649.0 953.7 649.5 953.8 650.0 953.9 650.5 953.9 651.0 954.0 651.5 954.1 652.0 954.2 652.5 954.2 653.0 954.3 653.5 954.4 654.0 954.4 654.5 954.5 655.0 954.6 655.5 954.7 656.0 954.7 656.5 954.8 657.0 954.9 657.5 954.9 658.0 955.0 658.5 955.1 659.0 955.2 659.5 955.2 660.0 955.3 660.5 955.4 661.0 955.4 661.5 955.5 662.0 955.6 662.5 955.6 663.0 955.7 663.5 955.8 664.0 955.9 664.5 955.9 665.0 956.0 665.5 956.1 666.0 956.1 666.5 956.2 667.0 956.3 667.5 956.4 668.0 956.4 668.5 956.5 669.0 956.6 669.5 956.6 670.0 956.7 670.5 956.8 671.0 956.8 671.5 956.9 672.0 957.0 672.5 957.1 673.0 957.1 673.5 957.2 674.0 957.3 674.5 957.3 675.0 957.4 675.5 957.5 676.0 957.5 676.5 957.6 677.0 957.7 677.5 957.8 678.0 957.8 678.5 957.9 679.0 958.0 679.5 958.0 680.0 958.1 680.5 958.2 681.0 958.2 681.5 958.3 682.0 958.4 682.5 958.5 683.0 958.5 683.5 958.6 684.0 958.7 684.5 958.7 685.0 958.8 685.5 958.9 686.0 958.9 686.5 959.0 687.0 959.1 687.5 959.1 688.0 959.2 688.5 959.3 689.0 959.4 689.5 959.4 690.0 959.5 690.5 959.6 691.0 959.6 691.5 959.7 692.0 959.8 692.5 959.8 693.0 959.9 693.5 960.0 694.0 960.0 694.5 960.1 695.0 960.2 695.5 960.3 696.0 960.3 696.5 960.4 697.0 960.5 697.5 960.5 698.0 960.6 698.5 960.7 699.0 960.7 699.5 960.8 700.0 960.9 700.5 960.9 701.0 961.0 701.5 961.1 702.0 961.1 702.5 961.2 703.0 961.3 703.5 961.3 704.0 961.4 704.5 961.5 705.0 961.6 705.5 961.6 706.0 961.7 706.5 961.8 707.0 961.8 707.5 961.9 708.0 962.0 708.5 962.0 709.0 962.1 709.5 962.2 710.0 962.2 710.5 962.3 711.0 962.4 711.5 962.4 712.0 962.5 712.5 962.6 713.0 962.6 713.5 962.7 714.0 962.8 714.5 962.8 715.0 962.9 715.5 963.0 716.0 963.0 716.5 963.1 717.0 963.2 717.5 963.2 718.0 963.3 718.5 963.4 719.0 963.4 719.5 963.5 720.0 963.6 720.5 963.6 721.0 963.7 721.5 963.8 722.0 963.8 722.5 963.9 723.0 963.9 723.5 964.0 724.0 964.1 724.5 964.1 725.0 964.2 725.5 964.3 726.0 964.3 726.5 964.4 727.0 964.5 727.5 964.5 728.0 964.6 728.5 964.7 729.0 964.7 729.5 964.8 730.0 964.8 730.5 964.9 731.0 965.0 731.5 965.0 732.0 965.1 732.5 965.2 733.0 965.2 733.5 965.3 734.0 965.4 734.5 965.4 735.0 965.5 735.5 965.5 736.0 965.6 736.5 965.7 737.0 965.7 737.5 965.8 738.0 965.8 738.5 965.9 739.0 966.0 739.5 966.0 740.0 966.1 740.5 966.1 741.0 966.2 741.5 966.3 742.0 966.3 742.5 966.4 743.0 966.4 743.5 966.5 744.0 966.6 744.5 966.6 745.0 966.7 745.5 966.7 746.0 966.8 746.5 966.9 747.0 966.9 747.5 967.0 748.0 967.0 748.5 967.1 749.0 967.2 749.5 967.2 750.0 967.3 750.5 967.3 751.0 967.4 751.5 967.4 752.0 967.5 752.5 967.6 753.0 967.6 753.5 967.7 754.0 967.7 754.5 967.8 755.0 967.8 755.5 967.9 756.0 968.0 756.5 968.0 757.0 968.1 757.5 968.1 758.0 968.2 758.5 968.2 759.0 968.3 759.5 968.3 760.0 968.4 760.5 968.4 761.0 968.5 761.5 968.6 762.0 968.6 762.5 968.7 763.0 968.7 763.5 968.8 764.0 968.8 764.5 968.9 765.0 968.9 765.5 969.0 766.0 969.0 766.5 969.1 767.0 969.1 767.5 969.2 768.0 969.2 768.5 969.3 769.0 969.4 769.5 969.4 770.0 969.5 770.5 969.5 771.0 969.6 771.5 969.6 772.0 969.7 772.5 969.7 773.0 969.8 773.5 969.8 774.0 969.9 774.5 969.9 775.0 970.0 775.5 970.0 776.0 970.1 776.5 970.1 777.0 970.2 777.5 970.2 778.0 970.3 778.5 970.3 779.0 970.4 779.5 970.4 780.0 970.5 780.5 970.5 781.0 970.6 781.5 970.6 782.0 970.6 782.5 970.7 783.0 970.7 783.5 970.8 784.0 970.8 784.5 970.9 785.0 970.9 785.5 971.0 786.0 971.0 786.5 971.1 787.0 971.1 787.5 971.2 788.0 971.2 788.5 971.3 789.0 971.3 789.5 971.3 790.0 971.4 790.5 971.4 791.0 971.5 791.5 971.5 792.0 971.6 792.5 971.6 793.0 971.7 793.5 971.7 794.0 971.8 794.5 971.8 795.0 971.8 795.5 971.9 796.0 971.9 796.5 972.0 797.0 972.0 797.5 972.1 798.0 972.1 798.5 972.2 799.0 972.2 799.5 972.2 800.0 972.3 800.5 972.3 801.0 972.4 801.5 972.4 802.0 972.5 802.5 972.5 803.0 972.5 803.5 972.6 804.0 972.6 804.5 972.7 805.0 972.7 805.5 972.8 806.0 972.8 806.5 972.8 807.0 972.9 807.5 972.9 808.0 973.0 808.5 973.0 809.0 973.0 809.5 973.1 810.0 973.1 810.5 973.2 811.0 973.2 811.5 973.3 812.0 973.3 812.5 973.3 813.0 973.4 813.5 973.4 814.0 973.5 814.5 973.5 815.0 973.5 815.5 973.6 816.0 973.6 816.5 973.7 817.0 973.7 817.5 973.7 818.0 973.8 818.5 973.8 819.0 973.9 819.5 973.9 820.0 973.9 820.5 974.0 821.0 974.0 821.5 974.1 822.0 974.1 822.5 974.1 823.0 974.2 823.5 974.2 824.0 974.2 824.5 974.3 825.0 974.3 825.5 974.4 826.0 974.4 826.5 974.4 827.0 974.5 827.5 974.5 828.0 974.6 828.5 974.6 829.0 974.6 829.5 974.7 830.0 974.7 830.5 974.7 831.0 974.8 831.5 974.8 832.0 974.9 832.5 974.9 833.0 974.9 833.5 975.0 834.0 975.0 834.5 975.0 835.0 975.1 835.5 975.1 836.0 975.2 836.5 975.2 837.0 975.2 837.5 975.3 838.0 975.3 838.5 975.3 839.0 975.4 839.5 975.4 840.0 975.4 840.5 975.5 841.0 975.5 841.5 975.5 842.0 975.6 842.5 975.6 843.0 975.6 843.5 975.7 844.0 975.7 844.5 975.8 845.0 975.8 845.5 975.8 846.0 975.9 846.5 975.9 847.0 975.9 847.5 976.0 848.0 976.0 848.5 976.0 849.0 976.1 849.5 976.1 850.0 976.1 850.5 976.2 851.0 976.2 851.5 976.2 852.0 976.3 852.5 976.3 853.0 976.3 853.5 976.4 854.0 976.4 854.5 976.4 855.0 976.4 855.5 976.5 856.0 976.5 856.5 976.5 857.0 976.6 857.5 976.6 858.0 976.6 858.5 976.7 859.0 976.7 859.5 976.7 860.0 976.8 860.5 976.8 861.0 976.8 861.5 976.9 862.0 976.9 862.5 976.9 863.0 976.9 863.5 977.0 864.0 977.0 864.5 977.0 865.0 977.1 865.5 977.1 866.0 977.1 866.5 977.1 867.0 977.2 867.5 977.2 868.0 977.2 868.5 977.3 869.0 977.3 869.5 977.3 870.0 977.3 870.5 977.4 871.0 977.4 871.5 977.4 872.0 977.5 872.5 977.5 873.0 977.5 873.5 977.5 874.0 977.6 874.5 977.6 875.0 977.6 875.5 977.7 876.0 977.7 876.5 977.7 877.0 977.7 877.5 977.8 878.0 977.8 878.5 977.8 879.0 977.8 879.5 977.9 880.0 977.9 880.5 977.9 881.0 977.9 881.5 978.0 882.0 978.0 882.5 978.0 883.0 978.1 883.5 978.1 884.0 978.1 884.5 978.1 885.0 978.2 885.5 978.2 886.0 978.2 886.5 978.2 887.0 978.3 887.5 978.3 888.0 978.3 888.5 978.3 889.0 978.4 889.5 978.4 890.0 978.4 890.5 978.4 891.0 978.5 891.5 978.5 892.0 978.5 892.5 978.5 893.0 978.6 893.5 978.6 894.0 978.6 894.5 978.6 895.0 978.7 895.5 978.7 896.0 978.7 896.5 978.7 897.0 978.7 897.5 978.8 898.0 978.8 898.5 978.8 899.0 978.8 899.5 978.9 900.0 978.9 900.5 978.9 901.0 978.9 901.5 979.0 902.0 979.0 902.5 979.0 903.0 979.0 903.5 979.1 904.0 979.1 904.5 979.1 905.0 979.1 905.5 979.1 906.0 979.2 906.5 979.2 907.0 979.2 907.5 979.2 908.0 979.3 908.5 979.3 909.0 979.3 909.5 979.3 910.0 979.3 910.5 979.4 911.0 979.4 911.5 979.4 912.0 979.4 912.5 979.5 913.0 979.5 913.5 979.5 914.0 979.5 914.5 979.5 915.0 979.6 915.5 979.6 916.0 979.6 916.5 979.6 917.0 979.7 917.5 979.7 918.0 979.7 918.5 979.7 919.0 979.7 919.5 979.8 920.0 979.8 920.5 979.8 921.0 979.8 921.5 979.9 922.0 979.9 922.5 979.9 923.0 979.9 923.5 979.9 924.0 980.0 924.5 980.0 925.0 980.0 925.5 980.0 926.0 980.1 926.5 980.1 927.0 980.1 927.5 980.1 928.0 980.1 928.5 980.2 929.0 980.2 929.5 980.2 930.0 980.2 930.5 980.2 931.0 980.3 931.5 980.3 932.0 980.3 932.5 980.3 933.0 980.3 933.5 980.4 934.0 980.4 934.5 980.4 935.0 980.4 935.5 980.4 936.0 980.5 936.5 980.5 937.0 980.5 937.5 980.5 938.0 980.5 938.5 980.6 939.0 980.6 939.5 980.6 940.0 980.6 940.5 980.6 941.0 980.7 941.5 980.7 942.0 980.7 942.5 980.7 943.0 980.7 943.5 980.7 944.0 980.7 944.5 980.8 945.0 980.8 945.5 980.8 946.0 980.8 946.5 980.8 947.0 980.8 947.5 980.8 948.0 980.9 948.5 980.9 949.0 980.9 949.5 980.9 950.0 980.9 950.5 980.9 951.0 980.9 951.5 980.9 952.0 981.0 952.5 981.0 953.0 981.0 953.5 981.0 954.0 981.0 954.5 981.0 955.0 981.0 955.5 981.0 956.0 981.0 956.5 981.0 957.0 981.0 957.5 981.0 958.0 981.1 958.5 981.1 959.0 981.1 959.5 981.1 960.0 981.1 960.5 981.1 961.0 981.1 961.5 981.1 962.0 981.1 962.5 981.1 963.0 981.1 963.5 981.1 964.0 981.1 964.5 981.1 965.0 981.1 965.5 981.1 966.0 981.1 966.5 981.1 967.0 981.1 967.5 981.1 968.0 981.1 968.5 981.1 969.0 981.1 969.5 981.2 970.0 981.2 970.5 981.2 971.0 981.2 971.5 981.2 972.0 981.2 972.5 981.2 973.0 981.2 973.5 981.2 974.0 981.2 974.5 981.2 975.0 981.2 975.5 981.2 976.0 981.2 976.5 981.2 977.0 981.2 977.5 981.2 978.0 981.2 978.5 981.2 979.0 981.2 979.5 981.2 980.0 981.2 980.5 981.2 981.0 981.2 981.5 981.2 982.0 981.2 982.5 981.2 983.0 981.2 983.5 981.2 984.0 981.2 984.5 981.2 985.0 981.2 985.5 981.2 986.0 981.2 986.5 981.2 987.0 981.2 987.5 981.2 988.0 981.1 988.5 981.1 989.0 981.1 989.5 981.1 990.0 981.1 990.5 981.1 991.0 981.1 991.5 981.1 992.0 981.1 992.5 981.1 993.0 981.1 993.5 981.1 994.0 981.1 994.5 981.1 995.0 981.1 995.5 981.1 996.0 981.1 996.5 981.1 997.0 981.1 997.5 981.1 998.0 981.1 998.5 981.1 999.0 981.1 999.5 981.1 1000.0 981.1 1000.5 981.1 1001.0 981.1 1001.5 981.1 1002.0 981.1 1002.5 981.1 1003.0 981.1 1003.5 981.1 1004.0 981.1 1004.5 981.1 1005.0 981.1 1005.5 981.1 1006.0 981.1 1006.5 981.1 1007.0 981.1 1007.5 981.1 1008.0 981.1 1008.5 981.1 1009.0 981.1 1009.5 981.1 1010.0 981.1 1010.5 981.1 1011.0 981.1 1011.5 981.1 1012.0 981.1 1012.5 981.1 1013.0 981.1 1013.5 981.1 1014.0 981.1 1014.5 981.1 1015.0 981.1 1015.5 981.1 1016.0 981.1 1016.5 981.1 1017.0 981.1 1017.5 981.1 1018.0 981.1 1018.5 981.1 1019.0 981.1 1019.5 981.1 1020.0 981.1 1020.5 981.1 1021.0 981.1 1021.5 981.1 1022.0 981.1 1022.5 981.1 1023.0 981.1 1023.5 981.1 1024.0 981.0 1024.5 981.0 1025.0 981.0 1025.5 981.0 1026.0 981.0 1026.5 981.0 1027.0 981.0 1027.5 981.0 1028.0 981.0 1028.5 981.0 1029.0 981.0 1029.5 981.0 1030.0 981.0 1030.5 981.0 1031.0 981.0 1031.5 981.0 1032.0 981.0 1032.5 981.0 1033.0 981.0 1033.5 981.0 1034.0 981.0 1034.5 981.0 1035.0 981.0 1035.5 981.0 1036.0 981.0 1036.5 981.0 1037.0 981.0 1037.5 981.0 1038.0 981.0 1038.5 981.0 1039.0 981.0 1039.5 981.0 1040.0 981.0 1040.5 981.0 1041.0 981.0 1041.5 981.0 1042.0 981.0 1042.5 981.0 1043.0 981.0 1043.5 981.0 1044.0 981.0 1044.5 981.0 1045.0 981.0 1045.5 981.0 1046.0 981.0 1046.5 981.0 1047.0 981.0 1047.5 981.0 1048.0 981.0 1048.5 981.0 1049.0 981.0 1049.5 981.0 1050.0 981.0 1050.5 981.0 1051.0 981.0 1051.5 981.0 1052.0 981.0 1052.5 981.0 1053.0 981.0 1053.5 981.0 1054.0 981.0 1054.5 981.0 1055.0 981.0 1055.5 981.0 1056.0 981.0 1056.5 981.0 1057.0 981.0 1057.5 981.0 1058.0 981.0 1058.5 981.0 1059.0 981.0 1059.5 981.0 1060.0 981.0 1060.5 981.0 1061.0 981.0 1061.5 981.0 1062.0 981.0 1062.5 981.0 1063.0 981.0 1063.5 981.0 1064.0 981.0 1064.5 981.0 1065.0 981.0 1065.5 981.0 1066.0 981.0 1066.5 981.0 1067.0 981.0 1067.5 981.0 1068.0 981.0 1068.5 981.0 1069.0 981.0 1069.5 981.0 1070.0 981.0 1070.5 981.0 1071.0 981.0 1071.5 981.0 1072.0 981.0 1072.5 981.0 1073.0 981.0 1073.5 981.0 1074.0 981.0 1074.5 981.0 1075.0 981.0 1075.5 981.0 1076.0 981.0 1076.5 981.0 1077.0 981.0 1077.5 981.0 1078.0 981.0 1078.5 981.0 1079.0 981.0 1079.5 981.0 1080.0 981.0 1080.5 981.0 1081.0 981.0 1081.5 981.0 1082.0 981.0 1082.5 981.0 1083.0 981.0 1083.5 981.0 1084.0 981.0 1084.5 981.0 1085.0 981.0 1085.5 981.0 1086.0 981.0 1086.5 981.0 1087.0 981.0 1087.5 981.0 1088.0 981.0 1088.5 981.0 1089.0 981.0 1089.5 981.0 1090.0 981.0 1090.5 981.0 1091.0 981.0 1091.5 981.0 1092.0 981.0 1092.5 981.0 1093.0 981.0 1093.5 981.0 1094.0 981.0 1094.5 981.0 1095.0 981.0 1095.5 981.0 1096.0 981.0 1096.5 981.0 1097.0 981.0 1097.5 981.0 1098.0 981.0 1098.5 981.0 1099.0 981.0 1099.5 981.0 1100.0 981.0 1100.5 981.0 1101.0 981.0 1101.5 981.0 1102.0 981.0 1102.5 981.0 1103.0 981.0 1103.5 981.0 1104.0 981.0 1104.5 981.0 1105.0 981.0 1105.5 981.0 1106.0 981.0 1106.5 981.0 1107.0 981.0 1107.5 981.0 1108.0 981.0 1108.5 981.0 1109.0 981.0 1109.5 981.0 1110.0 981.0 1110.5 981.0 1111.0 981.0 1111.5 981.0 1112.0 981.0 1112.5 981.0 1113.0 981.0 1113.5 981.0 1114.0 981.0 1114.5 981.0 1115.0 981.0 1115.5 981.0 1116.0 981.0 1116.5 981.0 1117.0 981.0 1117.5 981.0 1118.0 981.0 1118.5 981.0 1119.0 981.0 1119.5 981.0 1120.0 981.0 1120.5 981.0 1121.0 981.0 1121.5 981.0 1122.0 981.0 1122.5 981.0 1123.0 981.0 1123.5 981.0 1124.0 981.0 1124.5 981.0 1125.0 981.0 1125.5 981.0 1126.0 981.0 1126.5 981.0 1127.0 981.0 1127.5 981.0 1128.0 981.0 1128.5 981.0 1129.0 981.0 1129.5 981.0 1130.0 981.0 1130.5 981.0 1131.0 981.0 1131.5 981.0 1132.0 981.0 1132.5 981.0 1133.0 981.0 1133.5 981.0 1134.0 981.0 1134.5 981.0 1135.0 981.0 1135.5 981.0 1136.0 981.0 1136.5 981.0 1137.0 981.0 1137.5 981.0 1138.0 981.0 1138.5 981.0 1139.0 981.0 1139.5 981.0 1140.0 981.0 1140.5 981.0 1141.0 981.0 1141.5 981.0 1142.0 981.0 1142.5 981.0 1143.0 981.0 1143.5 981.0 1144.0 981.0 1144.5 981.0 1145.0 981.0 1145.5 981.0 1146.0 981.0 1146.5 981.0 1147.0 981.0 1147.5 981.0 1148.0 981.0 1148.5 981.0 1149.0 981.0 1149.5 981.0 1150.0 981.0 1150.5 981.0 1151.0 981.0 1151.5 981.0 1152.0 981.0 1152.5 981.0 1153.0 981.0 1153.5 981.0 1154.0 981.0 1154.5 981.0 1155.0 981.0 1155.5 981.0 1156.0 981.0 1156.5 981.0 1157.0 981.0 1157.5 981.0 1158.0 981.0 1158.5 981.0 1159.0 981.0 1159.5 981.0 1160.0 981.0 1160.5 981.0 1161.0 981.0 1161.5 981.0 1162.0 981.0 1162.5 981.0 1163.0 981.0 1163.5 981.0 1164.0 981.0 1164.5 981.0 1165.0 981.0 1165.5 981.0 1166.0 981.0 1166.5 981.0 1167.0 981.0 1167.5 981.0 1168.0 981.0 1168.5 981.0 1169.0 981.0 1169.5 981.0 1170.0 981.0 1170.5 981.0 1171.0 981.0 1171.5 981.0 1172.0 981.0 1172.5 981.0 1173.0 981.0 1173.5 981.0 1174.0 981.0 1174.5 981.0 1175.0 981.0 1175.5 981.0 1176.0 981.0 1176.5 981.0 1177.0 981.0 1177.5 981.0 1178.0 981.0 1178.5 981.0 1179.0 981.0 1179.5 981.0 1180.0 981.0 1180.5 981.0 1181.0 981.0 1181.5 981.0 1182.0 981.0 1182.5 981.0 1183.0 981.0 1183.5 981.0 1184.0 981.0 1184.5 981.0 1185.0 981.0 1185.5 981.0 1186.0 981.0 1186.5 981.0 1187.0 981.0 1187.5 981.0 1188.0 981.0 1188.5 981.0 1189.0 981.0 1189.5 981.0 1190.0 981.0 1190.5 981.0 1191.0 981.0 1191.5 981.0 1192.0 981.0 1192.5 981.0 1193.0 981.0 1193.5 981.0 1194.0 981.0 1194.5 981.0 1195.0 981.0 1195.5 981.0 1196.0 981.0 1196.5 981.0 1197.0 981.0 1197.5 981.0 1198.0 981.0 1198.5 981.0 1199.0 981.0 1199.5 981.0 1200.0 980.9 1200.5 980.9 1201.0 980.9 1201.5 980.9 1202.0 980.9 1202.5 980.9 1203.0 980.9 1203.5 980.9 1204.0 980.9 1204.5 980.9 1205.0 980.9 1205.5 980.9 1206.0 980.9 1206.5 980.9 1207.0 980.9 1207.5 980.9 1208.0 980.9 1208.5 980.9 1209.0 980.9 1209.5 980.9 1210.0 980.9 1210.5 980.9 1211.0 980.9 1211.5 980.9 1212.0 980.9 1212.5 980.9 1213.0 980.9 1213.5 980.9 1214.0 980.9 1214.5 980.9 1215.0 980.9 1215.5 980.8 1216.0 980.8 1216.5 980.8 1217.0 980.8 1217.5 980.8 1218.0 980.8 1218.5 980.8 1219.0 980.8 1219.5 980.8 1220.0 980.8 1220.5 980.8 1221.0 980.8 1221.5 980.8 1222.0 980.8 1222.5 980.8 1223.0 980.8 1223.5 980.8 1224.0 980.8 1224.5 980.8 1225.0 980.8 1225.5 980.8 1226.0 980.8 1226.5 980.7 1227.0 980.7 1227.5 980.7 1228.0 980.7 1228.5 980.7 1229.0 980.7 1229.5 980.7 1230.0 980.7 1230.5 980.7 1231.0 980.7 1231.5 980.7 1232.0 980.7 1232.5 980.7 1233.0 980.7 1233.5 980.7 1234.0 980.7 1234.5 980.7 1235.0 980.7 1235.5 980.7 1236.0 980.7 1236.5 980.7 1237.0 980.7 1237.5 980.7 1238.0 980.7 1238.5 980.7 1239.0 980.6 1239.5 980.6 1240.0 980.6 1240.5 980.6 1241.0 980.6 1241.5 980.6 1242.0 980.6 1242.5 980.6 1243.0 980.6 1243.5 980.6 1244.0 980.6 1244.5 980.6 1245.0 980.6 1245.5 980.6 1246.0 980.6 1246.5 980.6 1247.0 980.6 1247.5 980.6 1248.0 980.6 1248.5 980.6 1249.0 980.6 1249.5 980.6 1250.0 980.6 1250.5 980.6 1251.0 980.6 1251.5 980.6 1252.0 980.6 1252.5 980.6 1253.0 980.6 1253.5 980.6 1254.0 980.6 1254.5 980.6 1255.0 980.6 1255.5 980.6 1256.0 980.6 1256.5 980.6 1257.0 980.6 1257.5 980.6 1258.0 980.6 1258.5 980.6 1259.0 980.6 1259.5 980.6 1260.0 980.6 1260.5 980.6 1261.0 980.6 1261.5 980.6 1262.0 980.6 1262.5 980.6 1263.0 980.6 1263.5 980.6 1264.0 980.5 1264.5 980.5 1265.0 980.5 1265.5 980.5 1266.0 980.5 1266.5 980.5 1267.0 980.4 1267.5 980.4 1268.0 980.4 1268.5 980.4 1269.0 980.3 1269.5 980.3 1270.0 980.3 1270.5 980.2 1271.0 980.2 1271.5 980.2 1272.0 980.1 1272.5 980.1 1273.0 980.0 1273.5 980.0 1274.0 980.0 1274.5 979.9 1275.0 979.9 1275.5 979.8 1276.0 979.7 1276.5 979.7 1277.0 979.6 1277.5 979.6 1278.0 979.5 1278.5 979.4 1279.0 979.3 1279.5 979.3 1280.0 979.2 1280.5 979.1 1281.0 979.0 1281.5 979.0 1282.0 978.9 1282.5 978.8 1283.0 978.7 1283.5 978.6 1284.0 978.5 1284.5 978.4 1285.0 978.3 1285.5 978.2 1286.0 978.1 1286.5 978.0 1287.0 977.9 1287.5 977.8 1288.0 977.7 1288.5 977.6 1289.0 977.5 1289.5 977.4 1290.0 977.3 1290.5 977.2 1291.0 977.1 1291.5 977.0 1292.0 976.8 1292.5 976.7 1293.0 976.6 1293.5 976.5 1294.0 976.4 1294.5 976.3 1295.0 976.1 1295.5 976.0 1296.0 975.9 1296.5 975.8 1297.0 975.7 1297.5 975.6 1298.0 975.5 1298.5 975.3 1299.0 975.2 1299.5 975.1 1300.0 975.0 1300.5 974.9 1301.0 974.8 1301.5 974.6 1302.0 974.5 1302.5 974.4 1303.0 974.3 1303.5 974.2 1304.0 974.1 1304.5 974.0 1305.0 973.9 1305.5 973.8 1306.0 973.7 1306.5 973.6 1307.0 973.4 1307.5 973.3 1308.0 973.2 1308.5 973.1 1309.0 973.0 1309.5 972.9 1310.0 972.8 1310.5 972.7 1311.0 972.6 1311.5 972.5 1312.0 972.4 1312.5 972.3 1313.0 972.2 1313.5 972.1 1314.0 972.0 1314.5 971.9 1315.0 971.8 1315.5 971.8 1316.0 971.7 1316.5 971.6 1317.0 971.5 1317.5 971.4 1318.0 971.3 1318.5 971.2 1319.0 971.1 1319.5 971.0 1320.0 970.9 1320.5 970.8 1321.0 970.7 1321.5 970.7 1322.0 970.6 1322.5 970.5 1323.0 970.4 1323.5 970.3 1324.0 970.2 1324.5 970.1 1325.0 970.1 1325.5 970.0 1326.0 969.9 1326.5 969.8 1327.0 969.7 1327.5 969.6 1328.0 969.6 1328.5 969.5 1329.0 969.4 1329.5 969.3 1330.0 969.2 1330.5 969.2 1331.0 969.1 1331.5 969.0 1332.0 968.9 1332.5 968.8 1333.0 968.8 1333.5 968.7 1334.0 968.6 1334.5 968.5 1335.0 968.5 1335.5 968.4 1336.0 968.3 1336.5 968.2 1337.0 968.2 1337.5 968.1 1338.0 968.0 1338.5 967.9 1339.0 967.9 1339.5 967.8 1340.0 967.7 1340.5 967.6 1341.0 967.6 1341.5 967.5 1342.0 967.4 1342.5 967.4 1343.0 967.3 1343.5 967.2 1344.0 967.1 1344.5 967.1 1345.0 967.0 1345.5 966.9 1346.0 966.9 1346.5 966.8 1347.0 966.7 1347.5 966.7 1348.0 966.6 1348.5 966.5 1349.0 966.4 1349.5 966.4 1350.0 966.3 1350.5 966.2 1351.0 966.2 1351.5 966.1 1352.0 966.0 1352.5 966.0 1353.0 965.9 1353.5 965.8 1354.0 965.8 1354.5 965.7 1355.0 965.7 1355.5 965.6 1356.0 965.5 1356.5 965.5 1357.0 965.4 1357.5 965.3 1358.0 965.3 1358.5 965.2 1359.0 965.1 1359.5 965.1 1360.0 965.0 1360.5 964.9 1361.0 964.9 1361.5 964.8 1362.0 964.8 1362.5 964.7 1363.0 964.6 1363.5 964.6 1364.0 964.5 1364.5 964.4 1365.0 964.4 1365.5 964.3 1366.0 964.3 1366.5 964.2 1367.0 964.1 1367.5 964.1 1368.0 964.0 1368.5 964.0 1369.0 963.9 1369.5 963.8 1370.0 963.8 1370.5 963.7 1371.0 963.7 1371.5 963.6 1372.0 963.5 1372.5 963.5 1373.0 963.4 1373.5 963.3 1374.0 963.3 1374.5 963.2 1375.0 963.2 1375.5 963.1 1376.0 963.0 1376.5 963.0 1377.0 962.9 1377.5 962.9 1378.0 962.8 1378.5 962.7 1379.0 962.7 1379.5 962.6 1380.0 962.6 1380.5 962.5 1381.0 962.4 1381.5 962.4 1382.0 962.3 1382.5 962.3 1383.0 962.2 1383.5 962.1 1384.0 962.1 1384.5 962.0 1385.0 962.0 1385.5 961.9 1386.0 961.9 1386.5 961.8 1387.0 961.7 1387.5 961.7 1388.0 961.6 1388.5 961.6 1389.0 961.5 1389.5 961.4 1390.0 961.4 1390.5 961.3 1391.0 961.3 1391.5 961.2 1392.0 961.1 1392.5 961.1 1393.0 961.0 1393.5 961.0 1394.0 960.9 1394.5 960.8 1395.0 960.8 1395.5 960.7 1396.0 960.7 1396.5 960.6 1397.0 960.5 1397.5 960.5 1398.0 960.4 1398.5 960.4 1399.0 960.3 1399.5 960.3 1400.0 960.2 1400.5 960.1 1401.0 960.1 1401.5 960.0 1402.0 960.0 1402.5 959.9 1403.0 959.8 1403.5 959.8 1404.0 959.7 1404.5 959.7 1405.0 959.6 1405.5 959.6 1406.0 959.5 1406.5 959.4 1407.0 959.4 1407.5 959.3 1408.0 959.3 1408.5 959.2 1409.0 959.2 1409.5 959.1 1410.0 959.0 1410.5 959.0 1411.0 958.9 1411.5 958.9 1412.0 958.8 1412.5 958.8 1413.0 958.7 1413.5 958.7 1414.0 958.6 1414.5 958.5 1415.0 958.5 1415.5 958.4 1416.0 958.4 1416.5 958.3 1417.0 958.3 1417.5 958.2 1418.0 958.2 1418.5 958.1 1419.0 958.1 1419.5 958.0 1420.0 957.9 1420.5 957.9 1421.0 957.8 1421.5 957.8 1422.0 957.7 1422.5 957.7 1423.0 957.6 1423.5 957.6 1424.0 957.5 1424.5 957.5 1425.0 957.4 1425.5 957.4 1426.0 957.3 1426.5 957.3 1427.0 957.2 1427.5 957.2 1428.0 957.1 1428.5 957.1 1429.0 957.0 1429.5 957.0 1430.0 956.9 1430.5 956.9 1431.0 956.8 1431.5 956.8 1432.0 956.7 1432.5 956.7 1433.0 956.6 1433.5 956.6 1434.0 956.5 1434.5 956.5 1435.0 956.4 1435.5 956.4 1436.0 956.3 1436.5 956.3 1437.0 956.2 1437.5 956.2 1438.0 956.1 1438.5 956.1 1439.0 956.0 1439.5 956.0 1440.0 955.9 1440.5 955.9 1441.0 955.9 1441.5 955.8 1442.0 955.8 1442.5 955.7 1443.0 955.7 1443.5 955.6 1444.0 955.6 1444.5 955.5 1445.0 955.5 1445.5 955.4 1446.0 955.4 1446.5 955.3 1447.0 955.3 1447.5 955.2 1448.0 955.2 1448.5 955.2 1449.0 955.1 1449.5 955.1 1450.0 955.0 1450.5 955.0 1451.0 954.9 1451.5 954.9 1452.0 954.8 1452.5 954.8 1453.0 954.7 1453.5 954.7 1454.0 954.7 1454.5 954.6 1455.0 954.6 1455.5 954.5 1456.0 954.5 1456.5 954.4 1457.0 954.4 1457.5 954.3 1458.0 954.3 1458.5 954.2 1459.0 954.2 1459.5 954.2 1460.0 954.1 1460.5 954.1 1461.0 954.0 1461.5 954.0 1462.0 953.9 1462.5 953.9 1463.0 953.8 1463.5 953.8 1464.0 953.7 1464.5 953.7 1465.0 953.7 1465.5 953.6 1466.0 953.6 1466.5 953.5 1467.0 953.5 1467.5 953.4 1468.0 953.4 1468.5 953.3 1469.0 953.3 1469.5 953.2 1470.0 953.2 1470.5 953.2 1471.0 953.1 1471.5 953.1 1472.0 953.0 1472.5 953.0 1473.0 952.9 1473.5 952.9 1474.0 952.8 1474.5 952.8 1475.0 952.7 1475.5 952.7 1476.0 952.6 1476.5 952.6 1477.0 952.6 1477.5 952.5 1478.0 952.5 1478.5 952.4 1479.0 952.4 1479.5 952.3 1480.0 952.3 1480.5 952.2 1481.0 952.2 1481.5 952.1 1482.0 952.1 1482.5 952.0 1483.0 952.0 1483.5 951.9 1484.0 951.9 1484.5 951.9 1485.0 951.8 1485.5 951.8 1486.0 951.7 1486.5 951.7 1487.0 951.6 1487.5 951.6 1488.0 951.5 1488.5 951.5 1489.0 951.4 1489.5 951.4 1490.0 951.3 1490.5 951.3 1491.0 951.3 1491.5 951.2 1492.0 951.2 1492.5 951.1 1493.0 951.1 1493.5 951.0 1494.0 951.0 1494.5 950.9 1495.0 950.9 1495.5 950.8 1496.0 950.8 1496.5 950.7 1497.0 950.7 1497.5 950.6 1498.0 950.6 1498.5 950.6 1499.0 950.5 1499.5 950.5 1500.0 950.4 1500.5 950.4 1501.0 950.3" stroke="#1a1a78" stroke-width="2.9"/>
</g>
<!-- frame -->
<rect x="119" y="30" width="1387" height="3" fill="#9a9a9a"/>
<rect x="119" y="33" width="1384" height="3" fill="#333"/>
<rect x="119" y="33" width="3" height="1105" fill="#000"/>
<rect x="1500" y="33" width="3" height="1105" fill="#3c3c3c"/>
<rect x="1503" y="30" width="3" height="1108" fill="#949494"/>
<rect x="119" y="1135" width="1387" height="3" fill="#000"/>
<rect x="119" y="1139" width="1387" height="2" fill="#e6e6e6"/>
<rect x="427.0" y="1117" width="3" height="18" fill="#1a1a1a"/><rect x="734.0" y="1117" width="3" height="18" fill="#1a1a1a"/><rect x="1041.0" y="1117" width="3" height="18" fill="#1a1a1a"/><rect x="1348.0" y="1117" width="3" height="18" fill="#1a1a1a"/><rect x="273.5" y="1126" width="3" height="9" fill="#1a1a1a"/><rect x="580.5" y="1126" width="3" height="9" fill="#1a1a1a"/><rect x="887.5" y="1126" width="3" height="9" fill="#1a1a1a"/><rect x="1194.5" y="1126" width="3" height="9" fill="#1a1a1a"/>
<!-- legend -->
<rect x="1168" y="59.5" width="101" height="3.5" fill="#111"/>
<rect x="1168" y="113" width="101" height="3.5" fill="#7a2a2a"/>
<rect x="1168" y="166.5" width="101" height="3.5" fill="#2ec82e"/>
<rect x="1168" y="220" width="101" height="3.5" fill="#555566"/>
<g font-size="43">
<text x="1278" y="72.5">CYS</text>
<text x="1278" y="126">CYS(I)</text>
<text x="1278" y="179.5">CYS(II)</text>
<text x="1278" y="233">CYS-TPC</text>
</g>
<!-- enthalpy labels -->
<g font-size="43">
<text transform="translate(1118.3 429.5) scale(1.13 1)" font-size="38">&#916;</text><text x="1148.6" y="429.5">H=15.47J/g</text>
<text transform="translate(1127.5 662) scale(1.13 1)" font-size="38">&#916;</text><text x="1157.7" y="662">H=13.69J/g</text>
<text transform="translate(1125.7 869.5) scale(1.13 1)" font-size="38">&#916;</text><text x="1153.1" y="869.5">H=4.37J/g</text>
<text transform="translate(1123.8 1029.5) scale(1.13 1)" font-size="38">&#916;</text><text x="1154" y="1029.5">H=5.23J/g</text>
</g>
<!-- tick labels -->
<text x="121.5" y="1201" text-anchor="middle" font-size="56">50</text><text x="428.5" y="1201" text-anchor="middle" font-size="56">60</text><text x="735.5" y="1201" text-anchor="middle" font-size="56">70</text><text x="1042.5" y="1201" text-anchor="middle" font-size="56">80</text><text x="1349.5" y="1201" text-anchor="middle" font-size="56">90</text>
<!-- axis titles -->
<text x="610" y="1275" font-size="57.4">Temperature (&#176;C)</text>
<text transform="translate(62,819) rotate(-90)" font-size="57.4">Heat flow (mW/mg)</text>
</svg>
</body></html>
